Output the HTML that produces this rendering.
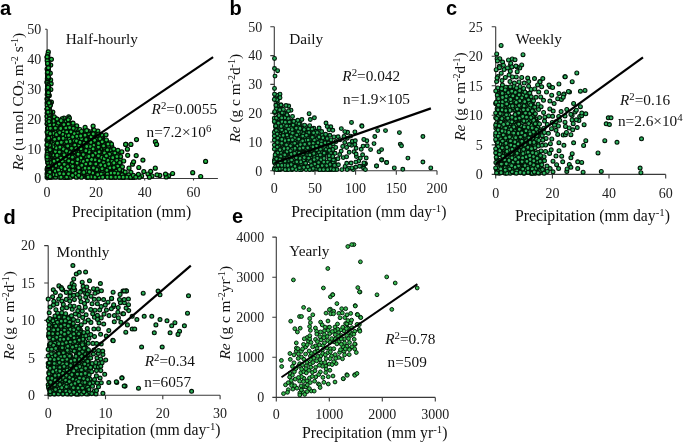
<!DOCTYPE html><html><head><meta charset="utf-8"><style>html,body{margin:0;padding:0;background:#fff;overflow:hidden}svg{display:block;filter:blur(0.35px)}</style></head><body><svg width="685" height="442" viewBox="0 0 685 442">
<style>.ax{stroke:#3a3a3a;stroke-width:1.1;fill:none}.tl{font-family:"Liberation Serif",serif;font-size:14px;fill:#222}.tt{font-family:"Liberation Serif",serif;font-size:15.3px;fill:#111}.pl{font-family:"Liberation Sans",sans-serif;font-size:20px;font-weight:bold;fill:#000}.xl{font-size:15.75px}.rl{stroke:#000;stroke-width:2.2;fill:none;stroke-linecap:butt}.da circle{r:2.0px}.db circle{r:1.9px}.dc circle{r:1.95px}.dd circle{r:1.95px}.de circle{r:1.9px}</style>
<rect width="685" height="442" fill="#fff"/>
<g>
<path d="M47.1 29.3V178.5H217.9" class="ax"/><path d="M45.1 178.5H47.1M45.1 148.7H47.1M45.1 118.8H47.1M45.1 89.0H47.1M45.1 59.1H47.1M45.1 29.3H47.1M47.1 178.5v2M95.9 178.5v2M144.7 178.5v2M193.5 178.5v2" class="ax"/>
<path d="M274.3 26.8V170.8H437.0" class="ax"/><path d="M270.3 170.8H274.3M270.3 142.0H274.3M270.3 113.2H274.3M270.3 84.4H274.3M270.3 55.6H274.3M270.3 26.8H274.3M274.3 170.8v4M315.0 170.8v4M355.6 170.8v4M396.3 170.8v4M437.0 170.8v4" class="ax"/>
<path d="M495.7 26.7V174.4H665.7" class="ax"/><path d="M491.7 174.4H495.7M491.7 144.9H495.7M491.7 115.3H495.7M491.7 85.8H495.7M491.7 56.2H495.7M491.7 26.7H495.7M495.7 174.4v4M552.4 174.4v4M609.0 174.4v4M665.7 174.4v4" class="ax"/>
<path d="M48.2 245.6V395.2H220.1" class="ax"/><path d="M44.2 395.2H48.2M44.2 357.8H48.2M44.2 320.4H48.2M44.2 283.0H48.2M44.2 245.6H48.2M48.2 395.2v4M105.5 395.2v4M162.8 395.2v4M220.1 395.2v4" class="ax"/>
<path d="M276.3 237.1V397.4H435.3" class="ax"/><path d="M272.3 397.4H276.3M272.3 357.3H276.3M272.3 317.2H276.3M272.3 277.2H276.3M272.3 237.1H276.3M276.3 397.4v4M329.3 397.4v4M382.3 397.4v4M435.3 397.4v4" class="ax"/>
</g>
<g fill="#22bc44" stroke="#011004" stroke-width="1.2" class="da">
<circle cx="83.0" cy="151.6"/><circle cx="109.1" cy="167.7"/><circle cx="103.8" cy="168.6"/><circle cx="90.4" cy="156.3"/><circle cx="82.2" cy="145.3"/><circle cx="108.1" cy="146.0"/><circle cx="63.6" cy="158.1"/><circle cx="65.7" cy="146.6"/><circle cx="57.4" cy="160.7"/><circle cx="129.4" cy="177.2"/><circle cx="77.2" cy="135.4"/><circle cx="74.0" cy="148.6"/><circle cx="51.3" cy="161.4"/><circle cx="89.1" cy="152.8"/><circle cx="51.8" cy="149.9"/><circle cx="102.1" cy="174.6"/><circle cx="73.9" cy="152.8"/><circle cx="74.2" cy="156.3"/><circle cx="91.9" cy="135.8"/><circle cx="59.3" cy="125.5"/><circle cx="70.4" cy="172.7"/><circle cx="48.5" cy="124.6"/><circle cx="88.5" cy="156.8"/><circle cx="70.8" cy="140.4"/><circle cx="85.4" cy="140.7"/><circle cx="50.6" cy="134.1"/><circle cx="61.0" cy="147.1"/><circle cx="104.0" cy="149.3"/><circle cx="112.4" cy="166.6"/><circle cx="132.1" cy="175.5"/><circle cx="117.8" cy="163.3"/><circle cx="66.6" cy="170.8"/><circle cx="49.8" cy="134.1"/><circle cx="83.7" cy="157.9"/><circle cx="78.6" cy="169.0"/><circle cx="55.7" cy="121.3"/><circle cx="92.4" cy="176.8"/><circle cx="57.5" cy="147.9"/><circle cx="91.4" cy="160.8"/><circle cx="125.8" cy="176.4"/><circle cx="85.1" cy="143.3"/><circle cx="70.9" cy="176.6"/><circle cx="50.0" cy="121.7"/><circle cx="72.1" cy="160.5"/><circle cx="75.8" cy="132.7"/><circle cx="72.4" cy="165.8"/><circle cx="86.8" cy="170.0"/><circle cx="108.7" cy="147.7"/><circle cx="86.8" cy="132.7"/><circle cx="82.8" cy="147.8"/><circle cx="69.8" cy="139.0"/><circle cx="68.3" cy="122.0"/><circle cx="76.8" cy="161.6"/><circle cx="48.5" cy="142.4"/><circle cx="64.1" cy="121.1"/><circle cx="76.9" cy="163.9"/><circle cx="99.4" cy="149.8"/><circle cx="98.6" cy="151.3"/><circle cx="112.0" cy="152.2"/><circle cx="67.1" cy="132.7"/><circle cx="106.4" cy="166.2"/><circle cx="62.5" cy="147.1"/><circle cx="51.3" cy="175.4"/><circle cx="81.0" cy="153.3"/><circle cx="73.4" cy="144.2"/><circle cx="89.7" cy="137.0"/><circle cx="92.8" cy="174.9"/><circle cx="60.5" cy="152.0"/><circle cx="95.2" cy="149.4"/><circle cx="77.7" cy="149.1"/><circle cx="67.0" cy="144.3"/><circle cx="58.7" cy="151.1"/><circle cx="72.4" cy="163.0"/><circle cx="107.3" cy="142.6"/><circle cx="113.5" cy="152.1"/><circle cx="117.3" cy="166.2"/><circle cx="62.6" cy="128.5"/><circle cx="62.9" cy="175.2"/><circle cx="74.0" cy="129.0"/><circle cx="81.4" cy="131.9"/><circle cx="86.9" cy="175.0"/><circle cx="65.5" cy="147.3"/><circle cx="79.5" cy="149.6"/><circle cx="99.7" cy="143.3"/><circle cx="112.2" cy="161.4"/><circle cx="71.2" cy="151.8"/><circle cx="68.9" cy="166.5"/><circle cx="84.3" cy="158.9"/><circle cx="81.7" cy="147.6"/><circle cx="48.6" cy="130.6"/><circle cx="70.8" cy="154.8"/><circle cx="93.7" cy="162.9"/><circle cx="97.5" cy="163.9"/><circle cx="84.1" cy="159.8"/><circle cx="107.9" cy="157.5"/><circle cx="60.5" cy="162.2"/><circle cx="84.9" cy="163.7"/><circle cx="82.6" cy="171.3"/><circle cx="65.1" cy="155.2"/><circle cx="113.3" cy="158.4"/><circle cx="77.9" cy="150.7"/><circle cx="56.1" cy="121.3"/><circle cx="65.5" cy="151.4"/><circle cx="95.3" cy="172.7"/><circle cx="78.8" cy="155.5"/><circle cx="88.4" cy="143.8"/><circle cx="68.9" cy="175.1"/><circle cx="79.2" cy="151.8"/><circle cx="56.1" cy="168.7"/><circle cx="80.8" cy="143.8"/><circle cx="76.0" cy="136.8"/><circle cx="48.3" cy="135.5"/><circle cx="62.3" cy="152.8"/><circle cx="51.5" cy="121.5"/><circle cx="75.1" cy="147.6"/><circle cx="90.6" cy="175.6"/><circle cx="97.7" cy="159.7"/><circle cx="106.3" cy="166.3"/><circle cx="107.9" cy="149.4"/><circle cx="76.4" cy="147.9"/><circle cx="77.1" cy="171.9"/><circle cx="74.7" cy="139.2"/><circle cx="105.4" cy="151.7"/><circle cx="88.2" cy="174.5"/><circle cx="100.6" cy="137.1"/><circle cx="79.1" cy="150.5"/><circle cx="64.4" cy="130.1"/><circle cx="77.2" cy="157.5"/><circle cx="95.8" cy="142.2"/><circle cx="123.2" cy="177.2"/><circle cx="96.9" cy="175.4"/><circle cx="82.5" cy="136.0"/><circle cx="53.2" cy="154.4"/><circle cx="56.5" cy="155.2"/><circle cx="67.6" cy="167.9"/><circle cx="97.8" cy="158.0"/><circle cx="48.6" cy="142.7"/><circle cx="49.0" cy="169.5"/><circle cx="110.4" cy="176.8"/><circle cx="110.2" cy="174.0"/><circle cx="59.0" cy="136.8"/><circle cx="69.5" cy="154.7"/><circle cx="54.9" cy="129.6"/><circle cx="78.3" cy="151.4"/><circle cx="62.9" cy="166.0"/><circle cx="97.5" cy="167.4"/><circle cx="72.9" cy="150.0"/><circle cx="87.4" cy="165.1"/><circle cx="64.9" cy="124.3"/><circle cx="103.1" cy="148.6"/><circle cx="51.9" cy="119.9"/><circle cx="94.0" cy="137.7"/><circle cx="76.1" cy="137.4"/><circle cx="80.6" cy="169.6"/><circle cx="118.8" cy="168.0"/><circle cx="91.7" cy="135.3"/><circle cx="118.0" cy="155.7"/><circle cx="75.1" cy="136.2"/><circle cx="70.7" cy="168.3"/><circle cx="75.4" cy="155.9"/><circle cx="67.1" cy="173.9"/><circle cx="52.0" cy="119.9"/><circle cx="110.0" cy="163.8"/><circle cx="101.5" cy="142.7"/><circle cx="133.2" cy="177.2"/><circle cx="69.4" cy="144.5"/><circle cx="81.9" cy="141.5"/><circle cx="55.4" cy="167.1"/><circle cx="89.9" cy="147.7"/><circle cx="94.8" cy="162.6"/><circle cx="52.9" cy="164.1"/><circle cx="129.9" cy="175.1"/><circle cx="114.7" cy="170.0"/><circle cx="94.4" cy="149.5"/><circle cx="101.1" cy="154.9"/><circle cx="91.0" cy="136.6"/><circle cx="71.8" cy="124.2"/><circle cx="103.1" cy="174.2"/><circle cx="83.4" cy="155.6"/><circle cx="112.4" cy="149.5"/><circle cx="75.5" cy="171.0"/><circle cx="55.3" cy="168.8"/><circle cx="94.9" cy="144.9"/><circle cx="78.4" cy="129.8"/><circle cx="74.7" cy="165.5"/><circle cx="83.0" cy="147.7"/><circle cx="71.8" cy="131.1"/><circle cx="133.0" cy="177.2"/><circle cx="99.2" cy="151.7"/><circle cx="95.7" cy="150.6"/><circle cx="64.1" cy="141.0"/><circle cx="89.5" cy="138.9"/><circle cx="69.2" cy="126.3"/><circle cx="72.5" cy="136.3"/><circle cx="51.3" cy="136.6"/><circle cx="67.1" cy="158.5"/><circle cx="77.0" cy="167.6"/><circle cx="70.4" cy="136.9"/><circle cx="85.0" cy="161.6"/><circle cx="117.0" cy="156.4"/><circle cx="100.5" cy="166.9"/><circle cx="93.5" cy="147.2"/><circle cx="108.0" cy="159.7"/><circle cx="96.9" cy="159.9"/><circle cx="106.6" cy="152.7"/><circle cx="70.7" cy="131.9"/><circle cx="58.2" cy="166.7"/><circle cx="50.8" cy="118.9"/><circle cx="85.8" cy="145.7"/><circle cx="84.7" cy="144.8"/><circle cx="98.6" cy="145.3"/><circle cx="57.0" cy="124.3"/><circle cx="54.2" cy="143.0"/><circle cx="87.6" cy="159.3"/><circle cx="57.5" cy="154.6"/><circle cx="109.6" cy="158.5"/><circle cx="84.6" cy="152.4"/><circle cx="52.4" cy="130.5"/><circle cx="107.0" cy="151.9"/><circle cx="83.5" cy="165.4"/><circle cx="73.5" cy="165.5"/><circle cx="71.4" cy="128.7"/><circle cx="51.9" cy="133.2"/><circle cx="51.5" cy="133.1"/><circle cx="52.0" cy="122.8"/><circle cx="67.5" cy="129.0"/><circle cx="109.0" cy="176.1"/><circle cx="86.7" cy="172.5"/><circle cx="78.2" cy="176.8"/><circle cx="99.9" cy="165.5"/><circle cx="96.1" cy="177.2"/><circle cx="65.8" cy="165.4"/><circle cx="67.4" cy="142.7"/><circle cx="81.8" cy="166.2"/><circle cx="76.0" cy="149.2"/><circle cx="50.9" cy="171.9"/><circle cx="114.9" cy="176.0"/><circle cx="57.0" cy="128.6"/><circle cx="59.8" cy="132.3"/><circle cx="66.9" cy="142.6"/><circle cx="74.7" cy="132.5"/><circle cx="49.6" cy="168.7"/><circle cx="96.4" cy="140.7"/><circle cx="52.8" cy="167.2"/><circle cx="87.1" cy="142.5"/><circle cx="52.5" cy="122.0"/><circle cx="92.1" cy="153.0"/><circle cx="110.0" cy="168.6"/><circle cx="87.4" cy="154.9"/><circle cx="65.0" cy="152.1"/><circle cx="68.1" cy="161.4"/><circle cx="118.5" cy="163.6"/><circle cx="66.3" cy="140.4"/><circle cx="91.9" cy="163.7"/><circle cx="70.2" cy="145.5"/><circle cx="61.2" cy="162.0"/><circle cx="77.3" cy="163.3"/><circle cx="80.7" cy="176.5"/><circle cx="103.5" cy="168.1"/><circle cx="67.3" cy="142.3"/><circle cx="116.8" cy="163.8"/><circle cx="56.2" cy="163.9"/><circle cx="49.2" cy="136.4"/><circle cx="76.2" cy="134.7"/><circle cx="82.3" cy="169.8"/><circle cx="94.6" cy="170.2"/><circle cx="61.4" cy="149.6"/><circle cx="58.8" cy="150.5"/><circle cx="79.9" cy="168.7"/><circle cx="71.3" cy="131.4"/><circle cx="117.8" cy="169.4"/><circle cx="56.5" cy="140.0"/><circle cx="66.0" cy="172.3"/><circle cx="71.2" cy="166.3"/><circle cx="97.9" cy="177.2"/><circle cx="56.1" cy="118.9"/><circle cx="53.1" cy="134.9"/><circle cx="87.7" cy="177.2"/><circle cx="54.3" cy="124.0"/><circle cx="97.4" cy="154.2"/><circle cx="55.5" cy="166.7"/><circle cx="49.0" cy="124.6"/><circle cx="120.3" cy="171.0"/><circle cx="47.1" cy="116.2"/><circle cx="50.0" cy="169.0"/><circle cx="81.7" cy="146.8"/><circle cx="81.2" cy="148.6"/><circle cx="50.3" cy="169.7"/><circle cx="80.3" cy="155.7"/><circle cx="57.1" cy="146.2"/><circle cx="117.7" cy="176.0"/><circle cx="111.9" cy="168.5"/><circle cx="71.1" cy="165.8"/><circle cx="101.3" cy="151.9"/><circle cx="71.8" cy="126.5"/><circle cx="86.0" cy="140.5"/><circle cx="82.8" cy="137.3"/><circle cx="50.1" cy="164.3"/><circle cx="55.1" cy="164.3"/><circle cx="96.8" cy="175.9"/><circle cx="81.8" cy="171.1"/><circle cx="62.1" cy="163.7"/><circle cx="109.3" cy="173.5"/><circle cx="65.5" cy="145.8"/><circle cx="50.4" cy="133.5"/><circle cx="75.0" cy="130.0"/><circle cx="54.2" cy="155.2"/><circle cx="91.5" cy="177.2"/><circle cx="104.6" cy="169.7"/><circle cx="68.9" cy="127.7"/><circle cx="51.2" cy="123.1"/><circle cx="57.7" cy="168.1"/><circle cx="49.2" cy="155.9"/><circle cx="132.4" cy="177.2"/><circle cx="73.4" cy="150.2"/><circle cx="49.4" cy="169.2"/><circle cx="54.0" cy="168.4"/><circle cx="93.7" cy="134.2"/><circle cx="66.1" cy="177.2"/><circle cx="87.7" cy="174.1"/><circle cx="84.6" cy="163.4"/><circle cx="69.6" cy="160.0"/><circle cx="49.0" cy="171.3"/><circle cx="78.2" cy="134.2"/><circle cx="98.5" cy="158.9"/><circle cx="98.1" cy="154.0"/><circle cx="64.1" cy="142.4"/><circle cx="60.7" cy="123.9"/><circle cx="79.8" cy="136.1"/><circle cx="73.8" cy="137.0"/><circle cx="49.4" cy="174.9"/><circle cx="55.8" cy="131.8"/><circle cx="62.5" cy="139.3"/><circle cx="88.2" cy="163.0"/><circle cx="93.1" cy="139.3"/><circle cx="63.6" cy="127.4"/><circle cx="100.3" cy="142.6"/><circle cx="91.6" cy="175.0"/><circle cx="66.2" cy="125.0"/><circle cx="49.1" cy="137.1"/><circle cx="53.4" cy="153.8"/><circle cx="77.6" cy="152.6"/><circle cx="55.3" cy="121.5"/><circle cx="94.7" cy="149.7"/><circle cx="48.2" cy="160.2"/><circle cx="63.0" cy="167.2"/><circle cx="77.8" cy="139.0"/><circle cx="50.9" cy="157.6"/><circle cx="67.8" cy="159.0"/><circle cx="56.9" cy="123.7"/><circle cx="61.7" cy="153.1"/><circle cx="90.3" cy="173.7"/><circle cx="78.4" cy="155.6"/><circle cx="50.6" cy="157.8"/><circle cx="70.5" cy="172.5"/><circle cx="101.5" cy="172.9"/><circle cx="62.7" cy="151.8"/><circle cx="82.1" cy="165.1"/><circle cx="52.5" cy="155.9"/><circle cx="75.4" cy="128.0"/><circle cx="51.2" cy="117.6"/><circle cx="64.2" cy="132.5"/><circle cx="53.1" cy="129.3"/><circle cx="84.9" cy="140.4"/><circle cx="59.6" cy="131.3"/><circle cx="61.0" cy="120.8"/><circle cx="94.2" cy="154.2"/><circle cx="100.2" cy="165.1"/><circle cx="50.2" cy="161.9"/><circle cx="87.2" cy="167.4"/><circle cx="79.4" cy="167.8"/><circle cx="60.7" cy="138.7"/><circle cx="59.2" cy="172.8"/><circle cx="96.6" cy="174.3"/><circle cx="115.2" cy="159.0"/><circle cx="120.6" cy="170.5"/><circle cx="102.0" cy="175.1"/><circle cx="56.9" cy="140.0"/><circle cx="56.6" cy="131.6"/><circle cx="73.9" cy="157.6"/><circle cx="85.7" cy="168.0"/><circle cx="92.7" cy="139.8"/><circle cx="51.1" cy="126.0"/><circle cx="105.3" cy="153.6"/><circle cx="68.9" cy="155.3"/><circle cx="56.3" cy="169.1"/><circle cx="76.3" cy="144.3"/><circle cx="67.6" cy="133.6"/><circle cx="96.2" cy="152.0"/><circle cx="70.6" cy="133.0"/><circle cx="61.7" cy="165.6"/><circle cx="63.6" cy="167.1"/><circle cx="70.7" cy="157.9"/><circle cx="97.9" cy="170.4"/><circle cx="72.6" cy="127.9"/><circle cx="101.3" cy="146.7"/><circle cx="51.4" cy="159.6"/><circle cx="104.3" cy="175.6"/><circle cx="55.0" cy="160.4"/><circle cx="115.5" cy="176.0"/><circle cx="107.0" cy="173.4"/><circle cx="55.8" cy="127.5"/><circle cx="55.2" cy="131.8"/><circle cx="108.7" cy="156.8"/><circle cx="67.3" cy="172.7"/><circle cx="125.0" cy="174.7"/><circle cx="59.6" cy="165.2"/><circle cx="75.7" cy="140.9"/><circle cx="49.0" cy="173.8"/><circle cx="50.4" cy="117.2"/><circle cx="60.1" cy="129.1"/><circle cx="68.2" cy="159.6"/><circle cx="109.0" cy="159.4"/><circle cx="66.6" cy="152.3"/><circle cx="115.5" cy="175.9"/><circle cx="83.7" cy="171.2"/><circle cx="95.2" cy="162.9"/><circle cx="65.9" cy="137.8"/><circle cx="64.8" cy="177.2"/><circle cx="108.4" cy="160.2"/><circle cx="59.8" cy="133.5"/><circle cx="112.1" cy="167.3"/><circle cx="54.4" cy="174.0"/><circle cx="57.6" cy="124.9"/><circle cx="116.7" cy="153.0"/><circle cx="86.2" cy="147.3"/><circle cx="67.0" cy="128.3"/><circle cx="49.6" cy="140.0"/><circle cx="69.3" cy="142.2"/><circle cx="76.6" cy="127.6"/><circle cx="51.6" cy="137.7"/><circle cx="67.7" cy="149.4"/><circle cx="52.8" cy="119.8"/><circle cx="102.9" cy="147.5"/><circle cx="78.7" cy="133.9"/><circle cx="74.4" cy="155.7"/><circle cx="113.9" cy="174.6"/><circle cx="75.1" cy="156.3"/><circle cx="110.5" cy="146.9"/><circle cx="66.8" cy="166.4"/><circle cx="52.2" cy="177.2"/><circle cx="105.3" cy="176.2"/><circle cx="56.5" cy="137.1"/><circle cx="102.5" cy="148.6"/><circle cx="69.2" cy="135.0"/><circle cx="60.2" cy="130.1"/><circle cx="113.2" cy="156.6"/><circle cx="91.1" cy="158.5"/><circle cx="61.2" cy="162.6"/><circle cx="84.5" cy="133.5"/><circle cx="47.9" cy="130.4"/><circle cx="66.1" cy="125.4"/><circle cx="52.8" cy="164.8"/><circle cx="62.9" cy="140.7"/><circle cx="100.6" cy="153.0"/><circle cx="70.9" cy="163.0"/><circle cx="96.0" cy="142.6"/><circle cx="68.3" cy="143.7"/><circle cx="53.6" cy="141.8"/><circle cx="67.0" cy="131.7"/><circle cx="77.5" cy="173.5"/><circle cx="55.9" cy="151.5"/><circle cx="73.0" cy="146.1"/><circle cx="50.6" cy="145.5"/><circle cx="103.4" cy="161.5"/><circle cx="91.5" cy="141.0"/><circle cx="92.4" cy="177.2"/><circle cx="93.1" cy="154.1"/><circle cx="99.1" cy="173.8"/><circle cx="52.0" cy="126.8"/><circle cx="102.6" cy="138.0"/><circle cx="117.6" cy="160.4"/><circle cx="83.9" cy="165.7"/><circle cx="91.0" cy="138.1"/><circle cx="53.5" cy="127.1"/><circle cx="102.9" cy="166.5"/><circle cx="118.5" cy="163.1"/><circle cx="92.8" cy="144.9"/><circle cx="96.0" cy="171.8"/><circle cx="97.2" cy="167.8"/><circle cx="67.3" cy="157.3"/><circle cx="63.1" cy="130.9"/><circle cx="77.9" cy="143.7"/><circle cx="60.1" cy="132.9"/><circle cx="76.1" cy="165.0"/><circle cx="113.4" cy="168.2"/><circle cx="81.7" cy="160.6"/><circle cx="52.3" cy="145.8"/><circle cx="120.1" cy="174.4"/><circle cx="76.5" cy="149.3"/><circle cx="126.4" cy="175.7"/><circle cx="89.6" cy="152.2"/><circle cx="56.0" cy="167.0"/><circle cx="75.4" cy="154.1"/><circle cx="84.5" cy="174.7"/><circle cx="79.7" cy="146.1"/><circle cx="61.3" cy="137.5"/><circle cx="75.7" cy="157.6"/><circle cx="95.1" cy="157.0"/><circle cx="116.3" cy="160.1"/><circle cx="71.9" cy="124.6"/><circle cx="62.1" cy="121.6"/><circle cx="56.6" cy="156.6"/><circle cx="68.6" cy="134.5"/><circle cx="75.1" cy="145.6"/><circle cx="90.4" cy="167.3"/><circle cx="85.9" cy="159.4"/><circle cx="48.3" cy="164.1"/><circle cx="87.3" cy="158.5"/><circle cx="106.6" cy="169.0"/><circle cx="76.5" cy="172.3"/><circle cx="61.2" cy="166.3"/><circle cx="95.9" cy="143.0"/><circle cx="67.2" cy="130.3"/><circle cx="116.1" cy="176.6"/><circle cx="110.6" cy="150.6"/><circle cx="61.4" cy="148.8"/><circle cx="73.8" cy="160.8"/><circle cx="80.0" cy="165.9"/><circle cx="48.7" cy="140.1"/><circle cx="92.8" cy="160.6"/><circle cx="80.6" cy="153.4"/><circle cx="73.4" cy="173.5"/><circle cx="70.0" cy="141.3"/><circle cx="99.4" cy="162.2"/><circle cx="64.7" cy="168.0"/><circle cx="56.2" cy="152.5"/><circle cx="54.0" cy="148.1"/><circle cx="62.5" cy="159.6"/><circle cx="94.4" cy="145.9"/><circle cx="70.3" cy="129.3"/><circle cx="73.2" cy="131.2"/><circle cx="93.3" cy="138.7"/><circle cx="98.7" cy="153.6"/><circle cx="110.2" cy="166.3"/><circle cx="93.3" cy="164.5"/><circle cx="76.9" cy="174.5"/><circle cx="93.2" cy="172.0"/><circle cx="70.7" cy="144.4"/><circle cx="100.0" cy="159.3"/><circle cx="51.2" cy="128.7"/><circle cx="116.2" cy="174.6"/><circle cx="102.2" cy="147.9"/><circle cx="74.6" cy="173.0"/><circle cx="100.8" cy="151.4"/><circle cx="119.9" cy="168.3"/><circle cx="69.8" cy="158.2"/><circle cx="76.8" cy="166.7"/><circle cx="102.2" cy="170.2"/><circle cx="81.5" cy="149.1"/><circle cx="50.3" cy="165.5"/><circle cx="111.3" cy="161.5"/><circle cx="67.8" cy="169.6"/><circle cx="101.7" cy="148.4"/><circle cx="68.1" cy="177.2"/><circle cx="102.1" cy="153.3"/><circle cx="97.0" cy="160.8"/><circle cx="76.3" cy="148.3"/><circle cx="59.7" cy="153.6"/><circle cx="58.4" cy="131.5"/><circle cx="81.2" cy="140.2"/><circle cx="56.1" cy="147.4"/><circle cx="131.5" cy="177.2"/><circle cx="89.6" cy="141.6"/><circle cx="115.2" cy="177.2"/><circle cx="58.7" cy="165.3"/><circle cx="61.8" cy="142.8"/><circle cx="112.2" cy="162.1"/><circle cx="60.3" cy="124.6"/><circle cx="95.7" cy="166.9"/><circle cx="90.6" cy="158.2"/><circle cx="80.0" cy="147.2"/><circle cx="78.4" cy="150.8"/><circle cx="106.3" cy="175.3"/><circle cx="92.8" cy="147.7"/><circle cx="104.4" cy="150.1"/><circle cx="117.2" cy="174.9"/><circle cx="54.8" cy="165.3"/><circle cx="60.4" cy="159.9"/><circle cx="49.1" cy="157.0"/><circle cx="87.2" cy="146.9"/><circle cx="110.5" cy="175.1"/><circle cx="101.2" cy="158.2"/><circle cx="55.9" cy="155.3"/><circle cx="119.7" cy="176.2"/><circle cx="79.8" cy="141.8"/><circle cx="60.8" cy="177.2"/><circle cx="85.9" cy="148.1"/><circle cx="90.8" cy="174.5"/><circle cx="119.4" cy="163.6"/><circle cx="84.2" cy="169.9"/><circle cx="85.4" cy="146.7"/><circle cx="91.4" cy="155.4"/><circle cx="94.6" cy="155.8"/><circle cx="54.5" cy="128.5"/><circle cx="94.3" cy="156.9"/><circle cx="53.7" cy="144.2"/><circle cx="76.2" cy="166.5"/><circle cx="65.4" cy="177.1"/><circle cx="120.1" cy="170.7"/><circle cx="65.2" cy="123.8"/><circle cx="105.0" cy="166.6"/><circle cx="87.8" cy="172.9"/><circle cx="91.2" cy="133.5"/><circle cx="120.5" cy="160.2"/><circle cx="89.3" cy="150.3"/><circle cx="59.9" cy="149.0"/><circle cx="51.6" cy="136.0"/><circle cx="123.3" cy="177.2"/><circle cx="58.9" cy="177.1"/><circle cx="50.4" cy="177.2"/><circle cx="62.7" cy="136.5"/><circle cx="97.1" cy="162.7"/><circle cx="96.4" cy="166.1"/><circle cx="50.7" cy="131.5"/><circle cx="100.2" cy="141.4"/><circle cx="54.8" cy="138.7"/><circle cx="86.9" cy="172.6"/><circle cx="102.9" cy="165.2"/><circle cx="116.4" cy="171.5"/><circle cx="105.3" cy="171.5"/><circle cx="68.8" cy="156.5"/><circle cx="53.2" cy="123.5"/><circle cx="51.9" cy="172.4"/><circle cx="55.7" cy="145.2"/><circle cx="50.7" cy="118.2"/><circle cx="97.5" cy="169.7"/><circle cx="85.8" cy="164.4"/><circle cx="89.1" cy="158.5"/><circle cx="103.5" cy="146.2"/><circle cx="71.5" cy="150.5"/><circle cx="69.9" cy="155.8"/><circle cx="66.5" cy="163.7"/><circle cx="66.2" cy="131.1"/><circle cx="54.6" cy="171.3"/><circle cx="83.0" cy="151.6"/><circle cx="96.9" cy="171.7"/><circle cx="87.6" cy="170.5"/><circle cx="60.4" cy="172.9"/><circle cx="55.4" cy="128.0"/><circle cx="133.5" cy="177.2"/><circle cx="95.6" cy="170.1"/><circle cx="101.0" cy="141.9"/><circle cx="78.7" cy="141.1"/><circle cx="49.5" cy="139.3"/><circle cx="80.1" cy="159.8"/><circle cx="49.2" cy="119.0"/><circle cx="68.7" cy="156.4"/><circle cx="54.3" cy="164.7"/><circle cx="88.5" cy="159.5"/><circle cx="70.3" cy="154.7"/><circle cx="115.3" cy="155.8"/><circle cx="115.9" cy="159.7"/><circle cx="63.9" cy="162.2"/><circle cx="117.4" cy="155.3"/><circle cx="90.4" cy="147.7"/><circle cx="74.8" cy="132.8"/><circle cx="64.8" cy="143.4"/><circle cx="85.3" cy="158.9"/><circle cx="66.8" cy="133.8"/><circle cx="117.8" cy="165.6"/><circle cx="122.4" cy="177.2"/><circle cx="121.3" cy="175.0"/><circle cx="109.3" cy="164.5"/><circle cx="68.1" cy="124.6"/><circle cx="85.8" cy="142.3"/><circle cx="100.4" cy="174.8"/><circle cx="110.0" cy="158.2"/><circle cx="93.9" cy="148.1"/><circle cx="65.8" cy="142.7"/><circle cx="87.7" cy="135.1"/><circle cx="64.0" cy="122.8"/><circle cx="85.6" cy="162.0"/><circle cx="56.0" cy="160.9"/><circle cx="94.0" cy="140.3"/><circle cx="98.5" cy="160.8"/><circle cx="86.6" cy="150.9"/><circle cx="109.9" cy="166.2"/><circle cx="78.4" cy="144.5"/><circle cx="110.1" cy="165.0"/><circle cx="56.6" cy="141.6"/><circle cx="56.3" cy="122.7"/><circle cx="112.9" cy="152.0"/><circle cx="52.1" cy="131.0"/><circle cx="96.7" cy="170.7"/><circle cx="102.7" cy="145.9"/><circle cx="68.5" cy="135.1"/><circle cx="69.9" cy="139.7"/><circle cx="69.7" cy="173.5"/><circle cx="74.1" cy="175.2"/><circle cx="99.2" cy="152.6"/><circle cx="69.6" cy="174.8"/><circle cx="102.3" cy="167.2"/><circle cx="59.0" cy="138.2"/><circle cx="71.8" cy="159.6"/><circle cx="61.5" cy="157.5"/><circle cx="71.1" cy="154.7"/><circle cx="90.5" cy="156.6"/><circle cx="133.3" cy="175.6"/><circle cx="50.2" cy="172.0"/><circle cx="55.0" cy="145.2"/><circle cx="112.8" cy="177.2"/><circle cx="61.4" cy="140.8"/><circle cx="68.4" cy="163.9"/><circle cx="90.5" cy="171.2"/><circle cx="73.7" cy="166.7"/><circle cx="86.7" cy="177.2"/><circle cx="111.3" cy="152.7"/><circle cx="86.8" cy="143.6"/><circle cx="53.4" cy="168.4"/><circle cx="54.2" cy="159.8"/><circle cx="72.2" cy="129.2"/><circle cx="75.7" cy="132.0"/><circle cx="62.0" cy="127.7"/><circle cx="64.2" cy="177.2"/><circle cx="57.5" cy="144.9"/><circle cx="116.8" cy="153.6"/><circle cx="85.7" cy="173.1"/><circle cx="65.7" cy="162.0"/><circle cx="91.0" cy="136.8"/><circle cx="94.1" cy="156.9"/><circle cx="52.1" cy="130.5"/><circle cx="81.0" cy="132.7"/><circle cx="56.0" cy="162.3"/><circle cx="111.7" cy="146.0"/><circle cx="55.8" cy="127.8"/><circle cx="48.5" cy="146.6"/><circle cx="77.4" cy="151.7"/><circle cx="104.9" cy="170.0"/><circle cx="94.0" cy="150.9"/><circle cx="66.0" cy="147.2"/><circle cx="119.4" cy="177.2"/><circle cx="47.7" cy="171.0"/><circle cx="87.8" cy="135.9"/><circle cx="76.1" cy="157.2"/><circle cx="98.3" cy="176.7"/><circle cx="47.7" cy="167.7"/><circle cx="98.8" cy="145.7"/><circle cx="70.0" cy="154.0"/><circle cx="106.3" cy="162.6"/><circle cx="70.2" cy="127.1"/><circle cx="100.9" cy="138.4"/><circle cx="76.4" cy="153.3"/><circle cx="137.3" cy="176.0"/><circle cx="49.3" cy="160.9"/><circle cx="48.1" cy="128.7"/><circle cx="59.3" cy="153.1"/><circle cx="48.4" cy="155.0"/><circle cx="64.3" cy="162.9"/><circle cx="53.6" cy="162.8"/><circle cx="67.0" cy="143.6"/><circle cx="71.5" cy="164.7"/><circle cx="99.9" cy="156.6"/><circle cx="69.1" cy="161.4"/><circle cx="122.9" cy="171.3"/><circle cx="67.1" cy="173.7"/><circle cx="101.0" cy="169.3"/><circle cx="50.4" cy="132.7"/><circle cx="79.0" cy="172.3"/><circle cx="61.6" cy="125.6"/><circle cx="96.9" cy="145.4"/><circle cx="55.2" cy="126.3"/><circle cx="54.5" cy="125.6"/><circle cx="118.4" cy="166.1"/><circle cx="66.3" cy="124.4"/><circle cx="54.8" cy="160.3"/><circle cx="60.3" cy="149.9"/><circle cx="96.0" cy="167.7"/><circle cx="56.6" cy="164.3"/><circle cx="71.2" cy="142.3"/><circle cx="98.2" cy="148.2"/><circle cx="97.1" cy="148.0"/><circle cx="72.1" cy="123.4"/><circle cx="105.1" cy="157.8"/><circle cx="100.9" cy="155.0"/><circle cx="80.6" cy="132.6"/><circle cx="91.4" cy="169.4"/><circle cx="107.6" cy="168.4"/><circle cx="49.3" cy="135.4"/><circle cx="49.2" cy="158.0"/><circle cx="96.9" cy="175.1"/><circle cx="64.9" cy="148.0"/><circle cx="60.1" cy="171.6"/><circle cx="123.8" cy="173.0"/><circle cx="90.9" cy="144.5"/><circle cx="56.4" cy="140.8"/><circle cx="103.4" cy="143.6"/><circle cx="113.3" cy="167.2"/><circle cx="59.1" cy="172.7"/><circle cx="63.4" cy="167.9"/><circle cx="79.4" cy="158.0"/><circle cx="100.9" cy="158.7"/><circle cx="71.8" cy="160.2"/><circle cx="74.0" cy="171.8"/><circle cx="75.1" cy="171.6"/><circle cx="94.0" cy="143.7"/><circle cx="67.4" cy="167.3"/><circle cx="49.3" cy="154.7"/><circle cx="49.6" cy="145.3"/><circle cx="52.1" cy="164.1"/><circle cx="56.6" cy="128.0"/><circle cx="130.5" cy="177.2"/><circle cx="91.1" cy="135.6"/><circle cx="117.3" cy="154.9"/><circle cx="52.2" cy="164.8"/><circle cx="48.2" cy="107.8"/><circle cx="72.2" cy="156.2"/><circle cx="75.2" cy="138.0"/><circle cx="74.8" cy="157.5"/><circle cx="103.0" cy="141.6"/><circle cx="64.5" cy="168.4"/><circle cx="98.6" cy="152.1"/><circle cx="71.9" cy="161.4"/><circle cx="78.4" cy="158.0"/><circle cx="55.1" cy="157.8"/><circle cx="92.2" cy="145.8"/><circle cx="74.9" cy="142.7"/><circle cx="110.1" cy="157.8"/><circle cx="52.0" cy="169.8"/><circle cx="84.3" cy="160.8"/><circle cx="48.6" cy="169.2"/><circle cx="90.0" cy="148.9"/><circle cx="57.3" cy="145.1"/><circle cx="101.4" cy="171.2"/><circle cx="90.7" cy="146.5"/><circle cx="52.9" cy="166.8"/><circle cx="79.7" cy="153.8"/><circle cx="70.5" cy="133.2"/><circle cx="122.0" cy="174.0"/><circle cx="112.9" cy="158.4"/><circle cx="105.1" cy="172.8"/><circle cx="60.2" cy="153.0"/><circle cx="86.3" cy="161.2"/><circle cx="63.8" cy="143.2"/><circle cx="53.3" cy="142.7"/><circle cx="81.6" cy="174.4"/><circle cx="69.2" cy="137.9"/><circle cx="66.5" cy="164.8"/><circle cx="116.8" cy="163.9"/><circle cx="89.1" cy="135.6"/><circle cx="108.5" cy="174.2"/><circle cx="66.2" cy="120.8"/><circle cx="120.1" cy="164.1"/><circle cx="117.3" cy="167.1"/><circle cx="60.5" cy="161.0"/><circle cx="59.4" cy="154.3"/><circle cx="85.2" cy="131.0"/><circle cx="88.8" cy="133.6"/><circle cx="59.1" cy="170.0"/><circle cx="58.6" cy="130.8"/><circle cx="108.3" cy="168.0"/><circle cx="53.7" cy="137.0"/><circle cx="55.0" cy="134.3"/><circle cx="75.5" cy="156.4"/><circle cx="81.8" cy="154.0"/><circle cx="54.0" cy="156.6"/><circle cx="69.4" cy="124.6"/><circle cx="61.4" cy="121.2"/><circle cx="50.8" cy="124.4"/><circle cx="100.2" cy="153.6"/><circle cx="98.0" cy="158.1"/><circle cx="71.0" cy="124.9"/><circle cx="92.7" cy="137.6"/><circle cx="121.8" cy="170.7"/><circle cx="105.0" cy="148.5"/><circle cx="102.8" cy="164.5"/><circle cx="83.7" cy="144.8"/><circle cx="52.9" cy="143.8"/><circle cx="78.4" cy="164.8"/><circle cx="71.5" cy="147.8"/><circle cx="71.3" cy="165.0"/><circle cx="51.6" cy="130.9"/><circle cx="90.6" cy="167.4"/><circle cx="87.6" cy="144.2"/><circle cx="131.3" cy="175.7"/><circle cx="63.2" cy="175.3"/><circle cx="59.7" cy="163.3"/><circle cx="95.7" cy="136.3"/><circle cx="104.0" cy="141.0"/><circle cx="73.0" cy="153.7"/><circle cx="96.0" cy="155.0"/><circle cx="57.6" cy="134.5"/><circle cx="52.1" cy="161.9"/><circle cx="63.3" cy="160.7"/><circle cx="58.5" cy="155.4"/><circle cx="115.4" cy="164.5"/><circle cx="49.8" cy="121.3"/><circle cx="113.0" cy="158.6"/><circle cx="100.3" cy="172.0"/><circle cx="80.1" cy="159.3"/><circle cx="50.9" cy="124.1"/><circle cx="65.7" cy="130.1"/><circle cx="101.5" cy="137.6"/><circle cx="67.1" cy="153.7"/><circle cx="87.5" cy="176.0"/><circle cx="52.6" cy="153.9"/><circle cx="78.2" cy="167.6"/><circle cx="95.1" cy="165.3"/><circle cx="105.3" cy="154.5"/><circle cx="103.2" cy="172.8"/><circle cx="55.9" cy="157.4"/><circle cx="75.5" cy="153.6"/><circle cx="66.7" cy="138.3"/><circle cx="100.5" cy="170.1"/><circle cx="113.3" cy="158.1"/><circle cx="81.4" cy="151.5"/><circle cx="131.1" cy="175.9"/><circle cx="82.3" cy="137.5"/><circle cx="72.5" cy="157.0"/><circle cx="123.9" cy="177.2"/><circle cx="74.3" cy="170.3"/><circle cx="64.9" cy="126.8"/><circle cx="87.3" cy="139.7"/><circle cx="100.9" cy="139.8"/><circle cx="58.7" cy="167.4"/><circle cx="92.9" cy="168.3"/><circle cx="68.6" cy="169.0"/><circle cx="102.3" cy="170.4"/><circle cx="77.4" cy="158.2"/><circle cx="52.8" cy="173.1"/><circle cx="90.4" cy="143.7"/><circle cx="96.7" cy="177.2"/><circle cx="73.3" cy="125.5"/><circle cx="59.7" cy="144.7"/><circle cx="83.2" cy="152.7"/><circle cx="49.5" cy="159.9"/><circle cx="72.5" cy="126.5"/><circle cx="98.7" cy="174.3"/><circle cx="83.7" cy="169.0"/><circle cx="55.7" cy="159.9"/><circle cx="68.5" cy="160.7"/><circle cx="87.9" cy="152.5"/><circle cx="87.9" cy="155.6"/><circle cx="104.1" cy="143.4"/><circle cx="76.6" cy="146.2"/><circle cx="66.1" cy="129.8"/><circle cx="66.2" cy="146.1"/><circle cx="71.2" cy="148.4"/><circle cx="60.8" cy="174.6"/><circle cx="58.8" cy="150.7"/><circle cx="100.8" cy="153.2"/><circle cx="55.9" cy="140.0"/><circle cx="71.8" cy="129.0"/><circle cx="77.4" cy="132.4"/><circle cx="53.3" cy="130.4"/><circle cx="102.2" cy="153.6"/><circle cx="74.9" cy="173.7"/><circle cx="99.4" cy="153.7"/><circle cx="74.0" cy="166.4"/><circle cx="90.8" cy="157.8"/><circle cx="53.4" cy="127.9"/><circle cx="47.9" cy="133.6"/><circle cx="69.3" cy="130.9"/><circle cx="74.5" cy="140.5"/><circle cx="48.4" cy="159.8"/><circle cx="61.4" cy="167.6"/><circle cx="76.1" cy="150.4"/><circle cx="49.5" cy="126.0"/><circle cx="104.9" cy="160.0"/><circle cx="85.8" cy="143.5"/><circle cx="59.9" cy="162.4"/><circle cx="100.4" cy="175.7"/><circle cx="84.4" cy="151.3"/><circle cx="108.3" cy="149.8"/><circle cx="71.9" cy="175.7"/><circle cx="56.5" cy="147.2"/><circle cx="88.7" cy="149.7"/><circle cx="101.5" cy="157.5"/><circle cx="99.9" cy="161.6"/><circle cx="89.5" cy="151.2"/><circle cx="54.5" cy="151.1"/><circle cx="61.1" cy="123.2"/><circle cx="95.5" cy="146.1"/><circle cx="79.0" cy="138.1"/><circle cx="61.8" cy="130.1"/><circle cx="110.4" cy="149.8"/><circle cx="57.6" cy="123.3"/><circle cx="86.3" cy="171.2"/><circle cx="92.6" cy="137.8"/><circle cx="88.4" cy="149.6"/><circle cx="65.9" cy="170.0"/><circle cx="89.7" cy="149.0"/><circle cx="53.6" cy="141.9"/><circle cx="48.7" cy="174.1"/><circle cx="75.5" cy="129.7"/><circle cx="51.5" cy="132.8"/><circle cx="67.5" cy="177.2"/><circle cx="55.1" cy="132.2"/><circle cx="88.3" cy="145.7"/><circle cx="61.6" cy="123.4"/><circle cx="63.2" cy="123.7"/><circle cx="54.5" cy="160.0"/><circle cx="70.0" cy="140.3"/><circle cx="65.4" cy="155.9"/><circle cx="115.1" cy="166.7"/><circle cx="78.6" cy="158.1"/><circle cx="62.6" cy="121.6"/><circle cx="115.5" cy="157.4"/><circle cx="108.1" cy="148.4"/><circle cx="49.9" cy="139.7"/><circle cx="93.4" cy="155.5"/><circle cx="95.8" cy="137.5"/><circle cx="91.2" cy="140.9"/><circle cx="64.6" cy="129.8"/><circle cx="63.0" cy="157.4"/><circle cx="77.6" cy="145.5"/><circle cx="63.7" cy="147.7"/><circle cx="56.8" cy="160.7"/><circle cx="77.9" cy="152.2"/><circle cx="100.9" cy="175.3"/><circle cx="49.7" cy="164.2"/><circle cx="56.0" cy="147.2"/><circle cx="102.3" cy="142.5"/><circle cx="50.5" cy="156.4"/><circle cx="50.6" cy="162.1"/><circle cx="102.8" cy="162.0"/><circle cx="62.2" cy="131.9"/><circle cx="108.5" cy="146.2"/><circle cx="58.6" cy="149.4"/><circle cx="90.3" cy="157.4"/><circle cx="107.0" cy="174.0"/><circle cx="99.0" cy="166.0"/><circle cx="82.1" cy="176.2"/><circle cx="86.7" cy="157.0"/><circle cx="78.6" cy="145.3"/><circle cx="110.6" cy="177.2"/><circle cx="73.4" cy="148.5"/><circle cx="92.2" cy="174.7"/><circle cx="101.2" cy="142.2"/><circle cx="54.8" cy="146.1"/><circle cx="68.1" cy="134.0"/><circle cx="105.2" cy="151.1"/><circle cx="81.5" cy="138.8"/><circle cx="75.0" cy="144.8"/><circle cx="112.7" cy="163.8"/><circle cx="67.3" cy="170.4"/><circle cx="95.1" cy="154.7"/><circle cx="81.6" cy="150.3"/><circle cx="56.9" cy="125.2"/><circle cx="75.6" cy="152.7"/><circle cx="90.1" cy="140.4"/><circle cx="64.6" cy="149.5"/><circle cx="117.1" cy="175.6"/><circle cx="65.5" cy="139.3"/><circle cx="81.3" cy="160.3"/><circle cx="113.8" cy="158.6"/><circle cx="62.0" cy="147.4"/><circle cx="119.5" cy="171.3"/><circle cx="86.7" cy="135.1"/><circle cx="61.2" cy="169.5"/><circle cx="64.0" cy="149.1"/><circle cx="90.7" cy="173.2"/><circle cx="63.5" cy="131.6"/><circle cx="55.4" cy="156.4"/><circle cx="71.3" cy="127.1"/><circle cx="74.0" cy="156.3"/><circle cx="54.6" cy="174.3"/><circle cx="59.7" cy="141.7"/><circle cx="64.3" cy="161.6"/><circle cx="57.4" cy="139.3"/><circle cx="118.8" cy="172.6"/><circle cx="111.5" cy="155.6"/><circle cx="78.6" cy="166.1"/><circle cx="52.7" cy="144.3"/><circle cx="61.4" cy="143.0"/><circle cx="81.1" cy="160.6"/><circle cx="93.0" cy="142.0"/><circle cx="69.3" cy="139.0"/><circle cx="84.9" cy="162.5"/><circle cx="103.6" cy="144.3"/><circle cx="96.2" cy="139.3"/><circle cx="51.2" cy="116.4"/><circle cx="58.6" cy="133.2"/><circle cx="97.5" cy="156.7"/><circle cx="62.9" cy="140.9"/><circle cx="69.4" cy="151.0"/><circle cx="69.3" cy="139.5"/><circle cx="65.5" cy="135.6"/><circle cx="114.2" cy="157.0"/><circle cx="111.9" cy="160.8"/><circle cx="51.0" cy="147.0"/><circle cx="75.2" cy="128.2"/><circle cx="141.6" cy="176.0"/><circle cx="94.6" cy="140.3"/><circle cx="63.3" cy="149.0"/><circle cx="106.0" cy="134.8"/><circle cx="106.9" cy="170.5"/><circle cx="90.7" cy="134.1"/><circle cx="93.7" cy="145.3"/><circle cx="81.0" cy="148.8"/><circle cx="59.4" cy="152.1"/><circle cx="117.8" cy="166.1"/><circle cx="70.7" cy="177.2"/><circle cx="104.5" cy="152.9"/><circle cx="84.1" cy="143.5"/><circle cx="125.2" cy="172.1"/><circle cx="65.4" cy="158.8"/><circle cx="47.1" cy="82.6"/><circle cx="55.6" cy="177.2"/><circle cx="78.1" cy="154.2"/><circle cx="114.9" cy="152.9"/><circle cx="87.8" cy="175.3"/><circle cx="99.4" cy="177.2"/><circle cx="90.3" cy="146.6"/><circle cx="103.6" cy="162.3"/><circle cx="159.8" cy="175.4"/><circle cx="75.5" cy="173.5"/><circle cx="110.9" cy="173.2"/><circle cx="109.5" cy="154.2"/><circle cx="50.3" cy="73.2"/><circle cx="92.7" cy="173.1"/><circle cx="55.4" cy="151.6"/><circle cx="95.5" cy="153.1"/><circle cx="148.0" cy="174.0"/><circle cx="67.7" cy="146.0"/><circle cx="74.2" cy="133.7"/><circle cx="62.7" cy="134.3"/><circle cx="67.6" cy="166.6"/><circle cx="47.2" cy="108.8"/><circle cx="123.7" cy="161.0"/><circle cx="142.9" cy="160.1"/><circle cx="130.9" cy="144.4"/><circle cx="143.8" cy="171.6"/><circle cx="47.1" cy="177.2"/><circle cx="91.1" cy="176.9"/><circle cx="49.2" cy="143.0"/><circle cx="118.1" cy="173.6"/><circle cx="68.7" cy="116.8"/><circle cx="78.7" cy="167.7"/><circle cx="120.6" cy="156.6"/><circle cx="122.2" cy="175.0"/><circle cx="47.1" cy="169.6"/><circle cx="50.8" cy="89.5"/><circle cx="68.6" cy="135.4"/><circle cx="63.1" cy="138.4"/><circle cx="93.1" cy="148.9"/><circle cx="66.1" cy="120.9"/><circle cx="47.1" cy="132.0"/><circle cx="53.8" cy="124.6"/><circle cx="64.0" cy="118.1"/><circle cx="62.3" cy="161.3"/><circle cx="64.1" cy="154.8"/><circle cx="51.1" cy="83.7"/><circle cx="130.9" cy="172.3"/><circle cx="83.4" cy="161.5"/><circle cx="136.2" cy="155.6"/><circle cx="76.8" cy="136.3"/><circle cx="99.1" cy="151.9"/><circle cx="63.6" cy="173.9"/><circle cx="107.4" cy="149.9"/><circle cx="136.5" cy="139.6"/><circle cx="86.0" cy="139.7"/><circle cx="101.2" cy="174.1"/><circle cx="88.7" cy="133.7"/><circle cx="128.6" cy="175.0"/><circle cx="113.8" cy="149.1"/><circle cx="69.4" cy="118.2"/><circle cx="50.6" cy="79.9"/><circle cx="61.0" cy="177.2"/><circle cx="49.2" cy="137.3"/><circle cx="47.8" cy="153.5"/><circle cx="107.9" cy="160.4"/><circle cx="73.9" cy="151.7"/><circle cx="66.8" cy="131.9"/><circle cx="53.4" cy="121.0"/><circle cx="155.4" cy="141.7"/><circle cx="95.8" cy="163.9"/><circle cx="60.8" cy="158.1"/><circle cx="52.8" cy="112.1"/><circle cx="98.4" cy="147.1"/><circle cx="76.5" cy="141.0"/><circle cx="85.9" cy="164.1"/><circle cx="74.8" cy="145.2"/><circle cx="55.9" cy="165.5"/><circle cx="115.7" cy="177.2"/><circle cx="47.6" cy="75.7"/><circle cx="80.9" cy="157.9"/><circle cx="70.1" cy="141.5"/><circle cx="105.0" cy="165.7"/><circle cx="68.7" cy="160.9"/><circle cx="49.5" cy="177.2"/><circle cx="126.7" cy="177.2"/><circle cx="62.0" cy="118.8"/><circle cx="79.1" cy="171.8"/><circle cx="47.1" cy="149.3"/><circle cx="61.2" cy="167.5"/><circle cx="168.6" cy="175.9"/><circle cx="69.2" cy="170.0"/><circle cx="102.1" cy="168.7"/><circle cx="86.7" cy="146.5"/><circle cx="99.2" cy="160.8"/><circle cx="48.6" cy="157.4"/><circle cx="58.5" cy="123.0"/><circle cx="192.7" cy="172.7"/><circle cx="107.4" cy="174.1"/><circle cx="69.6" cy="152.6"/><circle cx="93.0" cy="130.4"/><circle cx="59.2" cy="164.1"/><circle cx="47.1" cy="139.6"/><circle cx="155.3" cy="168.2"/><circle cx="48.3" cy="51.9"/><circle cx="110.0" cy="167.8"/><circle cx="85.1" cy="127.4"/><circle cx="123.1" cy="177.2"/><circle cx="107.4" cy="177.2"/><circle cx="76.2" cy="177.2"/><circle cx="130.7" cy="177.2"/><circle cx="129.0" cy="168.2"/><circle cx="157.0" cy="174.8"/><circle cx="60.7" cy="128.5"/><circle cx="48.7" cy="118.6"/><circle cx="87.3" cy="160.2"/><circle cx="96.8" cy="169.7"/><circle cx="88.1" cy="131.0"/><circle cx="101.7" cy="135.1"/><circle cx="97.9" cy="131.2"/><circle cx="68.2" cy="119.8"/><circle cx="72.4" cy="157.2"/><circle cx="132.5" cy="164.2"/><circle cx="51.4" cy="59.3"/><circle cx="125.9" cy="144.3"/><circle cx="57.6" cy="160.2"/><circle cx="166.2" cy="177.0"/><circle cx="150.7" cy="171.4"/><circle cx="116.8" cy="160.3"/><circle cx="52.7" cy="155.2"/><circle cx="102.7" cy="177.2"/><circle cx="72.7" cy="137.0"/><circle cx="47.1" cy="98.6"/><circle cx="47.5" cy="63.1"/><circle cx="139.4" cy="177.2"/><circle cx="51.4" cy="102.2"/><circle cx="76.7" cy="125.8"/><circle cx="205.6" cy="161.4"/><circle cx="81.8" cy="165.4"/><circle cx="172.6" cy="173.5"/><circle cx="56.4" cy="174.7"/><circle cx="72.9" cy="170.4"/><circle cx="83.3" cy="154.6"/><circle cx="95.0" cy="177.2"/><circle cx="70.9" cy="131.8"/><circle cx="64.3" cy="164.3"/><circle cx="97.6" cy="135.6"/><circle cx="133.6" cy="161.8"/><circle cx="49.6" cy="105.5"/><circle cx="85.1" cy="168.2"/><circle cx="56.3" cy="148.0"/><circle cx="47.1" cy="173.5"/><circle cx="91.1" cy="136.9"/><circle cx="94.2" cy="130.0"/><circle cx="93.4" cy="167.9"/><circle cx="54.0" cy="161.2"/><circle cx="77.1" cy="163.0"/><circle cx="121.8" cy="151.9"/><circle cx="113.9" cy="167.6"/><circle cx="54.2" cy="116.8"/><circle cx="47.8" cy="112.4"/><circle cx="152.0" cy="176.0"/><circle cx="119.2" cy="177.2"/><circle cx="50.8" cy="115.2"/><circle cx="127.7" cy="155.3"/><circle cx="55.1" cy="171.1"/><circle cx="85.0" cy="135.2"/><circle cx="77.7" cy="129.7"/><circle cx="88.1" cy="177.2"/><circle cx="114.5" cy="173.1"/><circle cx="113.9" cy="163.0"/><circle cx="52.1" cy="165.0"/><circle cx="72.8" cy="126.0"/><circle cx="66.5" cy="141.8"/><circle cx="72.4" cy="162.1"/><circle cx="79.9" cy="129.5"/><circle cx="49.3" cy="95.4"/><circle cx="47.6" cy="128.1"/><circle cx="108.7" cy="164.0"/><circle cx="71.5" cy="148.3"/><circle cx="98.8" cy="134.1"/><circle cx="75.3" cy="129.0"/><circle cx="48.8" cy="163.0"/><circle cx="92.7" cy="155.4"/><circle cx="76.1" cy="148.7"/><circle cx="47.1" cy="123.8"/><circle cx="122.4" cy="166.8"/><circle cx="81.5" cy="131.5"/><circle cx="68.3" cy="124.1"/><circle cx="72.6" cy="166.3"/><circle cx="68.7" cy="156.1"/><circle cx="52.9" cy="174.7"/><circle cx="100.7" cy="165.0"/><circle cx="53.3" cy="133.3"/><circle cx="47.1" cy="57.3"/><circle cx="51.6" cy="129.1"/><circle cx="65.8" cy="127.9"/><circle cx="48.3" cy="86.9"/><circle cx="58.5" cy="170.2"/><circle cx="58.8" cy="138.5"/><circle cx="110.0" cy="142.8"/><circle cx="133.4" cy="175.5"/><circle cx="66.7" cy="177.1"/><circle cx="200.7" cy="176.5"/><circle cx="93.1" cy="126.1"/><circle cx="88.9" cy="168.3"/><circle cx="72.5" cy="175.4"/><circle cx="89.1" cy="152.0"/><circle cx="86.7" cy="130.7"/><circle cx="73.3" cy="128.3"/><circle cx="47.6" cy="91.6"/><circle cx="127.4" cy="149.2"/><circle cx="55.4" cy="128.2"/><circle cx="63.9" cy="124.6"/><circle cx="98.5" cy="143.4"/><circle cx="59.7" cy="173.6"/><circle cx="50.1" cy="172.1"/><circle cx="69.6" cy="127.6"/><circle cx="97.7" cy="174.6"/><circle cx="50.7" cy="65.1"/><circle cx="135.8" cy="177.2"/><circle cx="106.4" cy="140.0"/><circle cx="85.9" cy="150.7"/><circle cx="111.5" cy="144.2"/><circle cx="100.0" cy="138.8"/><circle cx="56.5" cy="134.7"/><circle cx="80.7" cy="136.0"/><circle cx="90.3" cy="163.7"/><circle cx="103.6" cy="145.9"/><circle cx="98.4" cy="155.8"/><circle cx="83.8" cy="172.4"/><circle cx="65.0" cy="169.0"/><circle cx="112.8" cy="157.7"/><circle cx="81.4" cy="177.2"/><circle cx="57.1" cy="119.1"/><circle cx="47.1" cy="69.0"/><circle cx="138.4" cy="174.3"/><circle cx="61.3" cy="142.4"/><circle cx="52.3" cy="168.6"/><circle cx="59.6" cy="132.6"/><circle cx="78.7" cy="175.4"/><circle cx="57.0" cy="155.4"/><circle cx="52.9" cy="146.8"/><circle cx="116.9" cy="156.6"/><circle cx="119.5" cy="169.5"/><circle cx="117.9" cy="150.3"/><circle cx="59.9" cy="147.2"/><circle cx="95.1" cy="159.8"/><circle cx="119.7" cy="162.7"/><circle cx="138.8" cy="167.5"/><circle cx="165.5" cy="174.1"/><circle cx="89.4" cy="172.0"/><circle cx="102.2" cy="141.8"/><circle cx="104.3" cy="158.7"/><circle cx="90.8" cy="142.4"/><circle cx="68.5" cy="173.8"/><circle cx="125.6" cy="144.4"/><circle cx="149.4" cy="177.2"/><circle cx="80.0" cy="142.4"/><circle cx="57.4" cy="143.2"/><circle cx="93.2" cy="133.9"/><circle cx="111.1" cy="177.2"/><circle cx="91.5" cy="159.5"/><circle cx="156.6" cy="144.4"/><circle cx="106.4" cy="155.9"/><circle cx="73.0" cy="123.2"/><circle cx="54.6" cy="139.3"/><circle cx="51.3" cy="150.5"/><circle cx="47.1" cy="102.8"/><circle cx="77.7" cy="159.5"/><circle cx="66.5" cy="151.0"/><circle cx="108.0" cy="144.1"/><circle cx="61.1" cy="120.7"/><circle cx="50.1" cy="122.3"/><circle cx="88.8" cy="156.5"/><circle cx="48.5" cy="90.7"/><circle cx="47.7" cy="93.6"/><circle cx="48.1" cy="63.9"/><circle cx="47.8" cy="72.9"/><circle cx="47.2" cy="94.5"/><circle cx="47.7" cy="92.4"/><circle cx="47.3" cy="81.3"/><circle cx="47.6" cy="106.0"/><circle cx="47.9" cy="115.4"/><circle cx="48.5" cy="95.5"/><circle cx="47.2" cy="82.2"/><circle cx="48.2" cy="69.5"/><circle cx="47.3" cy="89.4"/><circle cx="47.4" cy="78.9"/><circle cx="47.8" cy="61.6"/><circle cx="47.2" cy="99.3"/><circle cx="47.4" cy="73.2"/><circle cx="48.1" cy="115.4"/><circle cx="47.6" cy="86.5"/><circle cx="47.6" cy="84.6"/><circle cx="48.5" cy="78.6"/><circle cx="48.0" cy="78.1"/><circle cx="47.8" cy="61.4"/><circle cx="48.3" cy="85.8"/><circle cx="47.8" cy="103.6"/><circle cx="47.5" cy="78.1"/><circle cx="48.6" cy="111.5"/><circle cx="48.1" cy="107.0"/><circle cx="48.3" cy="69.4"/><circle cx="48.3" cy="64.8"/><circle cx="47.8" cy="92.4"/><circle cx="48.1" cy="65.6"/><circle cx="48.6" cy="85.9"/><circle cx="48.2" cy="94.9"/><circle cx="47.8" cy="54.5"/><circle cx="48.5" cy="64.2"/><circle cx="47.5" cy="100.9"/><circle cx="48.4" cy="92.7"/><circle cx="47.2" cy="112.8"/><circle cx="47.9" cy="56.9"/><circle cx="48.0" cy="87.4"/><circle cx="47.2" cy="60.4"/><circle cx="48.4" cy="102.6"/><circle cx="48.0" cy="76.3"/><circle cx="48.4" cy="77.0"/><circle cx="47.6" cy="63.5"/><circle cx="47.9" cy="105.5"/><circle cx="47.2" cy="56.9"/><circle cx="47.7" cy="72.3"/><circle cx="48.4" cy="67.8"/><circle cx="49.7" cy="172.2"/><circle cx="49.0" cy="124.4"/><circle cx="48.0" cy="104.7"/><circle cx="47.7" cy="121.4"/><circle cx="48.8" cy="153.8"/><circle cx="47.2" cy="109.1"/><circle cx="47.8" cy="158.9"/><circle cx="49.5" cy="115.5"/><circle cx="49.5" cy="169.8"/><circle cx="47.9" cy="174.1"/><circle cx="47.9" cy="108.1"/><circle cx="49.2" cy="140.0"/><circle cx="48.4" cy="135.5"/><circle cx="49.7" cy="102.4"/><circle cx="49.5" cy="106.9"/><circle cx="47.7" cy="133.9"/><circle cx="48.0" cy="104.1"/><circle cx="47.4" cy="168.1"/><circle cx="50.0" cy="147.0"/><circle cx="47.4" cy="123.7"/><circle cx="47.9" cy="141.1"/><circle cx="47.9" cy="105.7"/><circle cx="48.1" cy="109.8"/><circle cx="49.1" cy="144.1"/><circle cx="47.4" cy="121.1"/><circle cx="47.7" cy="120.7"/><circle cx="50.5" cy="112.2"/><circle cx="50.2" cy="103.9"/><circle cx="49.3" cy="139.1"/><circle cx="49.9" cy="160.0"/><circle cx="49.5" cy="158.9"/><circle cx="48.0" cy="162.6"/><circle cx="49.4" cy="109.5"/><circle cx="48.1" cy="176.9"/><circle cx="49.8" cy="153.8"/><circle cx="47.5" cy="103.8"/><circle cx="48.0" cy="132.1"/><circle cx="48.8" cy="134.8"/><circle cx="48.5" cy="135.7"/><circle cx="50.4" cy="104.7"/><circle cx="49.5" cy="146.7"/><circle cx="50.5" cy="150.1"/><circle cx="49.6" cy="123.1"/><circle cx="48.9" cy="127.5"/><circle cx="50.2" cy="135.6"/><circle cx="48.0" cy="115.2"/><circle cx="49.1" cy="153.2"/><circle cx="47.2" cy="119.6"/><circle cx="47.5" cy="171.0"/><circle cx="48.3" cy="139.1"/><circle cx="50.3" cy="157.3"/><circle cx="47.5" cy="109.3"/><circle cx="49.3" cy="101.9"/><circle cx="47.1" cy="156.9"/><circle cx="49.2" cy="159.9"/><circle cx="48.2" cy="157.3"/><circle cx="50.3" cy="153.3"/><circle cx="47.9" cy="106.5"/><circle cx="48.9" cy="150.7"/><circle cx="48.0" cy="152.9"/><circle cx="49.7" cy="130.4"/><circle cx="47.1" cy="145.6"/><circle cx="48.0" cy="139.5"/><circle cx="47.5" cy="157.0"/><circle cx="49.6" cy="171.1"/><circle cx="47.7" cy="158.4"/><circle cx="48.2" cy="170.9"/><circle cx="49.8" cy="147.7"/><circle cx="48.9" cy="174.2"/><circle cx="49.8" cy="155.5"/><circle cx="48.9" cy="173.7"/><circle cx="47.8" cy="152.9"/><circle cx="50.4" cy="119.1"/><circle cx="47.4" cy="113.4"/><circle cx="48.6" cy="167.5"/><circle cx="50.3" cy="142.4"/><circle cx="49.4" cy="117.2"/><circle cx="47.3" cy="154.5"/><circle cx="49.3" cy="138.3"/><circle cx="49.8" cy="122.1"/><circle cx="47.6" cy="153.7"/><circle cx="49.5" cy="120.9"/><circle cx="47.8" cy="159.5"/><circle cx="47.7" cy="151.1"/><circle cx="49.1" cy="116.3"/><circle cx="48.7" cy="142.6"/><circle cx="49.9" cy="132.9"/><circle cx="50.4" cy="165.7"/><circle cx="48.4" cy="162.6"/><circle cx="47.5" cy="123.8"/><circle cx="48.7" cy="115.5"/><circle cx="49.3" cy="174.3"/><circle cx="50.0" cy="162.5"/><circle cx="49.4" cy="119.4"/><circle cx="49.5" cy="154.6"/><circle cx="49.0" cy="170.6"/><circle cx="47.8" cy="162.3"/><circle cx="47.2" cy="140.6"/><circle cx="48.2" cy="128.3"/><circle cx="48.3" cy="153.6"/><circle cx="49.2" cy="116.6"/><circle cx="48.0" cy="137.1"/><circle cx="48.4" cy="141.8"/><circle cx="48.4" cy="102.6"/><circle cx="47.3" cy="109.2"/><circle cx="47.7" cy="159.9"/><circle cx="47.2" cy="116.4"/><circle cx="50.5" cy="137.2"/><circle cx="50.0" cy="147.2"/><circle cx="49.9" cy="117.2"/><circle cx="48.0" cy="111.0"/><circle cx="50.4" cy="174.8"/><circle cx="48.4" cy="136.3"/><circle cx="48.5" cy="124.1"/><circle cx="48.7" cy="105.3"/><circle cx="48.1" cy="141.3"/><circle cx="47.7" cy="132.5"/><circle cx="49.7" cy="170.3"/><circle cx="49.3" cy="159.0"/><circle cx="48.5" cy="157.5"/><circle cx="48.9" cy="122.7"/><circle cx="49.9" cy="170.9"/><circle cx="49.4" cy="119.2"/><circle cx="48.8" cy="166.8"/><circle cx="48.8" cy="139.4"/><circle cx="47.4" cy="152.4"/><circle cx="47.2" cy="105.3"/><circle cx="47.6" cy="123.1"/><circle cx="48.4" cy="137.6"/><circle cx="48.9" cy="109.5"/><circle cx="48.9" cy="150.0"/><circle cx="50.2" cy="133.7"/><circle cx="49.5" cy="145.4"/><circle cx="48.2" cy="169.3"/><circle cx="47.7" cy="139.3"/><circle cx="47.9" cy="152.0"/><circle cx="49.4" cy="172.2"/><circle cx="47.9" cy="154.4"/><circle cx="47.5" cy="108.4"/><circle cx="50.0" cy="123.2"/><circle cx="47.3" cy="175.3"/><circle cx="49.8" cy="172.2"/><circle cx="49.8" cy="125.0"/><circle cx="49.4" cy="114.4"/><circle cx="49.8" cy="111.9"/><circle cx="50.1" cy="105.5"/><circle cx="47.2" cy="159.3"/><circle cx="47.1" cy="144.6"/><circle cx="49.9" cy="149.3"/><circle cx="48.0" cy="175.5"/><circle cx="50.1" cy="149.8"/><circle cx="48.0" cy="112.2"/><circle cx="50.4" cy="128.3"/><circle cx="48.6" cy="138.2"/><circle cx="47.2" cy="154.7"/><circle cx="49.3" cy="102.5"/><circle cx="48.9" cy="102.9"/><circle cx="49.0" cy="121.6"/><circle cx="50.1" cy="176.7"/><circle cx="47.2" cy="156.9"/>
</g>
<g fill="#2cae5e" stroke="#011608" stroke-width="1.15" class="db">
<circle cx="307.5" cy="154.8"/><circle cx="289.4" cy="131.4"/><circle cx="300.5" cy="162.5"/><circle cx="278.8" cy="118.5"/><circle cx="314.9" cy="144.1"/><circle cx="328.9" cy="157.4"/><circle cx="277.6" cy="169.3"/><circle cx="328.1" cy="153.5"/><circle cx="287.0" cy="149.8"/><circle cx="288.4" cy="161.7"/><circle cx="325.9" cy="164.7"/><circle cx="300.1" cy="148.9"/><circle cx="328.7" cy="163.3"/><circle cx="309.2" cy="146.4"/><circle cx="303.1" cy="130.6"/><circle cx="284.3" cy="141.2"/><circle cx="284.2" cy="128.0"/><circle cx="277.7" cy="137.0"/><circle cx="299.7" cy="139.0"/><circle cx="307.6" cy="137.1"/><circle cx="292.5" cy="151.0"/><circle cx="296.7" cy="141.1"/><circle cx="281.6" cy="164.6"/><circle cx="295.0" cy="166.2"/><circle cx="322.2" cy="160.9"/><circle cx="296.0" cy="149.6"/><circle cx="286.9" cy="119.3"/><circle cx="314.5" cy="164.6"/><circle cx="325.8" cy="145.8"/><circle cx="281.4" cy="156.4"/><circle cx="307.5" cy="151.5"/><circle cx="279.5" cy="118.8"/><circle cx="296.8" cy="161.4"/><circle cx="318.0" cy="143.0"/><circle cx="287.6" cy="160.2"/><circle cx="286.5" cy="128.3"/><circle cx="280.3" cy="159.9"/><circle cx="305.8" cy="147.1"/><circle cx="281.2" cy="116.5"/><circle cx="276.3" cy="147.7"/><circle cx="312.4" cy="160.4"/><circle cx="276.2" cy="149.3"/><circle cx="279.5" cy="154.0"/><circle cx="287.7" cy="149.5"/><circle cx="327.7" cy="144.7"/><circle cx="301.1" cy="154.0"/><circle cx="300.0" cy="158.3"/><circle cx="291.5" cy="169.6"/><circle cx="296.2" cy="130.9"/><circle cx="281.2" cy="120.1"/><circle cx="326.0" cy="138.6"/><circle cx="302.2" cy="155.3"/><circle cx="291.5" cy="157.0"/><circle cx="280.3" cy="147.7"/><circle cx="283.0" cy="156.1"/><circle cx="281.4" cy="131.5"/><circle cx="279.5" cy="148.9"/><circle cx="277.1" cy="126.2"/><circle cx="294.2" cy="123.6"/><circle cx="303.8" cy="130.4"/><circle cx="286.3" cy="148.8"/><circle cx="289.2" cy="164.5"/><circle cx="331.7" cy="156.0"/><circle cx="322.1" cy="139.3"/><circle cx="308.1" cy="158.6"/><circle cx="277.3" cy="131.8"/><circle cx="301.6" cy="169.6"/><circle cx="329.4" cy="152.1"/><circle cx="322.2" cy="135.4"/><circle cx="293.6" cy="129.4"/><circle cx="317.0" cy="138.4"/><circle cx="295.4" cy="153.9"/><circle cx="280.1" cy="109.8"/><circle cx="284.3" cy="120.7"/><circle cx="308.4" cy="138.0"/><circle cx="290.0" cy="148.8"/><circle cx="300.3" cy="163.9"/><circle cx="292.5" cy="169.0"/><circle cx="290.4" cy="122.4"/><circle cx="283.4" cy="166.3"/><circle cx="276.2" cy="135.8"/><circle cx="296.2" cy="135.4"/><circle cx="335.0" cy="169.6"/><circle cx="305.3" cy="142.5"/><circle cx="284.9" cy="146.8"/><circle cx="305.1" cy="149.1"/><circle cx="312.7" cy="152.0"/><circle cx="277.4" cy="130.8"/><circle cx="286.0" cy="144.8"/><circle cx="305.2" cy="153.7"/><circle cx="304.0" cy="152.4"/><circle cx="303.6" cy="167.5"/><circle cx="322.1" cy="152.4"/><circle cx="277.8" cy="150.9"/><circle cx="317.1" cy="163.2"/><circle cx="334.2" cy="168.0"/><circle cx="298.8" cy="136.9"/><circle cx="300.8" cy="142.4"/><circle cx="321.9" cy="165.0"/><circle cx="281.0" cy="162.7"/><circle cx="292.0" cy="124.0"/><circle cx="312.8" cy="151.3"/><circle cx="292.0" cy="121.3"/><circle cx="286.8" cy="126.1"/><circle cx="300.0" cy="124.9"/><circle cx="304.7" cy="151.6"/><circle cx="303.7" cy="152.3"/><circle cx="309.9" cy="169.6"/><circle cx="302.2" cy="134.5"/><circle cx="303.6" cy="142.4"/><circle cx="292.7" cy="136.0"/><circle cx="274.7" cy="140.0"/><circle cx="292.4" cy="142.2"/><circle cx="305.6" cy="133.7"/><circle cx="334.2" cy="159.1"/><circle cx="280.2" cy="136.1"/><circle cx="316.4" cy="158.0"/><circle cx="309.7" cy="168.6"/><circle cx="289.9" cy="161.0"/><circle cx="299.5" cy="124.3"/><circle cx="295.2" cy="153.1"/><circle cx="329.2" cy="162.9"/><circle cx="284.4" cy="138.8"/><circle cx="293.3" cy="161.8"/><circle cx="280.3" cy="157.8"/><circle cx="328.9" cy="161.7"/><circle cx="287.6" cy="120.5"/><circle cx="282.8" cy="112.1"/><circle cx="286.9" cy="145.8"/><circle cx="331.0" cy="154.0"/><circle cx="287.9" cy="126.7"/><circle cx="317.9" cy="165.4"/><circle cx="316.2" cy="144.3"/><circle cx="316.4" cy="144.5"/><circle cx="325.6" cy="135.4"/><circle cx="317.2" cy="140.8"/><circle cx="315.6" cy="147.1"/><circle cx="297.9" cy="162.1"/><circle cx="324.8" cy="140.0"/><circle cx="275.4" cy="130.7"/><circle cx="284.9" cy="123.3"/><circle cx="276.4" cy="147.0"/><circle cx="303.1" cy="144.4"/><circle cx="292.2" cy="169.6"/><circle cx="329.4" cy="168.2"/><circle cx="299.3" cy="166.5"/><circle cx="311.9" cy="132.5"/><circle cx="281.4" cy="168.0"/><circle cx="321.0" cy="146.9"/><circle cx="296.8" cy="157.4"/><circle cx="320.5" cy="146.4"/><circle cx="303.4" cy="148.1"/><circle cx="306.5" cy="137.6"/><circle cx="288.3" cy="141.2"/><circle cx="306.2" cy="133.8"/><circle cx="308.2" cy="158.8"/><circle cx="277.0" cy="139.7"/><circle cx="312.7" cy="142.5"/><circle cx="288.0" cy="154.9"/><circle cx="275.9" cy="112.2"/><circle cx="312.9" cy="148.8"/><circle cx="332.1" cy="158.4"/><circle cx="299.6" cy="144.3"/><circle cx="275.4" cy="126.4"/><circle cx="311.4" cy="155.5"/><circle cx="300.4" cy="126.7"/><circle cx="288.6" cy="154.9"/><circle cx="321.6" cy="151.1"/><circle cx="299.0" cy="125.9"/><circle cx="277.2" cy="106.7"/><circle cx="288.7" cy="148.9"/><circle cx="301.7" cy="160.1"/><circle cx="309.3" cy="158.0"/><circle cx="282.1" cy="159.8"/><circle cx="290.5" cy="133.0"/><circle cx="320.1" cy="141.2"/><circle cx="278.7" cy="167.4"/><circle cx="296.4" cy="134.4"/><circle cx="291.0" cy="144.8"/><circle cx="292.5" cy="144.8"/><circle cx="308.2" cy="154.0"/><circle cx="300.0" cy="128.0"/><circle cx="285.4" cy="145.4"/><circle cx="330.1" cy="144.0"/><circle cx="284.7" cy="126.9"/><circle cx="315.6" cy="160.0"/><circle cx="322.5" cy="158.8"/><circle cx="300.8" cy="165.7"/><circle cx="290.5" cy="126.3"/><circle cx="274.6" cy="112.4"/><circle cx="285.2" cy="163.0"/><circle cx="303.9" cy="146.5"/><circle cx="286.8" cy="169.6"/><circle cx="282.9" cy="116.4"/><circle cx="277.1" cy="110.9"/><circle cx="307.5" cy="128.7"/><circle cx="292.1" cy="130.9"/><circle cx="300.1" cy="139.0"/><circle cx="287.7" cy="161.7"/><circle cx="298.0" cy="126.1"/><circle cx="330.6" cy="149.5"/><circle cx="322.6" cy="155.8"/><circle cx="319.2" cy="151.3"/><circle cx="297.3" cy="137.7"/><circle cx="312.1" cy="132.5"/><circle cx="295.7" cy="141.5"/><circle cx="303.5" cy="128.3"/><circle cx="320.1" cy="166.9"/><circle cx="284.6" cy="143.2"/><circle cx="277.6" cy="142.9"/><circle cx="275.6" cy="146.5"/><circle cx="305.4" cy="164.1"/><circle cx="280.5" cy="161.8"/><circle cx="297.4" cy="141.4"/><circle cx="296.6" cy="155.7"/><circle cx="276.3" cy="133.2"/><circle cx="317.3" cy="149.1"/><circle cx="304.6" cy="159.7"/><circle cx="316.2" cy="160.4"/><circle cx="280.6" cy="169.6"/><circle cx="279.2" cy="122.4"/><circle cx="293.4" cy="136.8"/><circle cx="291.6" cy="121.7"/><circle cx="309.4" cy="166.3"/><circle cx="290.3" cy="146.5"/><circle cx="329.1" cy="155.3"/><circle cx="313.2" cy="162.5"/><circle cx="321.0" cy="151.8"/><circle cx="289.5" cy="163.6"/><circle cx="291.5" cy="147.7"/><circle cx="282.1" cy="142.2"/><circle cx="312.0" cy="145.5"/><circle cx="283.1" cy="117.4"/><circle cx="297.2" cy="153.0"/><circle cx="278.3" cy="145.4"/><circle cx="280.7" cy="144.7"/><circle cx="294.3" cy="130.1"/><circle cx="290.3" cy="155.5"/><circle cx="316.0" cy="155.2"/><circle cx="281.4" cy="125.5"/><circle cx="330.6" cy="168.8"/><circle cx="275.3" cy="159.9"/><circle cx="278.1" cy="141.8"/><circle cx="280.6" cy="116.6"/><circle cx="276.7" cy="99.2"/><circle cx="308.0" cy="160.3"/><circle cx="313.5" cy="151.3"/><circle cx="303.1" cy="152.3"/><circle cx="282.5" cy="110.8"/><circle cx="294.9" cy="126.4"/><circle cx="295.4" cy="154.3"/><circle cx="296.2" cy="142.1"/><circle cx="316.9" cy="138.6"/><circle cx="323.1" cy="157.8"/><circle cx="311.8" cy="141.4"/><circle cx="304.5" cy="134.6"/><circle cx="305.2" cy="162.5"/><circle cx="329.5" cy="162.0"/><circle cx="302.0" cy="134.3"/><circle cx="284.4" cy="143.8"/><circle cx="305.9" cy="150.1"/><circle cx="316.2" cy="155.2"/><circle cx="293.3" cy="165.4"/><circle cx="283.1" cy="110.0"/><circle cx="310.3" cy="135.3"/><circle cx="291.2" cy="160.2"/><circle cx="278.5" cy="128.0"/><circle cx="322.6" cy="144.4"/><circle cx="293.2" cy="150.4"/><circle cx="334.6" cy="163.6"/><circle cx="287.3" cy="121.0"/><circle cx="316.8" cy="150.8"/><circle cx="286.3" cy="158.2"/><circle cx="285.2" cy="169.6"/><circle cx="280.7" cy="120.7"/><circle cx="284.1" cy="124.6"/><circle cx="280.6" cy="111.5"/><circle cx="278.7" cy="155.6"/><circle cx="286.7" cy="137.0"/><circle cx="328.0" cy="169.4"/><circle cx="276.4" cy="132.6"/><circle cx="317.2" cy="161.4"/><circle cx="312.5" cy="142.4"/><circle cx="295.1" cy="137.7"/><circle cx="318.6" cy="160.9"/><circle cx="278.4" cy="118.9"/><circle cx="284.3" cy="156.2"/><circle cx="288.9" cy="160.1"/><circle cx="293.8" cy="125.2"/><circle cx="323.3" cy="168.0"/><circle cx="325.1" cy="147.8"/><circle cx="324.8" cy="169.6"/><circle cx="294.9" cy="129.5"/><circle cx="308.5" cy="154.7"/><circle cx="306.0" cy="149.5"/><circle cx="329.5" cy="148.9"/><circle cx="287.8" cy="164.2"/><circle cx="303.5" cy="131.9"/><circle cx="301.6" cy="135.9"/><circle cx="286.3" cy="136.1"/><circle cx="281.4" cy="164.4"/><circle cx="311.1" cy="132.3"/><circle cx="285.9" cy="145.2"/><circle cx="292.9" cy="126.7"/><circle cx="280.5" cy="117.2"/><circle cx="278.0" cy="150.5"/><circle cx="324.2" cy="142.0"/><circle cx="301.9" cy="155.8"/><circle cx="316.4" cy="139.0"/><circle cx="289.7" cy="126.3"/><circle cx="323.3" cy="169.6"/><circle cx="322.6" cy="168.8"/><circle cx="309.2" cy="145.9"/><circle cx="285.8" cy="152.2"/><circle cx="285.0" cy="138.1"/><circle cx="317.3" cy="149.8"/><circle cx="327.0" cy="145.5"/><circle cx="324.0" cy="158.9"/><circle cx="313.9" cy="161.4"/><circle cx="299.7" cy="164.8"/><circle cx="287.7" cy="116.2"/><circle cx="279.0" cy="135.0"/><circle cx="328.0" cy="169.6"/><circle cx="325.7" cy="144.4"/><circle cx="325.2" cy="142.8"/><circle cx="299.5" cy="150.3"/><circle cx="300.6" cy="132.4"/><circle cx="308.2" cy="150.6"/><circle cx="324.4" cy="164.4"/><circle cx="308.3" cy="143.6"/><circle cx="295.9" cy="161.9"/><circle cx="312.2" cy="129.9"/><circle cx="308.5" cy="145.4"/><circle cx="312.3" cy="158.1"/><circle cx="278.0" cy="151.9"/><circle cx="276.3" cy="130.3"/><circle cx="310.7" cy="167.8"/><circle cx="305.1" cy="137.8"/><circle cx="295.5" cy="144.2"/><circle cx="308.3" cy="138.2"/><circle cx="289.1" cy="161.6"/><circle cx="310.5" cy="143.7"/><circle cx="276.0" cy="139.9"/><circle cx="300.8" cy="154.7"/><circle cx="276.8" cy="169.3"/><circle cx="280.7" cy="117.5"/><circle cx="322.3" cy="159.6"/><circle cx="329.0" cy="146.1"/><circle cx="298.8" cy="160.7"/><circle cx="276.8" cy="110.4"/><circle cx="278.7" cy="166.5"/><circle cx="281.0" cy="167.8"/><circle cx="298.0" cy="159.6"/><circle cx="293.4" cy="141.3"/><circle cx="274.4" cy="160.1"/><circle cx="277.6" cy="104.2"/><circle cx="277.6" cy="120.8"/><circle cx="301.2" cy="135.9"/><circle cx="329.1" cy="169.6"/><circle cx="287.5" cy="119.3"/><circle cx="317.3" cy="147.7"/><circle cx="304.3" cy="135.9"/><circle cx="304.1" cy="130.0"/><circle cx="333.4" cy="166.6"/><circle cx="307.1" cy="134.0"/><circle cx="316.1" cy="169.0"/><circle cx="313.9" cy="128.3"/><circle cx="296.4" cy="158.1"/><circle cx="304.0" cy="137.8"/><circle cx="324.1" cy="156.1"/><circle cx="291.1" cy="153.7"/><circle cx="316.0" cy="154.8"/><circle cx="326.1" cy="144.1"/><circle cx="305.3" cy="126.8"/><circle cx="305.2" cy="140.6"/><circle cx="279.7" cy="125.0"/><circle cx="293.0" cy="130.9"/><circle cx="281.0" cy="161.1"/><circle cx="277.4" cy="105.9"/><circle cx="320.5" cy="152.7"/><circle cx="280.8" cy="123.9"/><circle cx="292.5" cy="126.9"/><circle cx="305.1" cy="155.5"/><circle cx="313.1" cy="169.6"/><circle cx="286.7" cy="131.7"/><circle cx="290.2" cy="161.1"/><circle cx="280.2" cy="134.2"/><circle cx="319.5" cy="169.6"/><circle cx="277.8" cy="125.3"/><circle cx="286.4" cy="130.4"/><circle cx="322.3" cy="169.4"/><circle cx="291.3" cy="144.5"/><circle cx="277.9" cy="110.1"/><circle cx="285.2" cy="113.2"/><circle cx="297.6" cy="162.8"/><circle cx="306.0" cy="145.9"/><circle cx="291.6" cy="134.2"/><circle cx="280.4" cy="162.2"/><circle cx="294.9" cy="139.7"/><circle cx="281.4" cy="108.2"/><circle cx="325.0" cy="145.7"/><circle cx="293.6" cy="136.0"/><circle cx="323.4" cy="160.3"/><circle cx="297.4" cy="124.1"/><circle cx="283.6" cy="112.8"/><circle cx="319.8" cy="169.3"/><circle cx="329.0" cy="164.8"/><circle cx="325.3" cy="146.6"/><circle cx="289.9" cy="121.7"/><circle cx="327.1" cy="166.8"/><circle cx="309.3" cy="167.5"/><circle cx="282.5" cy="141.1"/><circle cx="296.1" cy="134.8"/><circle cx="292.7" cy="167.7"/><circle cx="281.8" cy="150.7"/><circle cx="283.3" cy="129.9"/><circle cx="322.4" cy="146.1"/><circle cx="300.2" cy="123.8"/><circle cx="285.5" cy="147.8"/><circle cx="284.3" cy="137.6"/><circle cx="315.7" cy="134.2"/><circle cx="292.2" cy="143.9"/><circle cx="276.2" cy="97.1"/><circle cx="285.9" cy="127.8"/><circle cx="277.9" cy="121.9"/><circle cx="290.8" cy="164.0"/><circle cx="278.5" cy="145.6"/><circle cx="297.3" cy="138.7"/><circle cx="318.3" cy="166.7"/><circle cx="331.9" cy="169.4"/><circle cx="280.5" cy="161.8"/><circle cx="298.3" cy="158.9"/><circle cx="301.4" cy="137.9"/><circle cx="309.1" cy="130.9"/><circle cx="285.5" cy="117.1"/><circle cx="312.0" cy="135.6"/><circle cx="286.7" cy="122.3"/><circle cx="301.3" cy="168.9"/><circle cx="303.5" cy="142.8"/><circle cx="286.8" cy="150.2"/><circle cx="284.9" cy="165.4"/><circle cx="303.6" cy="133.7"/><circle cx="302.0" cy="155.6"/><circle cx="301.6" cy="136.8"/><circle cx="319.9" cy="164.2"/><circle cx="311.2" cy="146.3"/><circle cx="277.4" cy="101.0"/><circle cx="303.5" cy="153.0"/><circle cx="329.6" cy="167.9"/><circle cx="276.0" cy="168.3"/><circle cx="331.1" cy="164.6"/><circle cx="282.8" cy="154.5"/><circle cx="324.7" cy="143.9"/><circle cx="280.6" cy="152.5"/><circle cx="282.1" cy="168.8"/><circle cx="330.6" cy="169.5"/><circle cx="325.7" cy="163.6"/><circle cx="315.8" cy="164.2"/><circle cx="280.3" cy="115.8"/><circle cx="291.4" cy="128.1"/><circle cx="297.7" cy="158.9"/><circle cx="279.7" cy="129.6"/><circle cx="309.1" cy="148.8"/><circle cx="280.6" cy="161.3"/><circle cx="311.6" cy="136.0"/><circle cx="296.9" cy="152.5"/><circle cx="279.2" cy="168.3"/><circle cx="280.1" cy="164.3"/><circle cx="281.5" cy="140.9"/><circle cx="293.1" cy="132.2"/><circle cx="278.8" cy="142.8"/><circle cx="276.7" cy="159.5"/><circle cx="309.0" cy="158.2"/><circle cx="309.8" cy="137.9"/><circle cx="311.3" cy="143.5"/><circle cx="311.8" cy="154.2"/><circle cx="278.1" cy="154.3"/><circle cx="330.2" cy="157.0"/><circle cx="293.0" cy="122.4"/><circle cx="280.8" cy="158.6"/><circle cx="302.9" cy="155.2"/><circle cx="312.8" cy="160.1"/><circle cx="291.1" cy="138.5"/><circle cx="305.9" cy="136.9"/><circle cx="288.7" cy="136.0"/><circle cx="311.9" cy="160.2"/><circle cx="304.8" cy="128.9"/><circle cx="276.2" cy="153.1"/><circle cx="329.0" cy="164.8"/><circle cx="284.3" cy="121.7"/><circle cx="292.2" cy="140.4"/><circle cx="296.6" cy="121.5"/><circle cx="317.1" cy="159.9"/><circle cx="276.3" cy="131.1"/><circle cx="325.6" cy="164.6"/><circle cx="299.4" cy="154.2"/><circle cx="276.3" cy="98.9"/><circle cx="334.6" cy="160.4"/><circle cx="313.5" cy="146.7"/><circle cx="324.1" cy="168.5"/><circle cx="300.9" cy="136.6"/><circle cx="323.5" cy="164.5"/><circle cx="312.4" cy="136.0"/><circle cx="284.2" cy="138.9"/><circle cx="303.7" cy="147.8"/><circle cx="283.2" cy="132.5"/><circle cx="279.7" cy="118.4"/><circle cx="296.4" cy="123.0"/><circle cx="325.9" cy="149.1"/><circle cx="276.4" cy="118.7"/><circle cx="305.8" cy="140.1"/><circle cx="274.6" cy="162.9"/><circle cx="308.1" cy="138.2"/><circle cx="310.2" cy="168.6"/><circle cx="302.0" cy="155.5"/><circle cx="305.7" cy="135.6"/><circle cx="321.7" cy="152.6"/><circle cx="316.2" cy="131.3"/><circle cx="287.1" cy="118.8"/><circle cx="317.2" cy="155.6"/><circle cx="286.7" cy="123.1"/><circle cx="323.9" cy="156.8"/><circle cx="318.7" cy="132.7"/><circle cx="323.9" cy="145.4"/><circle cx="285.7" cy="130.6"/><circle cx="275.0" cy="157.2"/><circle cx="304.0" cy="161.4"/><circle cx="294.5" cy="151.1"/><circle cx="299.1" cy="167.1"/><circle cx="284.8" cy="117.8"/><circle cx="330.4" cy="154.0"/><circle cx="330.7" cy="148.3"/><circle cx="287.8" cy="147.4"/><circle cx="289.0" cy="168.8"/><circle cx="278.5" cy="118.4"/><circle cx="313.0" cy="142.6"/><circle cx="284.0" cy="139.4"/><circle cx="277.8" cy="131.7"/><circle cx="300.9" cy="142.0"/><circle cx="281.6" cy="119.9"/><circle cx="307.5" cy="154.4"/><circle cx="332.1" cy="168.0"/><circle cx="294.0" cy="133.2"/><circle cx="319.6" cy="148.3"/><circle cx="301.8" cy="136.7"/><circle cx="279.4" cy="161.3"/><circle cx="278.8" cy="169.6"/><circle cx="310.1" cy="154.1"/><circle cx="316.6" cy="160.0"/><circle cx="305.5" cy="126.4"/><circle cx="319.0" cy="169.6"/><circle cx="324.9" cy="152.9"/><circle cx="328.6" cy="147.4"/><circle cx="294.5" cy="137.7"/><circle cx="309.2" cy="168.8"/><circle cx="276.4" cy="108.8"/><circle cx="332.4" cy="163.7"/><circle cx="274.3" cy="118.2"/><circle cx="291.9" cy="151.8"/><circle cx="333.1" cy="162.4"/><circle cx="293.4" cy="124.8"/><circle cx="280.3" cy="162.3"/><circle cx="330.5" cy="152.9"/><circle cx="298.5" cy="133.9"/><circle cx="321.4" cy="156.9"/><circle cx="279.3" cy="136.0"/><circle cx="307.2" cy="133.4"/><circle cx="302.4" cy="159.6"/><circle cx="329.8" cy="142.0"/><circle cx="285.4" cy="154.5"/><circle cx="318.7" cy="149.0"/><circle cx="309.9" cy="129.0"/><circle cx="289.2" cy="157.0"/><circle cx="301.2" cy="148.4"/><circle cx="312.6" cy="164.0"/><circle cx="299.5" cy="166.7"/><circle cx="329.8" cy="164.7"/><circle cx="304.3" cy="136.9"/><circle cx="301.3" cy="163.7"/><circle cx="274.9" cy="167.6"/><circle cx="290.3" cy="132.0"/><circle cx="323.6" cy="169.6"/><circle cx="315.1" cy="153.6"/><circle cx="328.8" cy="161.8"/><circle cx="292.2" cy="149.3"/><circle cx="297.5" cy="146.0"/><circle cx="318.5" cy="162.7"/><circle cx="303.7" cy="160.0"/><circle cx="302.3" cy="166.9"/><circle cx="322.9" cy="147.6"/><circle cx="277.4" cy="117.1"/><circle cx="297.2" cy="152.3"/><circle cx="276.8" cy="141.4"/><circle cx="309.3" cy="139.6"/><circle cx="281.2" cy="106.0"/><circle cx="323.5" cy="158.7"/><circle cx="316.1" cy="165.8"/><circle cx="288.6" cy="160.5"/><circle cx="277.0" cy="149.7"/><circle cx="299.4" cy="158.5"/><circle cx="314.5" cy="157.5"/><circle cx="321.6" cy="141.5"/><circle cx="280.6" cy="157.5"/><circle cx="274.8" cy="122.2"/><circle cx="310.6" cy="130.4"/><circle cx="281.6" cy="168.5"/><circle cx="323.8" cy="143.8"/><circle cx="285.8" cy="131.8"/><circle cx="295.4" cy="156.3"/><circle cx="287.3" cy="169.6"/><circle cx="290.4" cy="153.3"/><circle cx="283.4" cy="134.5"/><circle cx="299.9" cy="148.1"/><circle cx="287.8" cy="136.8"/><circle cx="307.3" cy="132.7"/><circle cx="297.6" cy="130.8"/><circle cx="333.9" cy="165.1"/><circle cx="283.9" cy="131.9"/><circle cx="319.0" cy="152.5"/><circle cx="276.6" cy="148.6"/><circle cx="301.2" cy="169.6"/><circle cx="274.3" cy="145.1"/><circle cx="294.7" cy="143.2"/><circle cx="333.2" cy="143.8"/><circle cx="295.0" cy="148.3"/><circle cx="274.4" cy="161.8"/><circle cx="333.5" cy="159.8"/><circle cx="335.1" cy="153.3"/><circle cx="277.7" cy="152.7"/><circle cx="385.5" cy="130.6"/><circle cx="300.4" cy="144.6"/><circle cx="381.8" cy="160.0"/><circle cx="290.4" cy="150.8"/><circle cx="274.5" cy="88.4"/><circle cx="274.3" cy="169.2"/><circle cx="402.8" cy="169.3"/><circle cx="361.7" cy="125.8"/><circle cx="365.5" cy="163.7"/><circle cx="287.0" cy="135.0"/><circle cx="288.7" cy="169.6"/><circle cx="287.4" cy="158.5"/><circle cx="276.6" cy="158.8"/><circle cx="274.3" cy="132.3"/><circle cx="281.9" cy="121.6"/><circle cx="281.1" cy="105.0"/><circle cx="309.1" cy="113.7"/><circle cx="304.6" cy="125.1"/><circle cx="317.4" cy="158.2"/><circle cx="291.2" cy="164.6"/><circle cx="276.4" cy="118.1"/><circle cx="326.0" cy="123.0"/><circle cx="296.3" cy="157.7"/><circle cx="364.9" cy="163.5"/><circle cx="318.0" cy="166.3"/><circle cx="360.8" cy="166.1"/><circle cx="296.7" cy="135.0"/><circle cx="309.9" cy="155.0"/><circle cx="345.1" cy="166.4"/><circle cx="350.7" cy="136.1"/><circle cx="296.2" cy="169.6"/><circle cx="298.4" cy="131.6"/><circle cx="293.8" cy="121.3"/><circle cx="276.3" cy="130.5"/><circle cx="275.9" cy="105.3"/><circle cx="278.4" cy="123.2"/><circle cx="285.2" cy="169.6"/><circle cx="287.0" cy="151.6"/><circle cx="299.4" cy="169.6"/><circle cx="374.8" cy="136.5"/><circle cx="366.8" cy="140.7"/><circle cx="355.7" cy="167.2"/><circle cx="275.4" cy="97.8"/><circle cx="287.9" cy="165.6"/><circle cx="330.8" cy="126.7"/><circle cx="325.1" cy="142.8"/><circle cx="358.7" cy="161.1"/><circle cx="280.7" cy="156.5"/><circle cx="347.0" cy="132.4"/><circle cx="359.5" cy="166.2"/><circle cx="279.3" cy="169.0"/><circle cx="326.7" cy="165.6"/><circle cx="336.1" cy="141.5"/><circle cx="332.9" cy="149.4"/><circle cx="341.3" cy="128.6"/><circle cx="363.8" cy="139.4"/><circle cx="356.4" cy="156.6"/><circle cx="328.6" cy="143.0"/><circle cx="329.0" cy="129.8"/><circle cx="317.2" cy="132.5"/><circle cx="430.8" cy="167.9"/><circle cx="400.3" cy="144.1"/><circle cx="288.4" cy="118.6"/><circle cx="313.6" cy="132.8"/><circle cx="291.3" cy="154.3"/><circle cx="292.2" cy="129.6"/><circle cx="299.1" cy="153.0"/><circle cx="291.3" cy="136.5"/><circle cx="282.2" cy="112.7"/><circle cx="275.1" cy="154.9"/><circle cx="318.0" cy="142.7"/><circle cx="347.3" cy="138.2"/><circle cx="276.9" cy="99.8"/><circle cx="354.1" cy="151.8"/><circle cx="274.3" cy="140.1"/><circle cx="381.6" cy="159.8"/><circle cx="329.3" cy="150.3"/><circle cx="291.0" cy="110.2"/><circle cx="306.1" cy="169.6"/><circle cx="299.0" cy="123.8"/><circle cx="320.5" cy="149.2"/><circle cx="329.5" cy="159.1"/><circle cx="320.9" cy="159.7"/><circle cx="285.0" cy="140.6"/><circle cx="314.4" cy="117.8"/><circle cx="288.5" cy="110.8"/><circle cx="278.2" cy="165.2"/><circle cx="308.6" cy="158.2"/><circle cx="308.5" cy="129.1"/><circle cx="281.7" cy="143.2"/><circle cx="287.0" cy="114.9"/><circle cx="288.7" cy="140.0"/><circle cx="334.0" cy="136.9"/><circle cx="347.6" cy="132.3"/><circle cx="300.1" cy="158.4"/><circle cx="313.3" cy="143.3"/><circle cx="351.6" cy="145.2"/><circle cx="292.4" cy="139.8"/><circle cx="354.9" cy="144.5"/><circle cx="279.1" cy="115.7"/><circle cx="277.4" cy="142.6"/><circle cx="309.6" cy="169.6"/><circle cx="336.9" cy="169.5"/><circle cx="275.0" cy="76.1"/><circle cx="281.0" cy="105.0"/><circle cx="324.1" cy="153.1"/><circle cx="362.0" cy="126.2"/><circle cx="306.8" cy="151.9"/><circle cx="331.1" cy="139.9"/><circle cx="332.8" cy="130.2"/><circle cx="274.5" cy="68.5"/><circle cx="279.7" cy="109.9"/><circle cx="332.7" cy="156.4"/><circle cx="283.4" cy="109.4"/><circle cx="316.7" cy="149.7"/><circle cx="370.6" cy="149.6"/><circle cx="274.5" cy="58.4"/><circle cx="314.2" cy="159.6"/><circle cx="292.5" cy="168.8"/><circle cx="308.9" cy="132.5"/><circle cx="363.8" cy="167.9"/><circle cx="313.8" cy="153.5"/><circle cx="286.6" cy="125.8"/><circle cx="293.1" cy="125.1"/><circle cx="401.5" cy="145.8"/><circle cx="386.5" cy="162.4"/><circle cx="308.1" cy="140.1"/><circle cx="324.1" cy="158.4"/><circle cx="355.9" cy="162.1"/><circle cx="294.6" cy="153.4"/><circle cx="298.7" cy="139.1"/><circle cx="304.3" cy="157.6"/><circle cx="312.1" cy="129.0"/><circle cx="316.5" cy="146.1"/><circle cx="343.3" cy="157.6"/><circle cx="399.4" cy="132.6"/><circle cx="310.6" cy="161.5"/><circle cx="281.8" cy="165.4"/><circle cx="314.7" cy="164.0"/><circle cx="329.9" cy="135.2"/><circle cx="314.4" cy="140.0"/><circle cx="296.4" cy="128.1"/><circle cx="334.5" cy="165.4"/><circle cx="341.9" cy="169.6"/><circle cx="327.5" cy="162.1"/><circle cx="339.7" cy="154.5"/><circle cx="303.2" cy="147.8"/><circle cx="353.2" cy="169.6"/><circle cx="311.5" cy="150.2"/><circle cx="277.3" cy="147.0"/><circle cx="330.8" cy="168.8"/><circle cx="274.3" cy="99.4"/><circle cx="360.3" cy="158.1"/><circle cx="321.7" cy="131.5"/><circle cx="292.5" cy="133.1"/><circle cx="311.4" cy="165.5"/><circle cx="280.0" cy="94.2"/><circle cx="344.8" cy="142.5"/><circle cx="338.4" cy="164.7"/><circle cx="274.7" cy="111.7"/><circle cx="284.0" cy="148.6"/><circle cx="302.7" cy="153.7"/><circle cx="285.1" cy="161.1"/><circle cx="327.6" cy="169.6"/><circle cx="310.3" cy="119.5"/><circle cx="322.2" cy="165.6"/><circle cx="312.9" cy="146.8"/><circle cx="354.9" cy="131.9"/><circle cx="322.9" cy="137.8"/><circle cx="301.9" cy="119.5"/><circle cx="276.6" cy="95.1"/><circle cx="303.8" cy="167.3"/><circle cx="290.5" cy="145.8"/><circle cx="346.6" cy="156.8"/><circle cx="292.5" cy="116.4"/><circle cx="351.5" cy="122.4"/><circle cx="361.2" cy="149.2"/><circle cx="362.6" cy="154.7"/><circle cx="342.7" cy="146.4"/><circle cx="325.6" cy="134.3"/><circle cx="291.6" cy="160.0"/><circle cx="277.7" cy="138.1"/><circle cx="287.7" cy="148.3"/><circle cx="289.3" cy="122.0"/><circle cx="319.8" cy="169.6"/><circle cx="330.2" cy="146.2"/><circle cx="348.8" cy="168.1"/><circle cx="422.9" cy="162.0"/><circle cx="281.7" cy="129.8"/><circle cx="299.7" cy="148.5"/><circle cx="305.6" cy="163.2"/><circle cx="327.2" cy="138.5"/><circle cx="356.1" cy="154.0"/><circle cx="349.2" cy="152.3"/><circle cx="324.3" cy="146.3"/><circle cx="363.7" cy="168.2"/><circle cx="281.8" cy="139.3"/><circle cx="333.6" cy="169.6"/><circle cx="309.7" cy="125.6"/><circle cx="288.7" cy="106.0"/><circle cx="352.3" cy="141.2"/><circle cx="351.9" cy="167.9"/><circle cx="386.7" cy="162.5"/><circle cx="356.1" cy="148.2"/><circle cx="276.6" cy="169.6"/><circle cx="349.3" cy="144.5"/><circle cx="309.3" cy="143.6"/><circle cx="338.0" cy="158.8"/><circle cx="274.3" cy="149.1"/><circle cx="367.2" cy="145.8"/><circle cx="300.7" cy="161.9"/><circle cx="346.6" cy="147.4"/><circle cx="379.0" cy="151.8"/><circle cx="313.2" cy="168.5"/><circle cx="422.9" cy="136.5"/><circle cx="304.2" cy="129.6"/><circle cx="281.2" cy="126.4"/><circle cx="341.2" cy="151.1"/><circle cx="347.1" cy="169.6"/><circle cx="374.0" cy="143.6"/><circle cx="319.0" cy="137.1"/><circle cx="377.7" cy="130.6"/><circle cx="286.5" cy="144.8"/><circle cx="327.2" cy="126.5"/><circle cx="285.9" cy="131.2"/><circle cx="321.3" cy="144.1"/><circle cx="304.7" cy="144.3"/><circle cx="320.3" cy="155.0"/><circle cx="355.3" cy="140.7"/><circle cx="275.7" cy="125.9"/><circle cx="285.3" cy="122.2"/><circle cx="299.5" cy="167.7"/><circle cx="346.7" cy="163.3"/><circle cx="344.0" cy="136.5"/><circle cx="407.9" cy="158.1"/><circle cx="335.7" cy="147.4"/><circle cx="312.4" cy="137.2"/><circle cx="376.6" cy="165.9"/><circle cx="351.1" cy="163.0"/><circle cx="323.8" cy="162.1"/><circle cx="302.7" cy="136.1"/><circle cx="288.6" cy="129.1"/><circle cx="366.2" cy="158.0"/><circle cx="286.0" cy="105.5"/><circle cx="274.5" cy="94.2"/><circle cx="281.7" cy="117.9"/><circle cx="306.4" cy="135.2"/><circle cx="344.8" cy="131.6"/><circle cx="363.1" cy="146.1"/><circle cx="274.3" cy="121.4"/><circle cx="307.8" cy="166.8"/><circle cx="280.0" cy="97.7"/><circle cx="296.8" cy="161.8"/><circle cx="297.8" cy="120.3"/><circle cx="394.3" cy="167.9"/><circle cx="295.0" cy="166.3"/><circle cx="300.0" cy="128.4"/><circle cx="381.6" cy="149.6"/><circle cx="307.7" cy="147.8"/><circle cx="338.1" cy="136.7"/><circle cx="284.7" cy="154.8"/><circle cx="319.1" cy="128.0"/><circle cx="277.2" cy="134.0"/><circle cx="363.9" cy="162.9"/><circle cx="302.6" cy="140.8"/><circle cx="323.5" cy="169.6"/><circle cx="340.1" cy="139.7"/><circle cx="329.1" cy="155.7"/><circle cx="318.6" cy="162.5"/><circle cx="365.4" cy="169.6"/><circle cx="280.0" cy="149.8"/><circle cx="274.3" cy="136.0"/><circle cx="330.1" cy="164.5"/><circle cx="283.2" cy="135.5"/><circle cx="376.5" cy="165.9"/><circle cx="279.9" cy="159.8"/><circle cx="277.6" cy="70.7"/>
</g>
<g fill="#30b462" stroke="#011406" stroke-width="1.1" class="dc">
<circle cx="527.1" cy="119.7"/><circle cx="504.2" cy="135.9"/><circle cx="524.6" cy="111.4"/><circle cx="500.9" cy="148.1"/><circle cx="498.1" cy="102.5"/><circle cx="516.0" cy="142.5"/><circle cx="496.7" cy="150.4"/><circle cx="509.5" cy="152.3"/><circle cx="524.7" cy="164.0"/><circle cx="516.4" cy="102.5"/><circle cx="499.5" cy="152.1"/><circle cx="495.8" cy="103.5"/><circle cx="504.0" cy="136.5"/><circle cx="527.2" cy="153.9"/><circle cx="508.4" cy="150.7"/><circle cx="518.3" cy="150.4"/><circle cx="526.9" cy="156.5"/><circle cx="534.1" cy="170.5"/><circle cx="517.6" cy="121.7"/><circle cx="519.9" cy="89.4"/><circle cx="519.4" cy="113.6"/><circle cx="527.6" cy="139.0"/><circle cx="517.3" cy="155.7"/><circle cx="537.2" cy="158.6"/><circle cx="522.8" cy="151.5"/><circle cx="500.8" cy="135.9"/><circle cx="527.9" cy="151.4"/><circle cx="530.8" cy="160.9"/><circle cx="512.1" cy="154.1"/><circle cx="501.8" cy="108.1"/><circle cx="532.9" cy="147.1"/><circle cx="526.1" cy="134.0"/><circle cx="497.1" cy="163.2"/><circle cx="496.7" cy="170.4"/><circle cx="502.1" cy="170.9"/><circle cx="527.8" cy="132.4"/><circle cx="501.7" cy="100.8"/><circle cx="531.3" cy="154.3"/><circle cx="506.0" cy="159.1"/><circle cx="533.6" cy="152.8"/><circle cx="498.5" cy="109.0"/><circle cx="503.0" cy="135.5"/><circle cx="520.7" cy="148.8"/><circle cx="537.6" cy="142.7"/><circle cx="506.5" cy="88.6"/><circle cx="525.6" cy="100.7"/><circle cx="539.2" cy="158.2"/><circle cx="527.1" cy="94.1"/><circle cx="519.9" cy="165.8"/><circle cx="512.0" cy="153.2"/><circle cx="500.5" cy="119.4"/><circle cx="511.9" cy="149.7"/><circle cx="531.1" cy="126.1"/><circle cx="514.2" cy="101.2"/><circle cx="536.5" cy="133.0"/><circle cx="509.1" cy="128.8"/><circle cx="513.1" cy="97.5"/><circle cx="537.0" cy="153.8"/><circle cx="515.9" cy="134.1"/><circle cx="514.7" cy="96.6"/><circle cx="500.9" cy="120.7"/><circle cx="523.7" cy="139.6"/><circle cx="532.3" cy="103.1"/><circle cx="512.0" cy="132.3"/><circle cx="508.6" cy="168.4"/><circle cx="501.9" cy="127.7"/><circle cx="514.2" cy="167.1"/><circle cx="518.9" cy="153.7"/><circle cx="525.0" cy="143.3"/><circle cx="505.2" cy="134.3"/><circle cx="521.7" cy="130.7"/><circle cx="529.6" cy="122.4"/><circle cx="506.8" cy="137.7"/><circle cx="510.0" cy="90.5"/><circle cx="534.3" cy="173.0"/><circle cx="497.3" cy="155.4"/><circle cx="539.1" cy="164.5"/><circle cx="532.6" cy="107.7"/><circle cx="499.5" cy="161.8"/><circle cx="533.1" cy="108.2"/><circle cx="525.6" cy="134.5"/><circle cx="513.4" cy="94.2"/><circle cx="504.2" cy="140.3"/><circle cx="522.2" cy="143.0"/><circle cx="535.3" cy="173.2"/><circle cx="506.7" cy="156.3"/><circle cx="508.6" cy="150.4"/><circle cx="516.0" cy="111.6"/><circle cx="496.9" cy="113.8"/><circle cx="533.6" cy="169.6"/><circle cx="514.0" cy="155.4"/><circle cx="517.7" cy="139.5"/><circle cx="513.2" cy="149.3"/><circle cx="500.8" cy="138.6"/><circle cx="515.2" cy="144.4"/><circle cx="519.4" cy="161.9"/><circle cx="505.9" cy="156.2"/><circle cx="523.1" cy="94.4"/><circle cx="531.1" cy="173.2"/><circle cx="519.9" cy="150.5"/><circle cx="508.9" cy="125.1"/><circle cx="508.8" cy="149.3"/><circle cx="531.8" cy="144.7"/><circle cx="533.1" cy="123.1"/><circle cx="509.9" cy="105.0"/><circle cx="498.2" cy="127.4"/><circle cx="507.3" cy="142.7"/><circle cx="503.8" cy="117.4"/><circle cx="532.4" cy="109.9"/><circle cx="504.4" cy="87.7"/><circle cx="504.7" cy="141.7"/><circle cx="523.1" cy="128.8"/><circle cx="500.2" cy="127.5"/><circle cx="523.1" cy="94.4"/><circle cx="532.5" cy="151.7"/><circle cx="534.3" cy="131.6"/><circle cx="537.4" cy="167.9"/><circle cx="514.6" cy="120.8"/><circle cx="508.2" cy="111.8"/><circle cx="537.7" cy="165.5"/><circle cx="502.7" cy="145.1"/><circle cx="501.8" cy="104.6"/><circle cx="517.7" cy="96.9"/><circle cx="501.7" cy="126.2"/><circle cx="530.5" cy="145.8"/><circle cx="497.4" cy="154.5"/><circle cx="531.0" cy="131.1"/><circle cx="513.4" cy="125.8"/><circle cx="509.5" cy="166.1"/><circle cx="529.3" cy="116.4"/><circle cx="536.4" cy="131.6"/><circle cx="507.4" cy="97.5"/><circle cx="507.7" cy="108.4"/><circle cx="521.8" cy="117.7"/><circle cx="522.1" cy="115.8"/><circle cx="530.0" cy="156.9"/><circle cx="512.0" cy="144.8"/><circle cx="525.1" cy="121.8"/><circle cx="513.9" cy="93.3"/><circle cx="506.3" cy="138.5"/><circle cx="530.6" cy="99.4"/><circle cx="507.0" cy="129.7"/><circle cx="519.5" cy="165.5"/><circle cx="510.0" cy="129.7"/><circle cx="532.9" cy="129.7"/><circle cx="533.8" cy="116.6"/><circle cx="520.4" cy="100.7"/><circle cx="540.4" cy="129.8"/><circle cx="535.8" cy="130.2"/><circle cx="533.5" cy="114.1"/><circle cx="533.8" cy="147.1"/><circle cx="537.6" cy="132.8"/><circle cx="526.6" cy="165.0"/><circle cx="511.0" cy="95.9"/><circle cx="504.9" cy="170.4"/><circle cx="497.9" cy="116.0"/><circle cx="512.3" cy="130.8"/><circle cx="525.2" cy="101.1"/><circle cx="535.7" cy="161.7"/><circle cx="520.4" cy="107.2"/><circle cx="518.4" cy="105.2"/><circle cx="539.9" cy="168.6"/><circle cx="525.1" cy="94.8"/><circle cx="524.9" cy="98.4"/><circle cx="504.6" cy="118.2"/><circle cx="528.3" cy="168.7"/><circle cx="519.7" cy="145.2"/><circle cx="511.5" cy="87.8"/><circle cx="501.4" cy="163.8"/><circle cx="534.9" cy="153.8"/><circle cx="518.0" cy="125.7"/><circle cx="524.6" cy="160.6"/><circle cx="496.6" cy="126.1"/><circle cx="533.0" cy="132.9"/><circle cx="502.0" cy="129.5"/><circle cx="516.8" cy="127.2"/><circle cx="509.3" cy="100.5"/><circle cx="530.0" cy="158.7"/><circle cx="506.2" cy="163.5"/><circle cx="506.0" cy="87.6"/><circle cx="499.8" cy="134.3"/><circle cx="529.4" cy="103.3"/><circle cx="525.7" cy="100.5"/><circle cx="502.0" cy="93.8"/><circle cx="506.9" cy="166.8"/><circle cx="507.3" cy="109.5"/><circle cx="523.2" cy="128.9"/><circle cx="502.8" cy="106.7"/><circle cx="503.7" cy="142.2"/><circle cx="505.3" cy="166.4"/><circle cx="525.0" cy="135.1"/><circle cx="503.6" cy="167.8"/><circle cx="510.9" cy="160.7"/><circle cx="530.1" cy="158.2"/><circle cx="496.5" cy="158.2"/><circle cx="537.8" cy="152.9"/><circle cx="514.7" cy="166.0"/><circle cx="502.0" cy="106.5"/><circle cx="523.3" cy="101.2"/><circle cx="536.8" cy="155.0"/><circle cx="531.9" cy="150.2"/><circle cx="513.3" cy="93.0"/><circle cx="503.5" cy="164.2"/><circle cx="527.8" cy="133.8"/><circle cx="500.5" cy="124.9"/><circle cx="524.5" cy="142.2"/><circle cx="501.5" cy="88.3"/><circle cx="501.1" cy="165.0"/><circle cx="504.8" cy="106.0"/><circle cx="528.9" cy="126.2"/><circle cx="503.5" cy="135.4"/><circle cx="524.9" cy="92.2"/><circle cx="512.4" cy="160.8"/><circle cx="520.4" cy="89.3"/><circle cx="496.2" cy="123.7"/><circle cx="506.8" cy="103.0"/><circle cx="527.0" cy="105.2"/><circle cx="534.2" cy="143.3"/><circle cx="521.5" cy="119.7"/><circle cx="506.7" cy="111.7"/><circle cx="502.5" cy="99.6"/><circle cx="518.4" cy="120.6"/><circle cx="539.1" cy="173.2"/><circle cx="503.2" cy="141.8"/><circle cx="515.3" cy="129.7"/><circle cx="511.6" cy="139.6"/><circle cx="501.4" cy="107.0"/><circle cx="512.4" cy="148.0"/><circle cx="533.8" cy="120.4"/><circle cx="505.8" cy="154.7"/><circle cx="507.4" cy="132.5"/><circle cx="512.8" cy="105.6"/><circle cx="510.9" cy="87.8"/><circle cx="506.1" cy="153.6"/><circle cx="505.5" cy="130.7"/><circle cx="498.5" cy="111.3"/><circle cx="501.7" cy="127.7"/><circle cx="497.8" cy="143.0"/><circle cx="497.5" cy="127.2"/><circle cx="532.0" cy="147.0"/><circle cx="530.8" cy="162.5"/><circle cx="532.5" cy="121.4"/><circle cx="508.1" cy="102.0"/><circle cx="504.7" cy="100.6"/><circle cx="532.0" cy="173.2"/><circle cx="496.0" cy="103.4"/><circle cx="511.7" cy="141.5"/><circle cx="526.0" cy="159.4"/><circle cx="512.4" cy="142.2"/><circle cx="505.7" cy="122.1"/><circle cx="499.4" cy="122.0"/><circle cx="531.4" cy="150.6"/><circle cx="512.4" cy="116.9"/><circle cx="521.7" cy="162.7"/><circle cx="512.9" cy="154.5"/><circle cx="537.8" cy="127.1"/><circle cx="527.4" cy="94.2"/><circle cx="537.3" cy="167.8"/><circle cx="500.0" cy="116.8"/><circle cx="528.9" cy="153.7"/><circle cx="531.1" cy="119.9"/><circle cx="524.2" cy="112.0"/><circle cx="505.8" cy="116.2"/><circle cx="535.7" cy="118.8"/><circle cx="503.4" cy="106.9"/><circle cx="522.4" cy="118.2"/><circle cx="536.0" cy="121.5"/><circle cx="531.1" cy="121.8"/><circle cx="523.1" cy="109.3"/><circle cx="518.1" cy="165.9"/><circle cx="530.6" cy="171.5"/><circle cx="525.9" cy="126.8"/><circle cx="510.3" cy="173.2"/><circle cx="533.6" cy="113.0"/><circle cx="526.2" cy="129.0"/><circle cx="533.8" cy="117.4"/><circle cx="516.6" cy="117.1"/><circle cx="528.0" cy="95.4"/><circle cx="507.4" cy="144.3"/><circle cx="533.8" cy="106.6"/><circle cx="526.3" cy="94.8"/><circle cx="508.9" cy="134.8"/><circle cx="497.2" cy="154.5"/><circle cx="508.7" cy="157.1"/><circle cx="535.2" cy="167.3"/><circle cx="533.6" cy="124.2"/><circle cx="520.8" cy="167.7"/><circle cx="520.7" cy="124.8"/><circle cx="528.5" cy="159.4"/><circle cx="511.0" cy="169.8"/><circle cx="501.8" cy="145.8"/><circle cx="533.4" cy="165.6"/><circle cx="513.8" cy="97.0"/><circle cx="519.6" cy="163.7"/><circle cx="527.7" cy="153.7"/><circle cx="510.3" cy="131.4"/><circle cx="533.0" cy="136.0"/><circle cx="513.0" cy="168.0"/><circle cx="521.3" cy="121.4"/><circle cx="506.0" cy="138.8"/><circle cx="516.4" cy="148.5"/><circle cx="509.8" cy="146.0"/><circle cx="524.9" cy="143.4"/><circle cx="517.1" cy="153.7"/><circle cx="521.3" cy="135.1"/><circle cx="532.9" cy="171.5"/><circle cx="526.7" cy="100.2"/><circle cx="536.0" cy="144.9"/><circle cx="509.3" cy="168.7"/><circle cx="505.3" cy="158.2"/><circle cx="510.4" cy="123.4"/><circle cx="505.1" cy="142.8"/><circle cx="517.2" cy="167.2"/><circle cx="515.3" cy="161.2"/><circle cx="523.9" cy="135.8"/><circle cx="505.7" cy="116.6"/><circle cx="499.6" cy="93.0"/><circle cx="502.4" cy="149.8"/><circle cx="532.6" cy="116.3"/><circle cx="519.8" cy="121.9"/><circle cx="539.5" cy="162.3"/><circle cx="501.3" cy="89.9"/><circle cx="524.5" cy="148.0"/><circle cx="527.8" cy="140.7"/><circle cx="529.2" cy="170.5"/><circle cx="521.8" cy="89.7"/><circle cx="537.1" cy="140.3"/><circle cx="518.1" cy="95.0"/><circle cx="523.7" cy="164.7"/><circle cx="512.7" cy="110.0"/><circle cx="501.3" cy="154.9"/><circle cx="522.0" cy="93.3"/><circle cx="511.6" cy="128.9"/><circle cx="532.1" cy="127.6"/><circle cx="522.6" cy="152.0"/><circle cx="529.9" cy="132.6"/><circle cx="503.0" cy="123.8"/><circle cx="508.6" cy="97.0"/><circle cx="504.3" cy="96.9"/><circle cx="510.4" cy="166.6"/><circle cx="516.8" cy="165.6"/><circle cx="520.7" cy="130.2"/><circle cx="510.2" cy="153.7"/><circle cx="529.1" cy="167.1"/><circle cx="528.2" cy="164.7"/><circle cx="533.9" cy="145.8"/><circle cx="507.5" cy="139.1"/><circle cx="522.2" cy="99.3"/><circle cx="516.2" cy="137.1"/><circle cx="501.2" cy="104.0"/><circle cx="512.7" cy="93.4"/><circle cx="523.9" cy="116.4"/><circle cx="514.3" cy="154.1"/><circle cx="531.5" cy="112.0"/><circle cx="516.5" cy="159.6"/><circle cx="534.9" cy="160.8"/><circle cx="506.0" cy="164.1"/><circle cx="514.4" cy="121.5"/><circle cx="504.9" cy="137.0"/><circle cx="510.9" cy="144.0"/><circle cx="501.0" cy="101.2"/><circle cx="499.0" cy="93.9"/><circle cx="517.9" cy="111.5"/><circle cx="543.7" cy="169.8"/><circle cx="521.9" cy="92.2"/><circle cx="530.8" cy="148.2"/><circle cx="530.8" cy="167.3"/><circle cx="504.5" cy="107.4"/><circle cx="538.7" cy="153.1"/><circle cx="525.5" cy="145.1"/><circle cx="510.8" cy="163.9"/><circle cx="505.0" cy="91.0"/><circle cx="533.0" cy="119.8"/><circle cx="498.8" cy="102.3"/><circle cx="497.3" cy="145.1"/><circle cx="531.2" cy="156.6"/><circle cx="496.1" cy="136.3"/><circle cx="515.2" cy="89.4"/><circle cx="528.3" cy="172.0"/><circle cx="528.4" cy="95.3"/><circle cx="533.0" cy="123.2"/><circle cx="500.6" cy="165.0"/><circle cx="506.9" cy="115.9"/><circle cx="520.1" cy="166.2"/><circle cx="508.6" cy="115.0"/><circle cx="517.8" cy="92.2"/><circle cx="516.5" cy="120.9"/><circle cx="525.1" cy="157.9"/><circle cx="521.8" cy="155.4"/><circle cx="517.1" cy="143.8"/><circle cx="498.2" cy="152.3"/><circle cx="522.5" cy="166.5"/><circle cx="517.2" cy="162.6"/><circle cx="531.4" cy="137.4"/><circle cx="540.8" cy="160.4"/><circle cx="521.6" cy="117.8"/><circle cx="500.2" cy="144.2"/><circle cx="510.3" cy="91.8"/><circle cx="535.7" cy="124.0"/><circle cx="514.6" cy="109.3"/><circle cx="497.1" cy="108.7"/><circle cx="508.3" cy="137.4"/><circle cx="536.2" cy="137.5"/><circle cx="523.7" cy="118.7"/><circle cx="525.6" cy="138.5"/><circle cx="535.1" cy="161.4"/><circle cx="496.3" cy="140.9"/><circle cx="531.6" cy="103.1"/><circle cx="511.4" cy="133.3"/><circle cx="498.4" cy="95.1"/><circle cx="521.3" cy="126.4"/><circle cx="535.6" cy="168.0"/><circle cx="510.0" cy="105.5"/><circle cx="508.7" cy="127.3"/><circle cx="514.4" cy="172.8"/><circle cx="521.4" cy="102.7"/><circle cx="532.1" cy="151.2"/><circle cx="533.1" cy="116.3"/><circle cx="507.4" cy="162.0"/><circle cx="506.0" cy="128.9"/><circle cx="529.6" cy="128.8"/><circle cx="516.6" cy="92.2"/><circle cx="516.4" cy="124.9"/><circle cx="534.3" cy="167.6"/><circle cx="512.4" cy="88.5"/><circle cx="506.0" cy="113.7"/><circle cx="506.4" cy="156.6"/><circle cx="533.2" cy="167.7"/><circle cx="502.5" cy="92.5"/><circle cx="513.9" cy="86.4"/><circle cx="495.9" cy="128.3"/><circle cx="510.9" cy="132.4"/><circle cx="539.8" cy="166.4"/><circle cx="504.3" cy="142.2"/><circle cx="526.4" cy="131.6"/><circle cx="518.3" cy="131.9"/><circle cx="521.7" cy="131.9"/><circle cx="509.5" cy="94.5"/><circle cx="503.4" cy="128.8"/><circle cx="519.1" cy="158.0"/><circle cx="496.4" cy="168.7"/><circle cx="515.9" cy="154.3"/><circle cx="531.5" cy="167.1"/><circle cx="504.5" cy="134.5"/><circle cx="506.5" cy="172.4"/><circle cx="530.2" cy="134.5"/><circle cx="521.8" cy="128.9"/><circle cx="531.1" cy="100.5"/><circle cx="502.9" cy="96.3"/><circle cx="529.8" cy="156.7"/><circle cx="532.6" cy="139.1"/><circle cx="500.6" cy="163.4"/><circle cx="532.0" cy="107.1"/><circle cx="526.9" cy="150.6"/><circle cx="533.9" cy="153.9"/><circle cx="527.4" cy="166.6"/><circle cx="522.2" cy="99.0"/><circle cx="537.8" cy="162.4"/><circle cx="505.2" cy="173.2"/><circle cx="515.4" cy="92.2"/><circle cx="503.6" cy="144.7"/><circle cx="500.0" cy="120.6"/><circle cx="528.8" cy="141.0"/><circle cx="517.5" cy="154.4"/><circle cx="503.4" cy="149.0"/><circle cx="499.9" cy="160.4"/><circle cx="509.7" cy="168.6"/><circle cx="519.9" cy="163.1"/><circle cx="499.5" cy="116.6"/><circle cx="499.9" cy="113.4"/><circle cx="527.2" cy="101.5"/><circle cx="504.1" cy="157.1"/><circle cx="534.7" cy="124.7"/><circle cx="517.0" cy="139.6"/><circle cx="507.1" cy="168.7"/><circle cx="511.0" cy="139.8"/><circle cx="510.0" cy="160.7"/><circle cx="522.9" cy="110.7"/><circle cx="517.9" cy="113.0"/><circle cx="512.6" cy="90.5"/><circle cx="534.0" cy="153.2"/><circle cx="532.8" cy="150.5"/><circle cx="511.3" cy="127.2"/><circle cx="509.2" cy="127.4"/><circle cx="528.4" cy="119.2"/><circle cx="537.2" cy="122.2"/><circle cx="512.5" cy="156.7"/><circle cx="507.2" cy="106.8"/><circle cx="517.2" cy="100.6"/><circle cx="531.8" cy="102.9"/><circle cx="526.7" cy="161.1"/><circle cx="507.4" cy="91.0"/><circle cx="501.4" cy="118.8"/><circle cx="516.9" cy="150.7"/><circle cx="497.2" cy="126.9"/><circle cx="524.3" cy="115.7"/><circle cx="537.9" cy="152.2"/><circle cx="513.0" cy="158.9"/><circle cx="530.5" cy="96.6"/><circle cx="504.6" cy="106.1"/><circle cx="510.3" cy="103.1"/><circle cx="498.0" cy="150.7"/><circle cx="505.7" cy="100.3"/><circle cx="499.6" cy="92.8"/><circle cx="540.3" cy="160.9"/><circle cx="509.1" cy="162.3"/><circle cx="513.4" cy="146.1"/><circle cx="521.2" cy="168.8"/><circle cx="504.0" cy="114.3"/><circle cx="501.0" cy="92.9"/><circle cx="498.7" cy="128.3"/><circle cx="514.5" cy="102.4"/><circle cx="495.7" cy="135.6"/><circle cx="524.6" cy="129.4"/><circle cx="511.9" cy="138.7"/><circle cx="538.7" cy="169.9"/><circle cx="500.0" cy="135.9"/><circle cx="519.9" cy="105.0"/><circle cx="519.9" cy="149.4"/><circle cx="519.5" cy="124.6"/><circle cx="525.3" cy="112.1"/><circle cx="538.5" cy="131.4"/><circle cx="528.2" cy="146.4"/><circle cx="506.0" cy="110.0"/><circle cx="531.7" cy="132.7"/><circle cx="526.0" cy="99.8"/><circle cx="504.2" cy="116.0"/><circle cx="510.5" cy="156.8"/><circle cx="508.1" cy="118.6"/><circle cx="527.4" cy="165.3"/><circle cx="501.0" cy="93.5"/><circle cx="523.2" cy="171.5"/><circle cx="524.0" cy="95.6"/><circle cx="527.1" cy="98.6"/><circle cx="513.7" cy="148.7"/><circle cx="520.5" cy="136.3"/><circle cx="505.3" cy="167.6"/><circle cx="515.8" cy="155.4"/><circle cx="508.3" cy="170.0"/><circle cx="525.5" cy="164.8"/><circle cx="518.0" cy="92.5"/><circle cx="499.3" cy="110.0"/><circle cx="500.7" cy="148.6"/><circle cx="498.5" cy="152.7"/><circle cx="515.4" cy="145.2"/><circle cx="518.3" cy="123.1"/><circle cx="501.0" cy="148.4"/><circle cx="508.9" cy="130.0"/><circle cx="510.2" cy="156.0"/><circle cx="517.8" cy="129.8"/><circle cx="509.2" cy="99.1"/><circle cx="521.7" cy="137.2"/><circle cx="527.8" cy="132.1"/><circle cx="523.2" cy="94.0"/><circle cx="505.0" cy="144.0"/><circle cx="510.9" cy="165.2"/><circle cx="513.7" cy="94.4"/><circle cx="509.1" cy="145.1"/><circle cx="502.0" cy="131.0"/><circle cx="513.1" cy="95.2"/><circle cx="506.4" cy="124.3"/><circle cx="520.5" cy="138.1"/><circle cx="510.8" cy="150.3"/><circle cx="502.6" cy="154.5"/><circle cx="504.5" cy="136.1"/><circle cx="508.9" cy="155.7"/><circle cx="526.5" cy="93.8"/><circle cx="509.5" cy="121.3"/><circle cx="524.5" cy="159.6"/><circle cx="517.8" cy="114.7"/><circle cx="529.4" cy="155.5"/><circle cx="527.1" cy="115.6"/><circle cx="531.7" cy="137.5"/><circle cx="515.2" cy="131.7"/><circle cx="513.9" cy="138.3"/><circle cx="506.4" cy="126.8"/><circle cx="503.1" cy="162.0"/><circle cx="503.2" cy="163.8"/><circle cx="533.6" cy="111.9"/><circle cx="520.6" cy="172.7"/><circle cx="517.1" cy="168.2"/><circle cx="514.4" cy="135.7"/><circle cx="512.2" cy="150.8"/><circle cx="523.5" cy="94.5"/><circle cx="530.5" cy="151.3"/><circle cx="498.2" cy="105.2"/><circle cx="509.1" cy="157.9"/><circle cx="524.1" cy="128.4"/><circle cx="529.5" cy="107.7"/><circle cx="500.8" cy="148.7"/><circle cx="518.8" cy="100.8"/><circle cx="524.2" cy="157.1"/><circle cx="510.9" cy="107.7"/><circle cx="519.0" cy="148.8"/><circle cx="514.0" cy="157.6"/><circle cx="511.3" cy="140.4"/><circle cx="524.8" cy="134.6"/><circle cx="520.2" cy="133.4"/><circle cx="514.8" cy="101.3"/><circle cx="529.5" cy="131.9"/><circle cx="523.1" cy="99.1"/><circle cx="533.8" cy="148.2"/><circle cx="527.6" cy="172.3"/><circle cx="512.9" cy="107.6"/><circle cx="500.0" cy="140.0"/><circle cx="500.5" cy="98.2"/><circle cx="513.6" cy="151.6"/><circle cx="506.4" cy="87.2"/><circle cx="502.0" cy="126.5"/><circle cx="525.8" cy="115.4"/><circle cx="524.2" cy="114.8"/><circle cx="498.6" cy="111.5"/><circle cx="521.9" cy="132.6"/><circle cx="520.5" cy="162.1"/><circle cx="532.9" cy="143.7"/><circle cx="517.7" cy="165.1"/><circle cx="504.0" cy="129.0"/><circle cx="518.2" cy="129.0"/><circle cx="498.2" cy="115.8"/><circle cx="511.7" cy="143.2"/><circle cx="511.1" cy="140.2"/><circle cx="505.1" cy="108.6"/><circle cx="519.9" cy="167.5"/><circle cx="507.9" cy="167.5"/><circle cx="520.9" cy="158.2"/><circle cx="511.3" cy="147.8"/><circle cx="529.4" cy="168.4"/><circle cx="509.6" cy="163.7"/><circle cx="537.7" cy="170.4"/><circle cx="500.8" cy="152.8"/><circle cx="519.8" cy="150.6"/><circle cx="520.4" cy="106.7"/><circle cx="500.7" cy="96.9"/><circle cx="497.9" cy="126.9"/><circle cx="509.9" cy="105.5"/><circle cx="511.5" cy="91.1"/><circle cx="512.1" cy="138.9"/><circle cx="515.8" cy="166.4"/><circle cx="513.8" cy="121.7"/><circle cx="499.9" cy="112.4"/><circle cx="537.5" cy="165.2"/><circle cx="525.8" cy="159.7"/><circle cx="529.5" cy="157.8"/><circle cx="538.0" cy="135.9"/><circle cx="510.5" cy="132.7"/><circle cx="531.1" cy="125.4"/><circle cx="499.2" cy="173.2"/><circle cx="536.7" cy="172.6"/><circle cx="516.2" cy="133.5"/><circle cx="521.5" cy="161.5"/><circle cx="499.1" cy="133.3"/><circle cx="519.6" cy="167.0"/><circle cx="512.2" cy="149.7"/><circle cx="509.0" cy="167.6"/><circle cx="522.7" cy="133.4"/><circle cx="527.5" cy="161.0"/><circle cx="530.0" cy="120.9"/><circle cx="528.5" cy="139.6"/><circle cx="516.2" cy="152.8"/><circle cx="528.3" cy="119.6"/><circle cx="524.8" cy="164.1"/><circle cx="501.8" cy="92.3"/><circle cx="505.5" cy="87.2"/><circle cx="523.7" cy="168.0"/><circle cx="517.3" cy="113.7"/><circle cx="511.0" cy="102.0"/><circle cx="527.7" cy="137.9"/><circle cx="524.3" cy="167.0"/><circle cx="536.7" cy="139.5"/><circle cx="518.1" cy="163.5"/><circle cx="498.4" cy="169.9"/><circle cx="504.0" cy="102.9"/><circle cx="513.1" cy="144.2"/><circle cx="509.8" cy="106.5"/><circle cx="497.7" cy="167.9"/><circle cx="534.7" cy="144.7"/><circle cx="504.9" cy="131.4"/><circle cx="532.8" cy="119.4"/><circle cx="506.5" cy="150.9"/><circle cx="515.9" cy="120.1"/><circle cx="526.3" cy="170.3"/><circle cx="525.5" cy="129.3"/><circle cx="521.0" cy="125.4"/><circle cx="525.1" cy="169.5"/><circle cx="531.4" cy="165.6"/><circle cx="495.7" cy="117.7"/><circle cx="504.9" cy="123.5"/><circle cx="512.7" cy="96.6"/><circle cx="502.7" cy="163.2"/><circle cx="525.5" cy="170.2"/><circle cx="534.7" cy="155.3"/><circle cx="502.6" cy="123.6"/><circle cx="498.1" cy="125.8"/><circle cx="504.3" cy="159.4"/><circle cx="532.9" cy="149.5"/><circle cx="498.0" cy="161.8"/><circle cx="498.4" cy="140.3"/><circle cx="525.2" cy="106.6"/><circle cx="510.8" cy="132.9"/><circle cx="531.4" cy="150.1"/><circle cx="522.3" cy="150.6"/><circle cx="522.1" cy="138.6"/><circle cx="520.9" cy="140.5"/><circle cx="508.2" cy="151.7"/><circle cx="508.8" cy="92.2"/><circle cx="534.2" cy="169.2"/><circle cx="529.4" cy="103.4"/><circle cx="513.1" cy="141.7"/><circle cx="532.3" cy="116.4"/><circle cx="539.8" cy="166.4"/><circle cx="502.3" cy="160.8"/><circle cx="522.3" cy="122.4"/><circle cx="507.4" cy="100.9"/><circle cx="502.6" cy="170.0"/><circle cx="524.8" cy="146.1"/><circle cx="497.0" cy="152.1"/><circle cx="500.6" cy="138.8"/><circle cx="509.1" cy="109.7"/><circle cx="521.8" cy="139.1"/><circle cx="540.5" cy="170.7"/><circle cx="524.2" cy="149.7"/><circle cx="526.7" cy="121.2"/><circle cx="531.3" cy="164.1"/><circle cx="508.8" cy="161.4"/><circle cx="527.5" cy="166.4"/><circle cx="530.0" cy="157.3"/><circle cx="504.0" cy="102.6"/><circle cx="536.5" cy="166.5"/><circle cx="516.6" cy="107.4"/><circle cx="509.1" cy="150.0"/><circle cx="535.8" cy="168.4"/><circle cx="522.8" cy="135.5"/><circle cx="502.9" cy="106.9"/><circle cx="520.4" cy="104.9"/><circle cx="527.8" cy="161.6"/><circle cx="528.1" cy="146.2"/><circle cx="538.2" cy="132.1"/><circle cx="500.5" cy="101.6"/><circle cx="529.4" cy="147.5"/><circle cx="515.1" cy="139.7"/><circle cx="525.2" cy="152.7"/><circle cx="513.3" cy="125.9"/><circle cx="502.0" cy="96.8"/><circle cx="537.3" cy="123.3"/><circle cx="498.9" cy="101.6"/><circle cx="513.3" cy="95.8"/><circle cx="525.7" cy="96.3"/><circle cx="518.6" cy="91.3"/><circle cx="506.7" cy="94.2"/><circle cx="502.0" cy="114.0"/><circle cx="523.0" cy="120.3"/><circle cx="504.3" cy="140.8"/><circle cx="519.8" cy="129.5"/><circle cx="524.0" cy="173.2"/><circle cx="511.1" cy="145.7"/><circle cx="523.2" cy="107.8"/><circle cx="523.3" cy="94.9"/><circle cx="530.1" cy="142.5"/><circle cx="572.1" cy="115.4"/><circle cx="569.2" cy="127.9"/><circle cx="548.6" cy="115.9"/><circle cx="510.6" cy="65.0"/><circle cx="641.5" cy="138.8"/><circle cx="570.9" cy="114.3"/><circle cx="539.9" cy="81.5"/><circle cx="551.7" cy="95.2"/><circle cx="498.2" cy="130.0"/><circle cx="518.2" cy="133.5"/><circle cx="548.4" cy="133.3"/><circle cx="511.9" cy="121.8"/><circle cx="542.5" cy="169.6"/><circle cx="566.8" cy="171.4"/><circle cx="559.7" cy="120.3"/><circle cx="528.1" cy="152.3"/><circle cx="530.1" cy="159.4"/><circle cx="510.8" cy="63.4"/><circle cx="515.6" cy="118.8"/><circle cx="527.8" cy="147.3"/><circle cx="556.6" cy="164.7"/><circle cx="502.0" cy="80.6"/><circle cx="505.2" cy="90.0"/><circle cx="585.0" cy="90.4"/><circle cx="497.1" cy="58.7"/><circle cx="500.2" cy="113.6"/><circle cx="523.9" cy="121.0"/><circle cx="517.0" cy="98.0"/><circle cx="544.8" cy="117.2"/><circle cx="540.0" cy="81.9"/><circle cx="549.6" cy="153.4"/><circle cx="518.5" cy="165.9"/><circle cx="526.1" cy="156.9"/><circle cx="564.9" cy="76.8"/><circle cx="640.1" cy="168.1"/><circle cx="539.6" cy="117.6"/><circle cx="572.7" cy="129.8"/><circle cx="529.8" cy="93.1"/><circle cx="529.8" cy="113.6"/><circle cx="579.7" cy="116.5"/><circle cx="528.5" cy="99.8"/><circle cx="563.2" cy="135.0"/><circle cx="545.5" cy="151.5"/><circle cx="519.1" cy="105.6"/><circle cx="533.5" cy="165.0"/><circle cx="617.0" cy="142.3"/><circle cx="580.4" cy="91.2"/><circle cx="496.2" cy="69.7"/><circle cx="527.7" cy="78.1"/><circle cx="577.7" cy="168.6"/><circle cx="547.3" cy="124.4"/><circle cx="565.4" cy="134.7"/><circle cx="553.0" cy="171.8"/><circle cx="509.1" cy="75.0"/><circle cx="500.8" cy="122.2"/><circle cx="544.0" cy="128.2"/><circle cx="496.1" cy="102.3"/><circle cx="545.6" cy="145.0"/><circle cx="498.3" cy="146.6"/><circle cx="533.5" cy="132.1"/><circle cx="515.2" cy="114.6"/><circle cx="513.8" cy="127.0"/><circle cx="537.9" cy="166.2"/><circle cx="506.9" cy="147.4"/><circle cx="573.6" cy="103.5"/><circle cx="553.2" cy="111.1"/><circle cx="497.7" cy="142.6"/><circle cx="558.9" cy="93.5"/><circle cx="528.2" cy="127.5"/><circle cx="495.7" cy="125.2"/><circle cx="505.7" cy="128.1"/><circle cx="538.4" cy="145.9"/><circle cx="530.8" cy="105.0"/><circle cx="606.2" cy="123.8"/><circle cx="507.1" cy="156.4"/><circle cx="521.7" cy="77.5"/><circle cx="502.5" cy="141.1"/><circle cx="541.7" cy="86.8"/><circle cx="533.5" cy="156.6"/><circle cx="537.2" cy="158.4"/><circle cx="505.3" cy="77.4"/><circle cx="519.3" cy="129.3"/><circle cx="554.1" cy="103.6"/><circle cx="521.9" cy="97.8"/><circle cx="516.3" cy="76.9"/><circle cx="556.0" cy="121.7"/><circle cx="578.9" cy="120.6"/><circle cx="503.3" cy="134.9"/><circle cx="512.5" cy="106.0"/><circle cx="562.7" cy="161.8"/><circle cx="497.3" cy="95.2"/><circle cx="523.7" cy="88.5"/><circle cx="550.1" cy="168.6"/><circle cx="498.5" cy="98.7"/><circle cx="538.1" cy="104.2"/><circle cx="558.4" cy="126.0"/><circle cx="510.0" cy="81.6"/><circle cx="516.8" cy="170.9"/><circle cx="496.2" cy="157.2"/><circle cx="558.9" cy="142.7"/><circle cx="501.1" cy="45.5"/><circle cx="549.9" cy="101.1"/><circle cx="573.6" cy="142.8"/><circle cx="521.7" cy="64.9"/><circle cx="514.4" cy="83.1"/><circle cx="511.9" cy="117.3"/><circle cx="518.0" cy="162.2"/><circle cx="528.1" cy="172.3"/><circle cx="501.4" cy="164.1"/><circle cx="507.0" cy="151.4"/><circle cx="572.2" cy="153.7"/><circle cx="502.1" cy="131.0"/><circle cx="523.6" cy="149.4"/><circle cx="499.8" cy="58.7"/><circle cx="512.2" cy="171.8"/><circle cx="509.0" cy="160.5"/><circle cx="495.7" cy="148.8"/><circle cx="519.1" cy="94.8"/><circle cx="526.3" cy="96.0"/><circle cx="501.2" cy="73.2"/><circle cx="565.0" cy="122.2"/><circle cx="497.9" cy="87.9"/><circle cx="550.2" cy="86.7"/><circle cx="528.9" cy="137.9"/><circle cx="539.5" cy="124.0"/><circle cx="534.7" cy="107.2"/><circle cx="538.2" cy="172.8"/><circle cx="512.2" cy="59.0"/><circle cx="502.6" cy="62.1"/><circle cx="510.5" cy="140.9"/><circle cx="583.1" cy="172.2"/><circle cx="575.0" cy="112.1"/><circle cx="521.9" cy="141.3"/><circle cx="501.9" cy="118.6"/><circle cx="498.0" cy="76.6"/><circle cx="532.7" cy="138.0"/><circle cx="530.1" cy="163.4"/><circle cx="576.3" cy="110.2"/><circle cx="496.6" cy="81.6"/><circle cx="531.1" cy="89.4"/><circle cx="561.7" cy="156.2"/><circle cx="495.7" cy="113.0"/><circle cx="585.8" cy="140.7"/><circle cx="510.0" cy="110.4"/><circle cx="519.7" cy="100.9"/><circle cx="581.7" cy="115.7"/><circle cx="585.8" cy="113.8"/><circle cx="601.3" cy="171.4"/><circle cx="522.8" cy="169.1"/><circle cx="537.6" cy="84.9"/><circle cx="520.3" cy="172.4"/><circle cx="520.6" cy="146.6"/><circle cx="502.1" cy="109.9"/><circle cx="502.1" cy="105.5"/><circle cx="581.8" cy="113.1"/><circle cx="528.7" cy="81.6"/><circle cx="542.2" cy="135.7"/><circle cx="558.7" cy="116.5"/><circle cx="640.9" cy="172.7"/><circle cx="517.1" cy="153.3"/><circle cx="513.1" cy="162.2"/><circle cx="538.8" cy="140.5"/><circle cx="526.0" cy="130.8"/><circle cx="541.1" cy="150.9"/><circle cx="536.4" cy="129.3"/><circle cx="511.9" cy="66.9"/><circle cx="502.4" cy="85.1"/><circle cx="552.6" cy="87.5"/><circle cx="523.0" cy="54.7"/><circle cx="525.0" cy="92.2"/><circle cx="580.4" cy="106.7"/><circle cx="533.7" cy="120.5"/><circle cx="499.4" cy="154.3"/><circle cx="572.1" cy="120.0"/><circle cx="512.0" cy="157.8"/><circle cx="534.0" cy="142.4"/><circle cx="536.2" cy="153.4"/><circle cx="518.7" cy="113.1"/><circle cx="553.0" cy="161.2"/><circle cx="524.0" cy="173.0"/><circle cx="531.2" cy="96.8"/><circle cx="549.8" cy="108.9"/><circle cx="581.7" cy="162.4"/><circle cx="546.1" cy="138.4"/><circle cx="525.5" cy="113.0"/><circle cx="569.5" cy="92.0"/><circle cx="544.4" cy="132.5"/><circle cx="566.8" cy="109.4"/><circle cx="517.2" cy="109.1"/><circle cx="542.8" cy="78.6"/><circle cx="526.6" cy="140.8"/><circle cx="532.3" cy="111.0"/><circle cx="535.3" cy="123.8"/><circle cx="532.2" cy="173.2"/><circle cx="552.2" cy="122.4"/><circle cx="497.1" cy="78.0"/><circle cx="544.5" cy="160.8"/><circle cx="499.8" cy="150.7"/><circle cx="504.1" cy="69.6"/><circle cx="532.3" cy="168.9"/><circle cx="550.4" cy="143.7"/><circle cx="556.0" cy="156.1"/><circle cx="496.6" cy="118.5"/><circle cx="524.2" cy="126.9"/><circle cx="534.3" cy="172.0"/><circle cx="520.0" cy="86.5"/><circle cx="506.3" cy="96.5"/><circle cx="502.5" cy="101.8"/><circle cx="576.8" cy="73.0"/><circle cx="525.0" cy="144.5"/><circle cx="505.8" cy="100.1"/><circle cx="514.4" cy="146.1"/><circle cx="511.4" cy="153.5"/><circle cx="570.9" cy="157.8"/><circle cx="518.0" cy="143.9"/><circle cx="569.3" cy="164.5"/><circle cx="523.0" cy="153.7"/><circle cx="556.0" cy="130.3"/><circle cx="609.4" cy="124.6"/><circle cx="524.1" cy="106.0"/><circle cx="577.7" cy="161.8"/><circle cx="551.8" cy="139.0"/><circle cx="523.5" cy="109.8"/><circle cx="506.3" cy="163.8"/><circle cx="515.3" cy="92.4"/><circle cx="526.9" cy="161.3"/><circle cx="532.5" cy="152.7"/><circle cx="522.1" cy="161.6"/><circle cx="608.3" cy="117.8"/><circle cx="535.4" cy="113.8"/><circle cx="498.2" cy="136.2"/><circle cx="519.6" cy="90.7"/><circle cx="534.5" cy="78.6"/><circle cx="532.2" cy="128.0"/><circle cx="495.8" cy="91.0"/><circle cx="506.7" cy="103.9"/><circle cx="568.4" cy="91.5"/><circle cx="522.6" cy="157.9"/><circle cx="508.4" cy="92.6"/><circle cx="495.7" cy="167.9"/><circle cx="551.2" cy="149.8"/><circle cx="516.2" cy="102.4"/><circle cx="519.5" cy="118.1"/><circle cx="551.5" cy="128.7"/><circle cx="499.3" cy="66.3"/><circle cx="503.0" cy="156.3"/><circle cx="515.7" cy="137.7"/><circle cx="570.9" cy="167.3"/><circle cx="565.5" cy="126.5"/><circle cx="507.6" cy="123.7"/><circle cx="498.4" cy="105.2"/><circle cx="514.9" cy="142.0"/><circle cx="547.3" cy="171.5"/><circle cx="552.6" cy="116.3"/><circle cx="511.0" cy="129.6"/><circle cx="510.6" cy="99.5"/><circle cx="573.2" cy="123.7"/><circle cx="540.7" cy="97.0"/><circle cx="519.0" cy="82.0"/><circle cx="508.5" cy="60.0"/><circle cx="512.9" cy="95.9"/><circle cx="518.6" cy="157.3"/><circle cx="528.7" cy="123.6"/><circle cx="533.8" cy="160.8"/><circle cx="501.6" cy="88.7"/><circle cx="543.5" cy="100.3"/><circle cx="564.1" cy="94.0"/><circle cx="526.5" cy="117.2"/><circle cx="541.1" cy="106.7"/><circle cx="544.1" cy="156.7"/><circle cx="510.3" cy="71.2"/><circle cx="598.0" cy="152.9"/><circle cx="519.8" cy="68.0"/><circle cx="577.2" cy="127.6"/><circle cx="540.5" cy="155.6"/><circle cx="530.9" cy="117.6"/><circle cx="515.0" cy="167.2"/><circle cx="583.6" cy="145.5"/><circle cx="554.5" cy="125.2"/><circle cx="567.1" cy="168.9"/><circle cx="540.2" cy="161.3"/><circle cx="500.7" cy="169.0"/><circle cx="501.1" cy="172.7"/><circle cx="511.8" cy="91.2"/><circle cx="546.5" cy="92.0"/><circle cx="513.7" cy="133.2"/><circle cx="499.5" cy="67.7"/><circle cx="563.7" cy="94.7"/><circle cx="515.4" cy="159.4"/><circle cx="542.8" cy="140.2"/><circle cx="506.5" cy="114.8"/><circle cx="507.5" cy="67.9"/><circle cx="561.1" cy="111.6"/><circle cx="566.4" cy="132.4"/><circle cx="505.6" cy="138.0"/><circle cx="527.8" cy="109.7"/><circle cx="559.0" cy="150.7"/><circle cx="500.9" cy="159.9"/><circle cx="509.7" cy="168.8"/><circle cx="534.8" cy="89.0"/><circle cx="496.6" cy="172.9"/><circle cx="524.7" cy="101.7"/><circle cx="496.7" cy="53.9"/><circle cx="506.9" cy="173.2"/><circle cx="561.4" cy="99.4"/><circle cx="511.6" cy="165.7"/><circle cx="530.1" cy="133.9"/><circle cx="563.9" cy="145.3"/><circle cx="512.4" cy="77.0"/><circle cx="516.5" cy="88.0"/><circle cx="509.5" cy="137.0"/><circle cx="611.0" cy="117.8"/><circle cx="517.2" cy="66.9"/><circle cx="558.9" cy="84.0"/><circle cx="522.7" cy="116.5"/><circle cx="495.7" cy="133.0"/><circle cx="497.4" cy="60.9"/><circle cx="540.3" cy="131.6"/><circle cx="536.9" cy="135.5"/><circle cx="544.1" cy="173.2"/><circle cx="508.7" cy="132.5"/><circle cx="505.3" cy="170.2"/><circle cx="512.1" cy="149.3"/><circle cx="535.0" cy="147.8"/><circle cx="542.0" cy="145.3"/><circle cx="536.0" cy="97.3"/><circle cx="558.6" cy="168.6"/><circle cx="565.0" cy="115.9"/><circle cx="507.8" cy="118.2"/><circle cx="538.5" cy="109.6"/><circle cx="520.5" cy="137.1"/><circle cx="557.7" cy="134.4"/><circle cx="502.5" cy="97.5"/><circle cx="502.3" cy="147.8"/><circle cx="541.8" cy="164.8"/><circle cx="563.2" cy="97.2"/><circle cx="529.7" cy="155.7"/><circle cx="547.0" cy="166.1"/><circle cx="510.3" cy="86.8"/><circle cx="495.7" cy="152.8"/><circle cx="515.0" cy="59.8"/><circle cx="557.7" cy="98.8"/><circle cx="544.5" cy="121.1"/><circle cx="524.2" cy="83.1"/><circle cx="499.1" cy="125.8"/><circle cx="533.5" cy="100.8"/><circle cx="521.8" cy="132.9"/><circle cx="570.9" cy="134.7"/><circle cx="510.8" cy="145.1"/><circle cx="604.8" cy="140.7"/><circle cx="525.0" cy="165.6"/><circle cx="503.5" cy="65.3"/><circle cx="506.0" cy="143.3"/><circle cx="531.5" cy="148.7"/><circle cx="576.3" cy="119.8"/><circle cx="518.8" cy="124.1"/><circle cx="498.0" cy="109.8"/><circle cx="538.7" cy="92.1"/><circle cx="503.6" cy="124.5"/><circle cx="515.9" cy="66.1"/><circle cx="584.1" cy="124.7"/><circle cx="528.6" cy="86.2"/><circle cx="495.7" cy="139.4"/><circle cx="505.8" cy="110.6"/><circle cx="525.0" cy="135.3"/><circle cx="543.6" cy="112.5"/><circle cx="549.0" cy="85.1"/><circle cx="565.2" cy="76.8"/><circle cx="572.2" cy="81.7"/><circle cx="495.9" cy="162.6"/><circle cx="517.2" cy="71.7"/><circle cx="502.3" cy="93.4"/><circle cx="504.6" cy="159.8"/><circle cx="527.9" cy="168.5"/><circle cx="516.3" cy="173.2"/>
</g>
<g fill="#2aae58" stroke="#011406" stroke-width="1.15" class="dd">
<circle cx="70.0" cy="386.2"/><circle cx="53.5" cy="387.7"/><circle cx="76.5" cy="354.1"/><circle cx="75.8" cy="369.1"/><circle cx="54.0" cy="358.6"/><circle cx="80.9" cy="332.7"/><circle cx="77.1" cy="355.5"/><circle cx="66.4" cy="339.3"/><circle cx="71.6" cy="360.0"/><circle cx="52.7" cy="343.5"/><circle cx="65.6" cy="350.1"/><circle cx="62.6" cy="366.8"/><circle cx="78.3" cy="328.9"/><circle cx="65.4" cy="324.5"/><circle cx="70.8" cy="351.4"/><circle cx="69.4" cy="327.8"/><circle cx="62.1" cy="383.1"/><circle cx="50.4" cy="324.6"/><circle cx="63.2" cy="362.6"/><circle cx="75.4" cy="350.4"/><circle cx="83.8" cy="356.1"/><circle cx="88.1" cy="389.0"/><circle cx="75.1" cy="329.4"/><circle cx="72.7" cy="366.4"/><circle cx="78.6" cy="355.3"/><circle cx="62.1" cy="317.7"/><circle cx="69.1" cy="361.0"/><circle cx="84.5" cy="345.3"/><circle cx="65.0" cy="331.2"/><circle cx="55.9" cy="319.6"/><circle cx="64.2" cy="322.0"/><circle cx="80.4" cy="380.8"/><circle cx="66.0" cy="364.3"/><circle cx="82.2" cy="362.3"/><circle cx="49.6" cy="344.6"/><circle cx="54.9" cy="329.3"/><circle cx="54.9" cy="394.0"/><circle cx="74.2" cy="385.2"/><circle cx="81.6" cy="364.7"/><circle cx="72.6" cy="336.3"/><circle cx="84.0" cy="389.0"/><circle cx="76.7" cy="369.8"/><circle cx="69.2" cy="334.2"/><circle cx="51.3" cy="357.3"/><circle cx="89.6" cy="384.2"/><circle cx="59.9" cy="389.3"/><circle cx="55.8" cy="346.7"/><circle cx="84.1" cy="346.7"/><circle cx="71.3" cy="334.5"/><circle cx="68.2" cy="394.0"/><circle cx="61.3" cy="388.2"/><circle cx="69.8" cy="388.8"/><circle cx="84.6" cy="380.0"/><circle cx="77.2" cy="342.4"/><circle cx="84.7" cy="389.1"/><circle cx="89.9" cy="370.1"/><circle cx="68.8" cy="355.8"/><circle cx="56.3" cy="356.8"/><circle cx="60.9" cy="367.0"/><circle cx="54.2" cy="389.0"/><circle cx="71.9" cy="367.4"/><circle cx="70.2" cy="385.2"/><circle cx="51.3" cy="330.8"/><circle cx="63.3" cy="326.2"/><circle cx="71.2" cy="387.3"/><circle cx="73.4" cy="388.3"/><circle cx="75.1" cy="350.9"/><circle cx="76.0" cy="393.9"/><circle cx="77.6" cy="361.7"/><circle cx="71.1" cy="394.0"/><circle cx="60.1" cy="386.3"/><circle cx="64.2" cy="376.0"/><circle cx="64.6" cy="378.6"/><circle cx="82.5" cy="358.6"/><circle cx="53.3" cy="355.6"/><circle cx="74.7" cy="336.0"/><circle cx="71.0" cy="322.9"/><circle cx="49.2" cy="389.3"/><circle cx="72.5" cy="340.3"/><circle cx="65.0" cy="350.3"/><circle cx="55.5" cy="380.9"/><circle cx="50.7" cy="385.3"/><circle cx="84.9" cy="381.0"/><circle cx="80.6" cy="356.8"/><circle cx="58.9" cy="350.2"/><circle cx="48.3" cy="366.8"/><circle cx="57.6" cy="367.8"/><circle cx="88.8" cy="370.7"/><circle cx="57.2" cy="339.1"/><circle cx="67.3" cy="387.4"/><circle cx="71.2" cy="382.9"/><circle cx="61.4" cy="369.5"/><circle cx="62.8" cy="385.8"/><circle cx="58.8" cy="331.6"/><circle cx="83.3" cy="350.2"/><circle cx="51.0" cy="335.7"/><circle cx="54.0" cy="347.4"/><circle cx="63.9" cy="352.0"/><circle cx="68.7" cy="325.6"/><circle cx="80.6" cy="359.6"/><circle cx="50.6" cy="374.8"/><circle cx="69.5" cy="372.6"/><circle cx="74.8" cy="388.4"/><circle cx="59.9" cy="366.5"/><circle cx="88.2" cy="382.2"/><circle cx="64.3" cy="376.5"/><circle cx="75.7" cy="392.9"/><circle cx="65.1" cy="380.7"/><circle cx="82.3" cy="332.6"/><circle cx="81.3" cy="365.2"/><circle cx="80.5" cy="337.0"/><circle cx="73.8" cy="336.9"/><circle cx="57.8" cy="364.4"/><circle cx="75.3" cy="371.9"/><circle cx="53.1" cy="390.8"/><circle cx="65.4" cy="380.5"/><circle cx="65.4" cy="385.9"/><circle cx="72.8" cy="373.2"/><circle cx="58.2" cy="392.9"/><circle cx="71.2" cy="387.0"/><circle cx="58.2" cy="329.3"/><circle cx="72.2" cy="345.4"/><circle cx="58.2" cy="347.6"/><circle cx="64.0" cy="328.5"/><circle cx="74.6" cy="390.5"/><circle cx="72.1" cy="323.6"/><circle cx="82.0" cy="388.5"/><circle cx="49.7" cy="355.8"/><circle cx="79.7" cy="326.2"/><circle cx="78.1" cy="358.7"/><circle cx="70.4" cy="347.1"/><circle cx="70.2" cy="318.3"/><circle cx="58.3" cy="351.1"/><circle cx="67.9" cy="386.1"/><circle cx="53.9" cy="331.7"/><circle cx="78.9" cy="375.7"/><circle cx="74.6" cy="339.2"/><circle cx="82.9" cy="379.4"/><circle cx="55.1" cy="337.0"/><circle cx="64.9" cy="317.1"/><circle cx="49.4" cy="384.6"/><circle cx="74.8" cy="392.2"/><circle cx="70.0" cy="378.7"/><circle cx="75.0" cy="384.1"/><circle cx="88.5" cy="380.2"/><circle cx="63.0" cy="315.9"/><circle cx="78.6" cy="392.5"/><circle cx="60.0" cy="335.3"/><circle cx="82.7" cy="373.2"/><circle cx="65.9" cy="386.4"/><circle cx="54.0" cy="340.9"/><circle cx="85.0" cy="385.6"/><circle cx="73.2" cy="337.4"/><circle cx="60.9" cy="333.6"/><circle cx="75.8" cy="337.3"/><circle cx="56.2" cy="324.1"/><circle cx="52.8" cy="335.0"/><circle cx="85.1" cy="347.3"/><circle cx="76.4" cy="381.9"/><circle cx="77.7" cy="368.8"/><circle cx="72.5" cy="349.7"/><circle cx="74.2" cy="335.3"/><circle cx="83.0" cy="351.4"/><circle cx="49.6" cy="384.5"/><circle cx="61.5" cy="348.1"/><circle cx="68.8" cy="359.2"/><circle cx="83.4" cy="338.2"/><circle cx="62.8" cy="394.0"/><circle cx="74.8" cy="358.9"/><circle cx="54.7" cy="355.2"/><circle cx="71.0" cy="327.9"/><circle cx="56.4" cy="360.3"/><circle cx="53.0" cy="368.8"/><circle cx="67.1" cy="320.2"/><circle cx="54.2" cy="373.7"/><circle cx="85.3" cy="382.3"/><circle cx="83.4" cy="386.6"/><circle cx="53.1" cy="363.5"/><circle cx="66.6" cy="391.9"/><circle cx="65.8" cy="338.0"/><circle cx="51.6" cy="381.2"/><circle cx="70.9" cy="320.2"/><circle cx="78.8" cy="331.2"/><circle cx="57.2" cy="344.8"/><circle cx="73.0" cy="345.3"/><circle cx="75.6" cy="332.9"/><circle cx="65.0" cy="341.9"/><circle cx="66.6" cy="345.2"/><circle cx="73.5" cy="382.2"/><circle cx="55.7" cy="318.3"/><circle cx="78.3" cy="329.3"/><circle cx="67.5" cy="361.6"/><circle cx="89.9" cy="370.4"/><circle cx="55.1" cy="325.5"/><circle cx="63.9" cy="363.1"/><circle cx="69.4" cy="378.2"/><circle cx="74.5" cy="379.1"/><circle cx="50.5" cy="390.5"/><circle cx="73.9" cy="384.9"/><circle cx="70.7" cy="331.7"/><circle cx="79.9" cy="373.8"/><circle cx="86.9" cy="381.7"/><circle cx="57.3" cy="356.5"/><circle cx="56.3" cy="365.9"/><circle cx="51.3" cy="355.1"/><circle cx="64.0" cy="330.1"/><circle cx="87.5" cy="388.7"/><circle cx="72.5" cy="361.8"/><circle cx="77.1" cy="351.1"/><circle cx="79.8" cy="340.4"/><circle cx="56.0" cy="317.8"/><circle cx="79.9" cy="337.3"/><circle cx="78.6" cy="358.4"/><circle cx="49.3" cy="320.4"/><circle cx="62.5" cy="351.1"/><circle cx="51.6" cy="371.4"/><circle cx="79.2" cy="361.1"/><circle cx="48.7" cy="386.1"/><circle cx="54.2" cy="321.3"/><circle cx="66.5" cy="345.7"/><circle cx="58.4" cy="353.4"/><circle cx="70.3" cy="384.9"/><circle cx="77.2" cy="346.4"/><circle cx="53.0" cy="325.9"/><circle cx="82.1" cy="336.4"/><circle cx="61.7" cy="322.2"/><circle cx="86.9" cy="392.9"/><circle cx="67.0" cy="379.5"/><circle cx="88.2" cy="361.8"/><circle cx="78.7" cy="392.5"/><circle cx="79.7" cy="385.1"/><circle cx="49.2" cy="332.9"/><circle cx="80.8" cy="363.7"/><circle cx="84.0" cy="364.1"/><circle cx="58.2" cy="329.5"/><circle cx="81.8" cy="373.5"/><circle cx="61.9" cy="319.7"/><circle cx="73.5" cy="362.4"/><circle cx="62.4" cy="339.9"/><circle cx="85.1" cy="352.0"/><circle cx="58.9" cy="386.8"/><circle cx="86.9" cy="361.5"/><circle cx="70.7" cy="330.4"/><circle cx="69.4" cy="317.0"/><circle cx="65.7" cy="335.8"/><circle cx="86.1" cy="363.6"/><circle cx="67.6" cy="362.4"/><circle cx="66.2" cy="331.6"/><circle cx="55.3" cy="368.9"/><circle cx="68.2" cy="325.8"/><circle cx="67.9" cy="328.8"/><circle cx="51.6" cy="381.4"/><circle cx="81.1" cy="337.2"/><circle cx="66.4" cy="334.7"/><circle cx="87.7" cy="382.2"/><circle cx="60.7" cy="348.1"/><circle cx="65.1" cy="348.1"/><circle cx="74.1" cy="341.1"/><circle cx="53.8" cy="324.8"/><circle cx="81.0" cy="376.0"/><circle cx="78.8" cy="394.0"/><circle cx="83.2" cy="363.6"/><circle cx="79.2" cy="383.5"/><circle cx="54.0" cy="383.9"/><circle cx="78.1" cy="338.9"/><circle cx="49.8" cy="394.0"/><circle cx="84.7" cy="361.3"/><circle cx="73.3" cy="377.3"/><circle cx="72.4" cy="367.7"/><circle cx="65.8" cy="347.8"/><circle cx="49.6" cy="320.3"/><circle cx="51.0" cy="379.6"/><circle cx="92.9" cy="382.6"/><circle cx="80.9" cy="345.2"/><circle cx="60.1" cy="377.5"/><circle cx="48.2" cy="384.8"/><circle cx="88.1" cy="394.0"/><circle cx="84.7" cy="347.0"/><circle cx="72.0" cy="363.4"/><circle cx="74.7" cy="392.0"/><circle cx="58.8" cy="387.7"/><circle cx="64.4" cy="389.3"/><circle cx="49.0" cy="380.7"/><circle cx="62.4" cy="367.3"/><circle cx="53.9" cy="376.7"/><circle cx="82.2" cy="350.4"/><circle cx="50.4" cy="383.2"/><circle cx="57.7" cy="344.6"/><circle cx="79.4" cy="332.4"/><circle cx="82.7" cy="354.5"/><circle cx="65.4" cy="322.7"/><circle cx="66.2" cy="335.8"/><circle cx="65.0" cy="335.9"/><circle cx="74.8" cy="376.5"/><circle cx="69.5" cy="332.7"/><circle cx="73.1" cy="376.1"/><circle cx="85.1" cy="391.8"/><circle cx="88.1" cy="360.9"/><circle cx="78.2" cy="387.9"/><circle cx="76.4" cy="363.9"/><circle cx="63.8" cy="320.5"/><circle cx="57.2" cy="354.7"/><circle cx="87.3" cy="383.2"/><circle cx="77.2" cy="387.6"/><circle cx="86.5" cy="385.6"/><circle cx="78.3" cy="332.2"/><circle cx="75.2" cy="346.1"/><circle cx="82.8" cy="385.3"/><circle cx="83.9" cy="375.1"/><circle cx="70.1" cy="356.4"/><circle cx="76.5" cy="363.7"/><circle cx="77.2" cy="342.9"/><circle cx="65.3" cy="318.9"/><circle cx="51.5" cy="329.0"/><circle cx="79.0" cy="332.7"/><circle cx="88.1" cy="365.5"/><circle cx="81.5" cy="382.6"/><circle cx="58.0" cy="386.9"/><circle cx="76.3" cy="347.7"/><circle cx="73.5" cy="338.1"/><circle cx="59.7" cy="324.9"/><circle cx="71.1" cy="349.4"/><circle cx="51.5" cy="336.3"/><circle cx="68.0" cy="320.1"/><circle cx="57.2" cy="331.6"/><circle cx="68.6" cy="330.3"/><circle cx="77.9" cy="369.8"/><circle cx="55.7" cy="354.0"/><circle cx="73.3" cy="342.6"/><circle cx="87.9" cy="389.6"/><circle cx="81.3" cy="377.3"/><circle cx="51.6" cy="390.6"/><circle cx="83.1" cy="385.3"/><circle cx="49.7" cy="319.3"/><circle cx="56.5" cy="347.4"/><circle cx="48.5" cy="336.0"/><circle cx="77.8" cy="394.0"/><circle cx="53.7" cy="323.9"/><circle cx="88.5" cy="378.6"/><circle cx="82.0" cy="338.6"/><circle cx="74.9" cy="345.4"/><circle cx="59.7" cy="343.9"/><circle cx="64.9" cy="322.3"/><circle cx="56.9" cy="377.9"/><circle cx="73.4" cy="383.6"/><circle cx="80.4" cy="377.2"/><circle cx="64.1" cy="383.6"/><circle cx="68.6" cy="363.7"/><circle cx="67.1" cy="384.5"/><circle cx="78.8" cy="387.4"/><circle cx="86.2" cy="348.1"/><circle cx="58.3" cy="349.9"/><circle cx="69.2" cy="346.4"/><circle cx="73.7" cy="325.8"/><circle cx="71.0" cy="367.4"/><circle cx="87.9" cy="381.3"/><circle cx="82.9" cy="382.6"/><circle cx="68.2" cy="317.6"/><circle cx="68.1" cy="322.9"/><circle cx="53.2" cy="337.9"/><circle cx="75.3" cy="364.0"/><circle cx="78.0" cy="369.9"/><circle cx="73.5" cy="331.2"/><circle cx="49.3" cy="349.3"/><circle cx="87.8" cy="386.1"/><circle cx="51.3" cy="392.5"/><circle cx="55.3" cy="361.7"/><circle cx="61.8" cy="382.2"/><circle cx="81.0" cy="364.0"/><circle cx="84.7" cy="386.9"/><circle cx="60.7" cy="357.5"/><circle cx="49.9" cy="390.5"/><circle cx="63.7" cy="389.0"/><circle cx="55.9" cy="317.4"/><circle cx="82.9" cy="355.9"/><circle cx="66.3" cy="348.0"/><circle cx="76.5" cy="344.2"/><circle cx="54.2" cy="361.1"/><circle cx="76.4" cy="356.1"/><circle cx="68.4" cy="321.5"/><circle cx="56.1" cy="322.0"/><circle cx="66.2" cy="362.3"/><circle cx="58.4" cy="378.1"/><circle cx="53.6" cy="353.7"/><circle cx="58.2" cy="334.3"/><circle cx="71.3" cy="377.2"/><circle cx="55.8" cy="320.2"/><circle cx="51.7" cy="341.2"/><circle cx="83.6" cy="352.7"/><circle cx="90.9" cy="368.0"/><circle cx="56.1" cy="329.2"/><circle cx="88.0" cy="375.7"/><circle cx="59.3" cy="332.1"/><circle cx="76.7" cy="334.1"/><circle cx="61.8" cy="367.7"/><circle cx="72.7" cy="347.1"/><circle cx="66.1" cy="368.5"/><circle cx="66.3" cy="319.5"/><circle cx="73.5" cy="384.9"/><circle cx="74.7" cy="345.1"/><circle cx="83.5" cy="362.0"/><circle cx="80.2" cy="357.0"/><circle cx="51.7" cy="391.2"/><circle cx="76.6" cy="337.2"/><circle cx="80.4" cy="329.9"/><circle cx="51.1" cy="384.7"/><circle cx="75.5" cy="393.7"/><circle cx="58.0" cy="379.2"/><circle cx="80.4" cy="385.0"/><circle cx="65.2" cy="321.1"/><circle cx="85.7" cy="359.6"/><circle cx="62.9" cy="344.1"/><circle cx="70.0" cy="386.6"/><circle cx="79.1" cy="393.8"/><circle cx="50.7" cy="326.5"/><circle cx="60.6" cy="339.2"/><circle cx="70.9" cy="331.8"/><circle cx="70.8" cy="370.9"/><circle cx="80.4" cy="364.7"/><circle cx="74.4" cy="327.6"/><circle cx="89.9" cy="379.1"/><circle cx="52.2" cy="336.6"/><circle cx="56.7" cy="374.9"/><circle cx="76.1" cy="326.2"/><circle cx="68.4" cy="338.6"/><circle cx="59.5" cy="318.7"/><circle cx="54.1" cy="341.8"/><circle cx="73.4" cy="393.3"/><circle cx="60.7" cy="338.8"/><circle cx="70.7" cy="333.0"/><circle cx="76.3" cy="369.7"/><circle cx="53.8" cy="329.5"/><circle cx="71.1" cy="388.2"/><circle cx="71.0" cy="347.0"/><circle cx="73.1" cy="342.7"/><circle cx="87.0" cy="385.8"/><circle cx="84.2" cy="347.7"/><circle cx="86.9" cy="381.4"/><circle cx="81.2" cy="375.4"/><circle cx="77.4" cy="361.1"/><circle cx="51.1" cy="319.6"/><circle cx="50.8" cy="384.6"/><circle cx="80.9" cy="347.5"/><circle cx="62.4" cy="337.9"/><circle cx="59.6" cy="323.1"/><circle cx="69.3" cy="375.5"/><circle cx="62.1" cy="351.2"/><circle cx="72.5" cy="389.7"/><circle cx="82.8" cy="359.7"/><circle cx="58.2" cy="331.0"/><circle cx="52.0" cy="385.9"/><circle cx="70.6" cy="355.8"/><circle cx="60.9" cy="368.3"/><circle cx="68.2" cy="371.6"/><circle cx="53.8" cy="364.5"/><circle cx="68.7" cy="390.7"/><circle cx="56.4" cy="325.8"/><circle cx="64.0" cy="371.3"/><circle cx="67.7" cy="390.0"/><circle cx="64.5" cy="319.7"/><circle cx="66.8" cy="372.5"/><circle cx="52.3" cy="356.7"/><circle cx="69.0" cy="343.5"/><circle cx="61.4" cy="386.2"/><circle cx="66.7" cy="373.2"/><circle cx="65.6" cy="320.5"/><circle cx="59.4" cy="353.1"/><circle cx="55.2" cy="342.3"/><circle cx="66.6" cy="329.6"/><circle cx="60.1" cy="388.2"/><circle cx="76.6" cy="334.4"/><circle cx="66.5" cy="353.4"/><circle cx="70.4" cy="369.9"/><circle cx="66.6" cy="384.3"/><circle cx="79.9" cy="391.8"/><circle cx="72.9" cy="330.3"/><circle cx="62.0" cy="380.4"/><circle cx="86.9" cy="356.0"/><circle cx="48.2" cy="363.3"/><circle cx="49.4" cy="336.2"/><circle cx="54.7" cy="341.8"/><circle cx="89.4" cy="392.2"/><circle cx="50.4" cy="386.4"/><circle cx="81.2" cy="367.2"/><circle cx="60.8" cy="361.9"/><circle cx="77.8" cy="390.9"/><circle cx="78.6" cy="363.3"/><circle cx="59.9" cy="387.4"/><circle cx="50.6" cy="323.1"/><circle cx="69.6" cy="345.0"/><circle cx="58.8" cy="323.3"/><circle cx="88.7" cy="384.5"/><circle cx="60.9" cy="355.0"/><circle cx="83.2" cy="340.4"/><circle cx="67.5" cy="392.7"/><circle cx="65.4" cy="333.6"/><circle cx="54.3" cy="322.9"/><circle cx="48.2" cy="320.6"/><circle cx="49.4" cy="345.3"/><circle cx="58.8" cy="330.0"/><circle cx="51.6" cy="368.1"/><circle cx="75.4" cy="387.4"/><circle cx="67.3" cy="325.0"/><circle cx="55.7" cy="355.1"/><circle cx="54.0" cy="331.6"/><circle cx="69.8" cy="372.1"/><circle cx="68.6" cy="363.3"/><circle cx="52.6" cy="362.4"/><circle cx="60.6" cy="316.4"/><circle cx="53.7" cy="381.3"/><circle cx="75.0" cy="371.8"/><circle cx="59.2" cy="377.8"/><circle cx="72.1" cy="359.7"/><circle cx="60.3" cy="349.2"/><circle cx="74.8" cy="385.0"/><circle cx="53.7" cy="368.2"/><circle cx="53.5" cy="353.6"/><circle cx="67.9" cy="354.7"/><circle cx="50.4" cy="345.2"/><circle cx="85.1" cy="380.5"/><circle cx="59.2" cy="316.6"/><circle cx="84.9" cy="341.5"/><circle cx="61.1" cy="360.8"/><circle cx="72.7" cy="328.7"/><circle cx="50.1" cy="377.4"/><circle cx="80.1" cy="331.5"/><circle cx="77.0" cy="353.4"/><circle cx="75.7" cy="360.3"/><circle cx="56.9" cy="382.0"/><circle cx="56.4" cy="374.2"/><circle cx="57.0" cy="372.8"/><circle cx="78.8" cy="329.3"/><circle cx="54.8" cy="336.4"/><circle cx="58.2" cy="325.6"/><circle cx="69.9" cy="369.3"/><circle cx="88.7" cy="382.6"/><circle cx="64.6" cy="328.9"/><circle cx="63.7" cy="354.4"/><circle cx="51.7" cy="319.6"/><circle cx="65.6" cy="327.6"/><circle cx="54.0" cy="364.4"/><circle cx="61.9" cy="349.9"/><circle cx="59.5" cy="333.0"/><circle cx="80.8" cy="346.4"/><circle cx="48.8" cy="372.5"/><circle cx="86.3" cy="367.9"/><circle cx="60.4" cy="341.5"/><circle cx="73.2" cy="347.4"/><circle cx="61.0" cy="325.6"/><circle cx="57.4" cy="342.0"/><circle cx="67.6" cy="367.8"/><circle cx="62.4" cy="374.0"/><circle cx="78.0" cy="366.2"/><circle cx="71.2" cy="337.2"/><circle cx="67.8" cy="322.3"/><circle cx="85.1" cy="356.8"/><circle cx="69.8" cy="368.9"/><circle cx="53.5" cy="367.0"/><circle cx="62.2" cy="352.5"/><circle cx="68.3" cy="325.6"/><circle cx="57.2" cy="337.8"/><circle cx="62.6" cy="363.9"/><circle cx="54.2" cy="362.6"/><circle cx="60.6" cy="358.1"/><circle cx="74.8" cy="335.6"/><circle cx="68.2" cy="351.4"/><circle cx="54.8" cy="343.0"/><circle cx="85.5" cy="354.0"/><circle cx="63.9" cy="338.0"/><circle cx="68.6" cy="386.4"/><circle cx="55.3" cy="367.2"/><circle cx="67.7" cy="363.3"/><circle cx="64.2" cy="385.9"/><circle cx="55.0" cy="329.9"/><circle cx="53.8" cy="377.6"/><circle cx="78.7" cy="350.3"/><circle cx="51.0" cy="334.1"/><circle cx="54.1" cy="392.9"/><circle cx="51.0" cy="363.7"/><circle cx="73.4" cy="387.4"/><circle cx="76.4" cy="331.3"/><circle cx="88.0" cy="387.9"/><circle cx="85.6" cy="377.4"/><circle cx="49.3" cy="377.4"/><circle cx="73.8" cy="378.6"/><circle cx="87.7" cy="387.2"/><circle cx="84.2" cy="367.8"/><circle cx="59.0" cy="328.8"/><circle cx="65.2" cy="388.7"/><circle cx="63.6" cy="378.9"/><circle cx="56.7" cy="336.6"/><circle cx="68.9" cy="371.7"/><circle cx="66.3" cy="320.2"/><circle cx="81.8" cy="367.7"/><circle cx="82.9" cy="391.9"/><circle cx="80.2" cy="360.9"/><circle cx="75.6" cy="363.0"/><circle cx="76.0" cy="379.8"/><circle cx="78.2" cy="354.0"/><circle cx="59.2" cy="388.8"/><circle cx="69.4" cy="337.0"/><circle cx="61.5" cy="389.8"/><circle cx="82.4" cy="340.7"/><circle cx="88.1" cy="377.0"/><circle cx="69.3" cy="335.9"/><circle cx="82.8" cy="382.5"/><circle cx="50.1" cy="363.1"/><circle cx="61.7" cy="359.2"/><circle cx="65.6" cy="376.5"/><circle cx="61.8" cy="337.5"/><circle cx="71.6" cy="386.5"/><circle cx="56.3" cy="380.0"/><circle cx="83.7" cy="372.0"/><circle cx="70.3" cy="331.5"/><circle cx="76.6" cy="380.1"/><circle cx="55.8" cy="358.5"/><circle cx="77.4" cy="358.9"/><circle cx="56.5" cy="363.9"/><circle cx="74.3" cy="339.7"/><circle cx="82.5" cy="343.1"/><circle cx="82.6" cy="336.9"/><circle cx="72.6" cy="324.0"/><circle cx="60.3" cy="336.7"/><circle cx="72.5" cy="375.0"/><circle cx="72.1" cy="360.0"/><circle cx="79.7" cy="358.1"/><circle cx="50.7" cy="332.1"/><circle cx="51.3" cy="329.8"/><circle cx="61.0" cy="347.7"/><circle cx="83.4" cy="336.4"/><circle cx="70.4" cy="362.1"/><circle cx="55.6" cy="328.4"/><circle cx="60.6" cy="356.7"/><circle cx="79.5" cy="346.4"/><circle cx="56.0" cy="370.2"/><circle cx="71.2" cy="394.0"/><circle cx="83.9" cy="332.7"/><circle cx="66.6" cy="363.9"/><circle cx="108.8" cy="382.5"/><circle cx="81.4" cy="291.0"/><circle cx="62.4" cy="360.0"/><circle cx="58.7" cy="299.1"/><circle cx="89.2" cy="374.8"/><circle cx="102.9" cy="354.4"/><circle cx="101.3" cy="382.8"/><circle cx="65.5" cy="380.1"/><circle cx="48.8" cy="328.8"/><circle cx="52.6" cy="296.8"/><circle cx="73.3" cy="323.5"/><circle cx="66.2" cy="299.4"/><circle cx="136.9" cy="319.5"/><circle cx="55.9" cy="309.7"/><circle cx="101.2" cy="317.9"/><circle cx="179.6" cy="331.2"/><circle cx="82.7" cy="317.4"/><circle cx="74.0" cy="337.8"/><circle cx="50.6" cy="382.3"/><circle cx="138.5" cy="388.2"/><circle cx="128.5" cy="304.7"/><circle cx="61.3" cy="321.2"/><circle cx="151.8" cy="316.3"/><circle cx="97.0" cy="358.0"/><circle cx="94.4" cy="317.3"/><circle cx="72.1" cy="283.5"/><circle cx="50.5" cy="343.5"/><circle cx="158.1" cy="291.0"/><circle cx="91.7" cy="371.7"/><circle cx="84.7" cy="364.1"/><circle cx="55.3" cy="355.6"/><circle cx="55.1" cy="380.2"/><circle cx="81.0" cy="301.8"/><circle cx="67.1" cy="370.0"/><circle cx="57.6" cy="313.2"/><circle cx="70.2" cy="329.4"/><circle cx="63.4" cy="352.8"/><circle cx="50.4" cy="394.0"/><circle cx="71.5" cy="315.8"/><circle cx="61.2" cy="332.4"/><circle cx="71.4" cy="384.6"/><circle cx="66.3" cy="342.5"/><circle cx="106.4" cy="310.1"/><circle cx="111.6" cy="298.6"/><circle cx="114.3" cy="321.8"/><circle cx="96.4" cy="375.9"/><circle cx="49.2" cy="312.8"/><circle cx="63.3" cy="304.4"/><circle cx="53.9" cy="367.4"/><circle cx="79.0" cy="315.4"/><circle cx="72.2" cy="309.3"/><circle cx="76.2" cy="346.0"/><circle cx="96.5" cy="370.6"/><circle cx="123.0" cy="291.0"/><circle cx="118.4" cy="317.9"/><circle cx="95.3" cy="366.7"/><circle cx="61.8" cy="301.0"/><circle cx="87.6" cy="332.1"/><circle cx="48.2" cy="349.4"/><circle cx="78.0" cy="388.2"/><circle cx="81.6" cy="356.4"/><circle cx="69.6" cy="322.0"/><circle cx="102.9" cy="393.3"/><circle cx="58.9" cy="285.9"/><circle cx="89.8" cy="383.7"/><circle cx="79.5" cy="378.1"/><circle cx="76.3" cy="274.0"/><circle cx="51.6" cy="349.2"/><circle cx="106.3" cy="336.0"/><circle cx="174.9" cy="322.7"/><circle cx="70.3" cy="287.6"/><circle cx="78.8" cy="333.8"/><circle cx="64.4" cy="317.4"/><circle cx="60.2" cy="339.5"/><circle cx="81.2" cy="374.2"/><circle cx="100.7" cy="359.1"/><circle cx="120.1" cy="294.4"/><circle cx="122.0" cy="377.7"/><circle cx="70.6" cy="365.6"/><circle cx="49.2" cy="363.0"/><circle cx="93.9" cy="329.0"/><circle cx="79.2" cy="391.8"/><circle cx="65.6" cy="313.7"/><circle cx="49.2" cy="324.9"/><circle cx="171.7" cy="325.8"/><circle cx="69.7" cy="287.0"/><circle cx="49.5" cy="337.7"/><circle cx="122.7" cy="313.8"/><circle cx="82.4" cy="351.5"/><circle cx="92.1" cy="303.8"/><circle cx="160.0" cy="319.5"/><circle cx="70.3" cy="294.4"/><circle cx="72.7" cy="379.1"/><circle cx="53.3" cy="289.8"/><circle cx="65.9" cy="391.1"/><circle cx="99.7" cy="310.0"/><circle cx="82.3" cy="311.1"/><circle cx="191.6" cy="391.3"/><circle cx="57.4" cy="322.3"/><circle cx="112.8" cy="340.3"/><circle cx="98.7" cy="299.1"/><circle cx="74.1" cy="306.2"/><circle cx="100.4" cy="283.5"/><circle cx="70.0" cy="296.3"/><circle cx="70.3" cy="342.0"/><circle cx="132.2" cy="316.3"/><circle cx="85.3" cy="307.2"/><circle cx="83.1" cy="286.4"/><circle cx="68.2" cy="318.6"/><circle cx="67.8" cy="346.3"/><circle cx="100.1" cy="378.0"/><circle cx="85.6" cy="293.6"/><circle cx="77.3" cy="294.5"/><circle cx="126.2" cy="290.9"/><circle cx="49.1" cy="373.8"/><circle cx="103.6" cy="299.5"/><circle cx="92.9" cy="343.4"/><circle cx="58.4" cy="394.0"/><circle cx="70.7" cy="335.7"/><circle cx="141.6" cy="347.0"/><circle cx="100.6" cy="334.3"/><circle cx="94.4" cy="391.0"/><circle cx="108.8" cy="330.6"/><circle cx="128.4" cy="299.0"/><circle cx="85.7" cy="297.2"/><circle cx="178.0" cy="334.4"/><circle cx="81.5" cy="369.9"/><circle cx="79.3" cy="359.7"/><circle cx="64.6" cy="324.9"/><circle cx="90.9" cy="322.4"/><circle cx="66.6" cy="307.8"/><circle cx="121.9" cy="378.0"/><circle cx="74.6" cy="289.8"/><circle cx="97.5" cy="319.4"/><circle cx="116.8" cy="382.5"/><circle cx="79.0" cy="307.4"/><circle cx="62.7" cy="289.8"/><circle cx="50.0" cy="368.3"/><circle cx="87.3" cy="328.5"/><circle cx="89.0" cy="291.5"/><circle cx="87.6" cy="379.6"/><circle cx="59.3" cy="362.5"/><circle cx="54.0" cy="394.0"/><circle cx="126.5" cy="291.0"/><circle cx="105.7" cy="360.1"/><circle cx="57.6" cy="333.6"/><circle cx="92.2" cy="363.6"/><circle cx="108.0" cy="302.2"/><circle cx="85.6" cy="272.0"/><circle cx="98.4" cy="328.9"/><circle cx="128.7" cy="310.6"/><circle cx="97.4" cy="315.3"/><circle cx="66.3" cy="292.4"/><circle cx="54.3" cy="359.7"/><circle cx="87.3" cy="300.8"/><circle cx="66.4" cy="386.8"/><circle cx="143.2" cy="293.2"/><circle cx="88.9" cy="389.6"/><circle cx="69.8" cy="301.1"/><circle cx="56.9" cy="303.8"/><circle cx="82.5" cy="388.1"/><circle cx="89.5" cy="280.8"/><circle cx="75.0" cy="383.5"/><circle cx="74.8" cy="341.5"/><circle cx="97.2" cy="383.1"/><circle cx="69.6" cy="391.6"/><circle cx="53.6" cy="345.4"/><circle cx="170.1" cy="332.8"/><circle cx="101.4" cy="290.8"/><circle cx="53.8" cy="301.3"/><circle cx="91.0" cy="296.2"/><circle cx="50.1" cy="391.7"/><circle cx="124.4" cy="302.8"/><circle cx="51.3" cy="353.8"/><circle cx="116.3" cy="381.8"/><circle cx="93.4" cy="354.0"/><circle cx="76.7" cy="394.0"/><circle cx="73.7" cy="295.3"/><circle cx="101.2" cy="344.0"/><circle cx="105.3" cy="305.1"/><circle cx="54.5" cy="384.7"/><circle cx="124.2" cy="299.6"/><circle cx="75.3" cy="314.0"/><circle cx="60.4" cy="295.8"/><circle cx="89.0" cy="338.3"/><circle cx="69.5" cy="377.3"/><circle cx="85.6" cy="368.3"/><circle cx="94.0" cy="350.1"/><circle cx="52.8" cy="371.7"/><circle cx="155.9" cy="324.9"/><circle cx="127.4" cy="324.9"/><circle cx="62.7" cy="373.4"/><circle cx="88.3" cy="320.0"/><circle cx="102.7" cy="351.0"/><circle cx="92.5" cy="386.3"/><circle cx="59.9" cy="379.6"/><circle cx="52.7" cy="333.7"/><circle cx="120.9" cy="322.3"/><circle cx="79.4" cy="348.9"/><circle cx="62.3" cy="308.6"/><circle cx="78.2" cy="328.5"/><circle cx="125.1" cy="386.1"/><circle cx="98.3" cy="367.0"/><circle cx="111.6" cy="298.4"/><circle cx="72.9" cy="265.5"/><circle cx="58.4" cy="358.8"/><circle cx="101.2" cy="306.6"/><circle cx="74.4" cy="299.6"/><circle cx="56.7" cy="337.3"/><circle cx="82.9" cy="339.2"/><circle cx="66.2" cy="375.3"/><circle cx="94.5" cy="336.6"/><circle cx="53.4" cy="305.1"/><circle cx="98.3" cy="353.5"/><circle cx="167.0" cy="320.8"/><circle cx="84.0" cy="348.2"/><circle cx="160.0" cy="294.8"/><circle cx="55.0" cy="316.1"/><circle cx="109.0" cy="315.6"/><circle cx="124.2" cy="386.0"/><circle cx="90.6" cy="367.4"/><circle cx="66.9" cy="359.3"/><circle cx="57.9" cy="329.6"/><circle cx="120.4" cy="302.7"/><circle cx="94.5" cy="379.5"/><circle cx="97.5" cy="292.0"/><circle cx="99.2" cy="363.5"/><circle cx="69.6" cy="356.2"/><circle cx="59.8" cy="367.5"/><circle cx="75.4" cy="364.3"/><circle cx="81.8" cy="394.0"/><circle cx="68.3" cy="325.9"/><circle cx="79.7" cy="366.6"/><circle cx="58.7" cy="375.1"/><circle cx="71.0" cy="361.1"/><circle cx="84.5" cy="303.6"/><circle cx="61.3" cy="287.6"/><circle cx="79.2" cy="353.6"/><circle cx="113.2" cy="340.7"/><circle cx="55.4" cy="292.5"/><circle cx="94.3" cy="299.3"/><circle cx="73.9" cy="392.2"/><circle cx="162.2" cy="347.0"/><circle cx="48.9" cy="333.4"/><circle cx="86.3" cy="394.0"/><circle cx="88.2" cy="354.4"/><circle cx="113.2" cy="306.8"/><circle cx="67.4" cy="350.3"/><circle cx="96.0" cy="394.0"/><circle cx="59.9" cy="391.1"/><circle cx="126.1" cy="308.1"/><circle cx="103.7" cy="324.0"/><circle cx="55.5" cy="389.6"/><circle cx="84.9" cy="358.1"/><circle cx="104.0" cy="314.1"/><circle cx="74.2" cy="285.2"/><circle cx="64.0" cy="366.5"/><circle cx="63.8" cy="339.3"/><circle cx="125.8" cy="332.2"/><circle cx="62.9" cy="394.0"/><circle cx="95.0" cy="293.3"/><circle cx="72.5" cy="347.2"/><circle cx="98.5" cy="386.8"/><circle cx="100.8" cy="366.2"/><circle cx="73.8" cy="329.8"/><circle cx="53.7" cy="329.9"/><circle cx="97.2" cy="289.0"/><circle cx="104.7" cy="374.3"/><circle cx="87.7" cy="361.3"/><circle cx="61.7" cy="312.9"/><circle cx="95.0" cy="310.2"/><circle cx="70.1" cy="305.9"/><circle cx="82.2" cy="282.2"/><circle cx="184.4" cy="325.8"/><circle cx="73.8" cy="333.9"/><circle cx="79.1" cy="340.1"/><circle cx="81.2" cy="324.8"/><circle cx="84.9" cy="321.9"/><circle cx="64.5" cy="356.4"/><circle cx="96.6" cy="343.5"/><circle cx="84.9" cy="382.5"/><circle cx="63.1" cy="377.3"/><circle cx="64.5" cy="330.1"/><circle cx="50.1" cy="307.1"/><circle cx="93.5" cy="288.7"/><circle cx="73.8" cy="287.7"/><circle cx="85.2" cy="373.4"/><circle cx="59.9" cy="384.6"/><circle cx="60.9" cy="326.3"/><circle cx="123.6" cy="313.8"/><circle cx="62.4" cy="343.8"/><circle cx="100.8" cy="370.6"/><circle cx="79.3" cy="272.3"/><circle cx="75.9" cy="356.3"/><circle cx="91.8" cy="393.6"/><circle cx="66.9" cy="394.0"/><circle cx="73.5" cy="319.5"/><circle cx="54.3" cy="363.5"/><circle cx="76.3" cy="368.1"/><circle cx="114.4" cy="315.6"/><circle cx="70.1" cy="292.2"/><circle cx="77.8" cy="310.8"/><circle cx="59.0" cy="317.1"/><circle cx="188.5" cy="295.8"/><circle cx="87.3" cy="294.1"/><circle cx="58.7" cy="343.7"/><circle cx="58.9" cy="353.5"/><circle cx="144.2" cy="316.3"/><circle cx="90.7" cy="309.5"/><circle cx="77.3" cy="374.1"/><circle cx="62.3" cy="347.8"/><circle cx="61.8" cy="387.7"/><circle cx="73.7" cy="279.1"/><circle cx="88.4" cy="349.9"/><circle cx="86.1" cy="314.8"/><circle cx="86.8" cy="287.1"/><circle cx="74.3" cy="351.1"/><circle cx="74.7" cy="360.2"/><circle cx="95.8" cy="362.6"/><circle cx="59.8" cy="371.1"/><circle cx="154.3" cy="332.8"/><circle cx="73.7" cy="370.9"/><circle cx="55.8" cy="326.0"/><circle cx="52.9" cy="320.8"/><circle cx="117.9" cy="312.2"/><circle cx="77.8" cy="320.8"/><circle cx="132.2" cy="329.0"/><circle cx="99.0" cy="323.0"/><circle cx="134.7" cy="329.0"/><circle cx="49.9" cy="318.6"/><circle cx="124.2" cy="291.0"/><circle cx="48.2" cy="378.4"/><circle cx="113.7" cy="304.9"/><circle cx="97.4" cy="303.8"/><circle cx="53.1" cy="339.2"/><circle cx="102.1" cy="362.7"/><circle cx="111.3" cy="308.8"/><circle cx="50.2" cy="359.1"/><circle cx="69.3" cy="381.6"/><circle cx="92.7" cy="313.8"/><circle cx="48.2" cy="355.8"/><circle cx="80.0" cy="297.6"/><circle cx="187.5" cy="313.2"/><circle cx="119.5" cy="299.6"/><circle cx="65.3" cy="320.9"/><circle cx="61.7" cy="288.8"/><circle cx="80.5" cy="292.3"/><circle cx="88.3" cy="343.3"/><circle cx="83.6" cy="378.6"/><circle cx="83.8" cy="391.9"/><circle cx="96.5" cy="390.6"/><circle cx="64.5" cy="334.2"/><circle cx="78.5" cy="381.7"/><circle cx="68.4" cy="332.6"/><circle cx="68.1" cy="338.7"/><circle cx="98.6" cy="350.5"/><circle cx="48.6" cy="387.4"/><circle cx="73.4" cy="387.8"/><circle cx="51.9" cy="378.3"/><circle cx="48.2" cy="299.1"/><circle cx="55.7" cy="348.4"/><circle cx="83.9" cy="289.8"/><circle cx="55.1" cy="375.5"/><circle cx="90.8" cy="334.6"/><circle cx="118.2" cy="307.6"/><circle cx="71.9" cy="374.6"/><circle cx="82.4" cy="344.7"/><circle cx="85.9" cy="335.9"/><circle cx="90.7" cy="358.0"/><circle cx="113.1" cy="292.2"/>
</g>
<g fill="#38b850" stroke="#03200a" stroke-width="1.0" class="de">
<circle cx="336.1" cy="363.5"/><circle cx="321.0" cy="362.4"/><circle cx="344.8" cy="317.6"/><circle cx="356.3" cy="352.5"/><circle cx="339.6" cy="352.4"/><circle cx="295.2" cy="379.1"/><circle cx="323.4" cy="288.0"/><circle cx="325.8" cy="366.1"/><circle cx="351.1" cy="335.4"/><circle cx="360.4" cy="317.2"/><circle cx="351.8" cy="333.5"/><circle cx="324.5" cy="330.7"/><circle cx="283.5" cy="393.6"/><circle cx="347.0" cy="324.0"/><circle cx="336.9" cy="303.6"/><circle cx="342.3" cy="312.9"/><circle cx="357.8" cy="287.6"/><circle cx="316.6" cy="331.3"/><circle cx="308.4" cy="341.3"/><circle cx="296.2" cy="351.2"/><circle cx="328.7" cy="327.4"/><circle cx="303.9" cy="378.3"/><circle cx="320.9" cy="355.8"/><circle cx="343.0" cy="346.7"/><circle cx="300.8" cy="372.7"/><circle cx="326.0" cy="313.1"/><circle cx="327.8" cy="352.7"/><circle cx="314.6" cy="381.2"/><circle cx="391.8" cy="309.4"/><circle cx="357.2" cy="314.4"/><circle cx="330.4" cy="296.8"/><circle cx="292.4" cy="366.4"/><circle cx="326.1" cy="369.0"/><circle cx="300.2" cy="328.2"/><circle cx="316.8" cy="334.1"/><circle cx="330.4" cy="309.2"/><circle cx="305.6" cy="354.1"/><circle cx="315.4" cy="346.0"/><circle cx="329.7" cy="333.6"/><circle cx="310.3" cy="364.1"/><circle cx="319.4" cy="345.0"/><circle cx="330.4" cy="348.7"/><circle cx="347.0" cy="346.2"/><circle cx="335.2" cy="334.7"/><circle cx="337.5" cy="324.0"/><circle cx="309.6" cy="326.5"/><circle cx="301.5" cy="357.1"/><circle cx="341.7" cy="308.7"/><circle cx="343.4" cy="378.7"/><circle cx="291.8" cy="383.8"/><circle cx="340.0" cy="317.8"/><circle cx="360.8" cy="317.6"/><circle cx="285.5" cy="384.8"/><circle cx="322.4" cy="350.2"/><circle cx="292.4" cy="375.1"/><circle cx="332.6" cy="294.6"/><circle cx="305.6" cy="347.0"/><circle cx="314.9" cy="352.0"/><circle cx="335.2" cy="354.6"/><circle cx="303.2" cy="392.3"/><circle cx="307.2" cy="337.5"/><circle cx="327.1" cy="336.5"/><circle cx="346.7" cy="335.4"/><circle cx="320.6" cy="322.1"/><circle cx="322.7" cy="353.4"/><circle cx="344.1" cy="351.5"/><circle cx="301.3" cy="390.0"/><circle cx="350.2" cy="348.6"/><circle cx="320.0" cy="359.6"/><circle cx="326.2" cy="358.6"/><circle cx="338.7" cy="357.4"/><circle cx="281.7" cy="366.5"/><circle cx="318.4" cy="383.9"/><circle cx="328.0" cy="321.0"/><circle cx="288.3" cy="389.7"/><circle cx="360.0" cy="292.0"/><circle cx="315.8" cy="376.9"/><circle cx="298.4" cy="353.9"/><circle cx="345.3" cy="349.0"/><circle cx="323.0" cy="345.5"/><circle cx="345.6" cy="323.5"/><circle cx="344.4" cy="339.1"/><circle cx="303.2" cy="386.9"/><circle cx="328.3" cy="376.7"/><circle cx="347.7" cy="328.0"/><circle cx="304.7" cy="394.4"/><circle cx="360.4" cy="261.8"/><circle cx="354.8" cy="331.3"/><circle cx="289.6" cy="377.0"/><circle cx="310.4" cy="322.6"/><circle cx="333.9" cy="341.8"/><circle cx="304.3" cy="386.5"/><circle cx="352.0" cy="346.8"/><circle cx="339.0" cy="341.6"/><circle cx="355.2" cy="344.3"/><circle cx="317.0" cy="348.5"/><circle cx="329.4" cy="309.7"/><circle cx="346.8" cy="323.8"/><circle cx="350.6" cy="322.8"/><circle cx="335.7" cy="358.4"/><circle cx="296.3" cy="342.9"/><circle cx="329.9" cy="370.3"/><circle cx="354.7" cy="374.7"/><circle cx="289.9" cy="353.5"/><circle cx="344.0" cy="330.9"/><circle cx="315.4" cy="328.0"/><circle cx="310.4" cy="356.1"/><circle cx="315.6" cy="367.3"/><circle cx="292.9" cy="389.1"/><circle cx="349.3" cy="349.6"/><circle cx="307.2" cy="344.7"/><circle cx="331.5" cy="356.0"/><circle cx="287.5" cy="392.3"/><circle cx="338.6" cy="332.1"/><circle cx="291.6" cy="385.5"/><circle cx="340.9" cy="329.8"/><circle cx="386.7" cy="276.9"/><circle cx="354.2" cy="339.3"/><circle cx="325.3" cy="354.8"/><circle cx="307.2" cy="391.6"/><circle cx="303.5" cy="344.4"/><circle cx="318.0" cy="351.2"/><circle cx="307.0" cy="380.9"/><circle cx="310.6" cy="359.4"/><circle cx="341.3" cy="335.5"/><circle cx="299.7" cy="363.7"/><circle cx="294.0" cy="362.8"/><circle cx="354.7" cy="344.0"/><circle cx="359.3" cy="330.0"/><circle cx="299.5" cy="316.5"/><circle cx="322.4" cy="366.2"/><circle cx="304.0" cy="359.3"/><circle cx="288.2" cy="382.7"/><circle cx="294.8" cy="385.8"/><circle cx="305.9" cy="386.9"/><circle cx="347.8" cy="246.5"/><circle cx="354.8" cy="375.3"/><circle cx="297.4" cy="332.0"/><circle cx="291.3" cy="380.4"/><circle cx="293.4" cy="279.9"/><circle cx="303.4" cy="381.6"/><circle cx="345.7" cy="308.7"/><circle cx="343.2" cy="378.7"/><circle cx="301.1" cy="385.9"/><circle cx="324.9" cy="362.5"/><circle cx="395.2" cy="283.0"/><circle cx="329.5" cy="327.2"/><circle cx="294.0" cy="354.9"/><circle cx="312.4" cy="372.3"/><circle cx="309.5" cy="377.9"/><circle cx="319.5" cy="384.8"/><circle cx="307.3" cy="384.9"/><circle cx="321.0" cy="340.0"/><circle cx="327.6" cy="340.5"/><circle cx="347.0" cy="314.8"/><circle cx="338.6" cy="336.4"/><circle cx="299.8" cy="393.0"/><circle cx="303.6" cy="371.6"/><circle cx="349.6" cy="331.6"/><circle cx="350.7" cy="313.4"/><circle cx="330.7" cy="313.8"/><circle cx="359.5" cy="291.9"/><circle cx="303.6" cy="307.4"/><circle cx="347.9" cy="328.3"/><circle cx="310.3" cy="382.5"/><circle cx="312.3" cy="376.4"/><circle cx="311.3" cy="391.0"/><circle cx="320.4" cy="371.9"/><circle cx="335.0" cy="327.0"/><circle cx="357.0" cy="373.5"/><circle cx="325.1" cy="327.1"/><circle cx="352.1" cy="327.7"/><circle cx="328.3" cy="384.0"/><circle cx="294.8" cy="328.7"/><circle cx="322.2" cy="324.9"/><circle cx="312.8" cy="314.8"/><circle cx="335.0" cy="382.0"/><circle cx="330.0" cy="342.4"/><circle cx="306.3" cy="365.9"/><circle cx="346.8" cy="374.7"/><circle cx="324.3" cy="334.5"/><circle cx="323.9" cy="382.3"/><circle cx="312.6" cy="346.8"/><circle cx="353.9" cy="244.6"/><circle cx="336.9" cy="343.9"/><circle cx="338.8" cy="313.3"/><circle cx="298.2" cy="358.4"/><circle cx="337.7" cy="329.2"/><circle cx="298.4" cy="366.2"/><circle cx="301.6" cy="369.1"/><circle cx="322.9" cy="377.4"/><circle cx="301.5" cy="316.5"/><circle cx="351.7" cy="244.6"/><circle cx="302.4" cy="364.8"/><circle cx="330.4" cy="351.8"/><circle cx="313.9" cy="358.1"/><circle cx="311.2" cy="353.2"/><circle cx="330.2" cy="358.7"/><circle cx="319.3" cy="365.3"/><circle cx="309.7" cy="338.7"/><circle cx="301.5" cy="376.7"/><circle cx="333.7" cy="361.8"/><circle cx="357.6" cy="314.7"/><circle cx="340.5" cy="349.7"/><circle cx="342.8" cy="327.2"/><circle cx="348.0" cy="320.6"/><circle cx="349.2" cy="354.6"/><circle cx="359.2" cy="329.4"/><circle cx="316.6" cy="360.8"/><circle cx="306.3" cy="372.9"/><circle cx="417.2" cy="288.0"/><circle cx="309.7" cy="318.5"/><circle cx="359.3" cy="324.6"/><circle cx="329.2" cy="364.0"/><circle cx="309.8" cy="335.7"/><circle cx="335.0" cy="330.8"/><circle cx="310.4" cy="330.4"/><circle cx="327.8" cy="268.5"/><circle cx="311.0" cy="342.4"/><circle cx="296.4" cy="348.0"/><circle cx="347.3" cy="375.3"/><circle cx="299.6" cy="381.2"/><circle cx="290.7" cy="321.2"/><circle cx="353.9" cy="334.2"/><circle cx="312.9" cy="362.5"/><circle cx="298.5" cy="377.5"/><circle cx="355.2" cy="305.6"/><circle cx="348.5" cy="338.6"/><circle cx="301.3" cy="351.4"/><circle cx="333.0" cy="376.0"/><circle cx="377.0" cy="294.8"/><circle cx="331.7" cy="338.6"/><circle cx="344.6" cy="354.8"/><circle cx="332.8" cy="294.8"/><circle cx="310.8" cy="367.3"/><circle cx="341.2" cy="339.0"/><circle cx="304.3" cy="338.8"/><circle cx="355.3" cy="306.0"/><circle cx="281.4" cy="360.4"/><circle cx="354.7" cy="348.9"/><circle cx="342.5" cy="358.8"/><circle cx="302.6" cy="348.9"/><circle cx="326.8" cy="347.9"/><circle cx="306.8" cy="362.1"/><circle cx="294.4" cy="371.7"/><circle cx="344.5" cy="342.9"/><circle cx="333.7" cy="311.2"/><circle cx="333.5" cy="313.8"/><circle cx="315.5" cy="339.4"/><circle cx="349.5" cy="342.5"/><circle cx="317.4" cy="341.6"/><circle cx="317.7" cy="356.3"/><circle cx="318.7" cy="374.6"/><circle cx="299.8" cy="395.0"/><circle cx="297.0" cy="388.2"/><circle cx="305.9" cy="368.7"/><circle cx="332.3" cy="331.5"/><circle cx="289.9" cy="373.1"/><circle cx="351.6" cy="320.1"/><circle cx="297.9" cy="348.7"/><circle cx="323.9" cy="337.7"/><circle cx="341.3" cy="344.3"/><circle cx="357.0" cy="324.4"/><circle cx="359.9" cy="331.2"/><circle cx="295.8" cy="368.6"/><circle cx="346.4" cy="328.6"/><circle cx="335.3" cy="339.1"/><circle cx="319.9" cy="336.7"/><circle cx="328.1" cy="330.4"/><circle cx="309.1" cy="351.0"/><circle cx="309.4" cy="388.6"/><circle cx="324.5" cy="342.8"/><circle cx="320.1" cy="387.5"/><circle cx="309.0" cy="309.7"/><circle cx="315.0" cy="370.8"/><circle cx="332.1" cy="364.6"/><circle cx="308.9" cy="370.4"/><circle cx="314.2" cy="391.1"/><circle cx="325.7" cy="372.6"/><circle cx="290.3" cy="359.4"/><circle cx="320.5" cy="331.9"/><circle cx="333.8" cy="348.7"/>
</g>
<path class="rl" d="M47.1 169.4L213.1 57.2"/>
<path class="rl" d="M274.4 163L430.9 108.4"/>
<path class="rl" d="M495.7 164L643 57.3"/>
<path class="rl" d="M47.5 389L190.8 265.6"/>
<path class="rl" d="M281.5 377.3L417.4 284.1" style="stroke-width:1.9"/>
<g class="tl">
<text x="41.3" y="183.3" text-anchor="end">0</text><text x="41.3" y="153.5" text-anchor="end">10</text><text x="41.3" y="123.6" text-anchor="end">20</text><text x="41.3" y="93.8" text-anchor="end">30</text><text x="41.3" y="63.9" text-anchor="end">40</text><text x="41.3" y="34.1" text-anchor="end">50</text><text x="47.1" y="197.4" text-anchor="middle">0</text><text x="95.9" y="197.4" text-anchor="middle">20</text><text x="144.7" y="197.4" text-anchor="middle">40</text><text x="193.5" y="197.4" text-anchor="middle">60</text>
<text x="262.3" y="175.6" text-anchor="end">0</text><text x="262.3" y="146.8" text-anchor="end">10</text><text x="262.3" y="118.0" text-anchor="end">20</text><text x="262.3" y="89.2" text-anchor="end">30</text><text x="262.3" y="60.4" text-anchor="end">40</text><text x="262.3" y="31.6" text-anchor="end">50</text><text x="274.3" y="193.4" text-anchor="middle">0</text><text x="315.0" y="193.4" text-anchor="middle">50</text><text x="355.6" y="193.4" text-anchor="middle">100</text><text x="396.3" y="193.4" text-anchor="middle">150</text><text x="437.0" y="193.4" text-anchor="middle">200</text>
<text x="482.7" y="179.2" text-anchor="end">0</text><text x="482.7" y="149.7" text-anchor="end">5</text><text x="482.7" y="120.1" text-anchor="end">10</text><text x="482.7" y="90.6" text-anchor="end">15</text><text x="482.7" y="61.0" text-anchor="end">20</text><text x="482.7" y="31.5" text-anchor="end">25</text><text x="495.7" y="197.7" text-anchor="middle">0</text><text x="552.4" y="197.7" text-anchor="middle">20</text><text x="609.0" y="197.7" text-anchor="middle">40</text><text x="665.7" y="197.7" text-anchor="middle">60</text>
<text x="34.9" y="400.0" text-anchor="end">0</text><text x="34.9" y="362.6" text-anchor="end">5</text><text x="34.9" y="325.2" text-anchor="end">10</text><text x="34.9" y="287.8" text-anchor="end">15</text><text x="34.9" y="250.4" text-anchor="end">20</text><text x="48.2" y="418.4" text-anchor="middle">0</text><text x="105.5" y="418.4" text-anchor="middle">10</text><text x="162.8" y="418.4" text-anchor="middle">20</text><text x="220.1" y="418.4" text-anchor="middle">30</text>
<text x="264.3" y="402.2" text-anchor="end">0</text><text x="264.3" y="362.1" text-anchor="end">1000</text><text x="264.3" y="322.1" text-anchor="end">2000</text><text x="264.3" y="282.0" text-anchor="end">3000</text><text x="264.3" y="241.9" text-anchor="end">4000</text><text x="276.3" y="419.0" text-anchor="middle">0</text><text x="329.3" y="419.0" text-anchor="middle">1000</text><text x="382.3" y="419.0" text-anchor="middle">2000</text><text x="435.3" y="419.0" text-anchor="middle">3000</text>
</g>
<g class="pl"><text x="0" y="15">a</text><text x="229.5" y="15">b</text><text x="446" y="15">c</text><text x="3.5" y="224">d</text><text x="232" y="223.4">e</text></g>
<g class="tt">
<text x="65.8" y="44">Half-hourly</text>
<text x="289.2" y="44.4">Daily</text>
<text x="515.5" y="43.8">Weekly</text>
<text x="56.6" y="257">Monthly</text>
<text x="289.2" y="256">Yearly</text>
<text x="151.6" y="114.1"><tspan font-style="italic">R</tspan><tspan font-size="10.8px" baseline-shift="5px">2</tspan>=0.0055</text>
<text x="146.6" y="136.7">n=7.2×10<tspan font-size="10.8px" baseline-shift="5px">6</tspan></text>
<text x="342.3" y="81.3"><tspan font-style="italic">R</tspan><tspan font-size="10.8px" baseline-shift="5px">2</tspan>=0.042</text>
<text x="343" y="104.4">n=1.9×105</text>
<text x="619.9" y="105.1"><tspan font-style="italic">R</tspan><tspan font-size="10.8px" baseline-shift="5px">2</tspan>=0.16</text>
<text x="617.9" y="126.1">n=2.6×10<tspan font-size="10.8px" baseline-shift="5px">4</tspan></text>
<text x="144.7" y="366.3"><tspan font-style="italic">R</tspan><tspan font-size="10.8px" baseline-shift="5px">2</tspan>=0.34</text>
<text x="144.3" y="387.0">n=6057</text>
<text x="385.2" y="344.0"><tspan font-style="italic">R</tspan><tspan font-size="10.8px" baseline-shift="5px">2</tspan>=0.78</text>
<text x="387.6" y="366.9">n=509</text>
<text x="71.8" y="217.3" class="xl">Precipitation (mm)</text>
<text x="291.3" y="216.6" class="xl">Precipitation (mm day<tspan font-size="10.8px" baseline-shift="5px">-1</tspan>)</text>
<text x="514.9" y="220.5" class="xl">Precipitation (mm day<tspan font-size="10.8px" baseline-shift="5px">-1</tspan>)</text>
<text x="65.5" y="434.7" class="xl">Precipitation (mm day<tspan font-size="10.8px" baseline-shift="5px">-1</tspan>)</text>
<text x="302" y="438.4" class="xl">Precipitation (mm yr<tspan font-size="10.8px" baseline-shift="5px">-1</tspan>)</text>
<text transform="translate(23.2,170.6) rotate(-90)"><tspan font-style="italic">Re</tspan> (u mol CO<tspan font-size="10px" baseline-shift="-1px">2</tspan> m<tspan font-size="10px" baseline-shift="5px">-2</tspan> s<tspan font-size="10px" baseline-shift="5px">-1</tspan>)</text>
<text transform="translate(240.2,142.5) rotate(-90)"><tspan font-style="italic">Re</tspan> (g c m<tspan font-size="10px" baseline-shift="5px">-2</tspan>d<tspan font-size="10px" baseline-shift="5px">-1</tspan>)</text>
<text transform="translate(464.5,140.8) rotate(-90)"><tspan font-style="italic">Re</tspan> (g c m<tspan font-size="10px" baseline-shift="5px">-2</tspan>d<tspan font-size="10px" baseline-shift="5px">-1</tspan>)</text>
<text transform="translate(14.2,359.7) rotate(-90)"><tspan font-style="italic">Re</tspan> (g c m<tspan font-size="10px" baseline-shift="5px">-2</tspan>d<tspan font-size="10px" baseline-shift="5px">-1</tspan>)</text>
<text transform="translate(229.5,359.6) rotate(-90)"><tspan font-style="italic">Re</tspan> (g c m<tspan font-size="10px" baseline-shift="5px">-2</tspan>yr<tspan font-size="10px" baseline-shift="5px">-1</tspan>)</text>
</g>
</svg></body></html>
